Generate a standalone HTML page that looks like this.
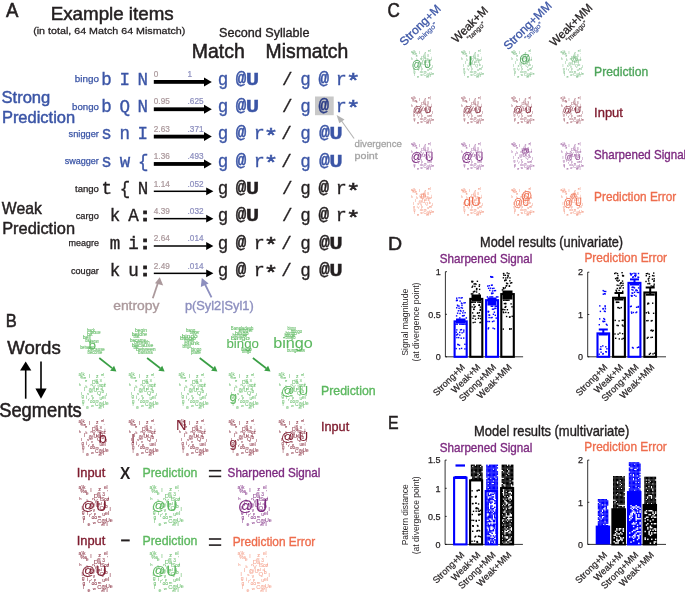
<!DOCTYPE html>
<html><head><meta charset="utf-8"><style>
html,body{margin:0;padding:0;background:#fff;overflow:hidden}
svg{display:block}
</style></head><body>
<svg width="685" height="592" viewBox="0 0 685 592">
<rect width="685" height="592" fill="#fff"/>
<text x="5.90" y="16.80" font-size="19.5" fill="#231f20" font-family="'Liberation Sans', Arial, sans-serif" stroke="#231f20" stroke-width="0.55" textLength="12.40" lengthAdjust="spacingAndGlyphs">A</text>
<text x="50.70" y="20.00" font-size="18.4" fill="#231f20" font-family="'Liberation Sans', Arial, sans-serif" stroke="#231f20" stroke-width="0.52" textLength="123.00" lengthAdjust="spacingAndGlyphs">Example items</text>
<text x="33.20" y="33.60" font-size="9.6" fill="#231f20" font-family="'Liberation Sans', Arial, sans-serif" stroke="#231f20" stroke-width="0.27" textLength="152.20" lengthAdjust="spacingAndGlyphs">(in total, 64 Match 64 Mismatch)</text>
<text x="219.00" y="36.90" font-size="13.0" fill="#231f20" font-family="'Liberation Sans', Arial, sans-serif" stroke="#231f20" stroke-width="0.36" textLength="90.40" lengthAdjust="spacingAndGlyphs">Second Syllable</text>
<text x="191.80" y="57.60" font-size="19.8" fill="#231f20" font-family="'Liberation Sans', Arial, sans-serif" stroke="#231f20" stroke-width="0.55" textLength="52.90" lengthAdjust="spacingAndGlyphs">Match</text>
<text x="265.60" y="57.60" font-size="19.8" fill="#231f20" font-family="'Liberation Sans', Arial, sans-serif" stroke="#231f20" stroke-width="0.55" textLength="82.70" lengthAdjust="spacingAndGlyphs">Mismatch</text>
<text x="1.50" y="103.30" font-size="16.2" fill="#3b55a6" font-family="'Liberation Sans', Arial, sans-serif" stroke="#3b55a6" stroke-width="0.45" textLength="48.80" lengthAdjust="spacingAndGlyphs">Strong</text>
<text x="1.90" y="123.40" font-size="16.2" fill="#3b55a6" font-family="'Liberation Sans', Arial, sans-serif" stroke="#3b55a6" stroke-width="0.45" textLength="73.30" lengthAdjust="spacingAndGlyphs">Prediction</text>
<text x="1.80" y="213.70" font-size="16.2" fill="#231f20" font-family="'Liberation Sans', Arial, sans-serif" stroke="#231f20" stroke-width="0.45" textLength="40.00" lengthAdjust="spacingAndGlyphs">Weak</text>
<text x="2.20" y="233.50" font-size="16.2" fill="#231f20" font-family="'Liberation Sans', Arial, sans-serif" stroke="#231f20" stroke-width="0.45" textLength="72.80" lengthAdjust="spacingAndGlyphs">Prediction</text>
<text x="74.80" y="82.30" font-size="9.0" fill="#3b55a6" font-family="'Liberation Sans', Arial, sans-serif" stroke="#3b55a6" stroke-width="0.25" textLength="24.10" lengthAdjust="spacingAndGlyphs">bingo</text>
<text x="106.60" y="84.50" font-size="17.5" fill="#3b55a6" font-family="'Liberation Mono', 'Courier New', monospace" text-anchor="middle" stroke="#3b55a6" stroke-width="0.35">b</text>
<text x="124.70" y="84.50" font-size="17.5" fill="#3b55a6" font-family="'Liberation Mono', 'Courier New', monospace" text-anchor="middle" stroke="#3b55a6" stroke-width="0.35">I</text>
<text x="142.80" y="84.50" font-size="17.5" fill="#3b55a6" font-family="'Liberation Mono', 'Courier New', monospace" text-anchor="middle" stroke="#3b55a6" stroke-width="0.35">N</text>
<text x="153.80" y="77.10" font-size="8.2" fill="#ab999c" font-family="'Liberation Sans', Arial, sans-serif" stroke="#ab999c" stroke-width="0.23">0</text>
<text x="187.60" y="77.10" font-size="8.2" fill="#8d8fbf" font-family="'Liberation Sans', Arial, sans-serif" stroke="#8d8fbf" stroke-width="0.23">1</text>
<rect x="153.8" y="80.00" width="51" height="3.8" fill="#000"/>
<polygon points="204,77.40 211.8,81.90 204,86.40" fill="#000"/>
<text x="223.00" y="84.50" font-size="17.5" fill="#3b55a6" font-family="'Liberation Mono', 'Courier New', monospace" text-anchor="middle" stroke="#3b55a6" stroke-width="0.3">g</text>
<text x="241.00" y="83.70" font-size="17.5" fill="#3b55a6" font-family="'Liberation Mono', 'Courier New', monospace" text-anchor="middle" font-weight="bold" stroke="#3b55a6" stroke-width="0.45">@</text>
<text x="252.50" y="84.50" font-size="17.5" fill="#3b55a6" font-family="'Liberation Mono', 'Courier New', monospace" textLength="13.50" lengthAdjust="spacingAndGlyphs" text-anchor="middle" font-weight="bold" stroke="#3b55a6" stroke-width="0.3">U</text>
<text x="287.30" y="84.50" font-size="17.5" fill="#231f20" font-family="'Liberation Mono', 'Courier New', monospace" text-anchor="middle" stroke="#231f20" stroke-width="0.3">/</text>
<text x="305.50" y="84.50" font-size="17.5" fill="#3b55a6" font-family="'Liberation Mono', 'Courier New', monospace" text-anchor="middle" stroke="#3b55a6" stroke-width="0.3">g</text>
<text x="323.70" y="83.70" font-size="17.5" fill="#3b55a6" font-family="'Liberation Mono', 'Courier New', monospace" text-anchor="middle" font-weight="bold" stroke="#3b55a6" stroke-width="0.45">@</text>
<text x="341.20" y="84.50" font-size="17.5" fill="#3b55a6" font-family="'Liberation Mono', 'Courier New', monospace" textLength="11.00" lengthAdjust="spacingAndGlyphs" text-anchor="middle" stroke="#3b55a6" stroke-width="0.3">r</text>
<text x="353.30" y="88.10" font-size="21" fill="#3b55a6" font-family="'Liberation Mono', 'Courier New', monospace" textLength="14.50" lengthAdjust="spacingAndGlyphs" text-anchor="middle" stroke="#3b55a6" stroke-width="0.6">*</text>
<rect x="315" y="96.5" width="18.7" height="18.7" fill="#c8c8c8"/>
<text x="72.10" y="109.65" font-size="9.0" fill="#3b55a6" font-family="'Liberation Sans', Arial, sans-serif" stroke="#3b55a6" stroke-width="0.25" textLength="26.80" lengthAdjust="spacingAndGlyphs">bongo</text>
<text x="106.60" y="111.85" font-size="17.5" fill="#3b55a6" font-family="'Liberation Mono', 'Courier New', monospace" text-anchor="middle" stroke="#3b55a6" stroke-width="0.35">b</text>
<text x="124.70" y="111.85" font-size="17.5" fill="#3b55a6" font-family="'Liberation Mono', 'Courier New', monospace" text-anchor="middle" stroke="#3b55a6" stroke-width="0.35">Q</text>
<text x="142.80" y="111.85" font-size="17.5" fill="#3b55a6" font-family="'Liberation Mono', 'Courier New', monospace" text-anchor="middle" stroke="#3b55a6" stroke-width="0.35">N</text>
<text x="153.80" y="104.45" font-size="8.2" fill="#ab999c" font-family="'Liberation Sans', Arial, sans-serif" stroke="#ab999c" stroke-width="0.23">0.95</text>
<text x="187.60" y="104.45" font-size="8.2" fill="#8d8fbf" font-family="'Liberation Sans', Arial, sans-serif" stroke="#8d8fbf" stroke-width="0.23">.625</text>
<rect x="153.8" y="107.35" width="51" height="3.8" fill="#000"/>
<polygon points="204,104.75 211.8,109.25 204,113.75" fill="#000"/>
<text x="223.00" y="111.85" font-size="17.5" fill="#3b55a6" font-family="'Liberation Mono', 'Courier New', monospace" text-anchor="middle" stroke="#3b55a6" stroke-width="0.3">g</text>
<text x="241.00" y="111.05" font-size="17.5" fill="#3b55a6" font-family="'Liberation Mono', 'Courier New', monospace" text-anchor="middle" font-weight="bold" stroke="#3b55a6" stroke-width="0.45">@</text>
<text x="252.50" y="111.85" font-size="17.5" fill="#3b55a6" font-family="'Liberation Mono', 'Courier New', monospace" textLength="13.50" lengthAdjust="spacingAndGlyphs" text-anchor="middle" font-weight="bold" stroke="#3b55a6" stroke-width="0.3">U</text>
<text x="287.30" y="111.85" font-size="17.5" fill="#231f20" font-family="'Liberation Mono', 'Courier New', monospace" text-anchor="middle" stroke="#231f20" stroke-width="0.3">/</text>
<text x="305.50" y="111.85" font-size="17.5" fill="#3b55a6" font-family="'Liberation Mono', 'Courier New', monospace" text-anchor="middle" stroke="#3b55a6" stroke-width="0.3">g</text>
<text x="323.70" y="111.05" font-size="17.5" fill="#2a3c86" font-family="'Liberation Mono', 'Courier New', monospace" text-anchor="middle" font-weight="bold" stroke="#2a3c86" stroke-width="0.45">@</text>
<text x="341.20" y="111.85" font-size="17.5" fill="#3b55a6" font-family="'Liberation Mono', 'Courier New', monospace" textLength="11.00" lengthAdjust="spacingAndGlyphs" text-anchor="middle" stroke="#3b55a6" stroke-width="0.3">r</text>
<text x="353.30" y="115.45" font-size="21" fill="#3b55a6" font-family="'Liberation Mono', 'Courier New', monospace" textLength="14.50" lengthAdjust="spacingAndGlyphs" text-anchor="middle" stroke="#3b55a6" stroke-width="0.6">*</text>
<text x="68.60" y="137.00" font-size="9.0" fill="#3b55a6" font-family="'Liberation Sans', Arial, sans-serif" stroke="#3b55a6" stroke-width="0.25" textLength="30.30" lengthAdjust="spacingAndGlyphs">snigger</text>
<text x="106.60" y="139.20" font-size="17.5" fill="#3b55a6" font-family="'Liberation Mono', 'Courier New', monospace" text-anchor="middle" stroke="#3b55a6" stroke-width="0.35">s</text>
<text x="124.70" y="139.20" font-size="17.5" fill="#3b55a6" font-family="'Liberation Mono', 'Courier New', monospace" text-anchor="middle" stroke="#3b55a6" stroke-width="0.35">n</text>
<text x="142.80" y="139.20" font-size="17.5" fill="#3b55a6" font-family="'Liberation Mono', 'Courier New', monospace" text-anchor="middle" stroke="#3b55a6" stroke-width="0.35">I</text>
<text x="153.80" y="131.80" font-size="8.2" fill="#ab999c" font-family="'Liberation Sans', Arial, sans-serif" stroke="#ab999c" stroke-width="0.23">2.63</text>
<text x="187.60" y="131.80" font-size="8.2" fill="#8d8fbf" font-family="'Liberation Sans', Arial, sans-serif" stroke="#8d8fbf" stroke-width="0.23">.371</text>
<rect x="153.8" y="134.70" width="51" height="3.8" fill="#000"/>
<polygon points="204,132.10 211.8,136.60 204,141.10" fill="#000"/>
<text x="223.00" y="139.20" font-size="17.5" fill="#3b55a6" font-family="'Liberation Mono', 'Courier New', monospace" text-anchor="middle" stroke="#3b55a6" stroke-width="0.3">g</text>
<text x="241.00" y="138.40" font-size="17.5" fill="#3b55a6" font-family="'Liberation Mono', 'Courier New', monospace" text-anchor="middle" font-weight="bold" stroke="#3b55a6" stroke-width="0.45">@</text>
<text x="259.30" y="139.20" font-size="17.5" fill="#3b55a6" font-family="'Liberation Mono', 'Courier New', monospace" textLength="11.00" lengthAdjust="spacingAndGlyphs" text-anchor="middle" stroke="#3b55a6" stroke-width="0.3">r</text>
<text x="271.00" y="142.80" font-size="21" fill="#3b55a6" font-family="'Liberation Mono', 'Courier New', monospace" textLength="14.50" lengthAdjust="spacingAndGlyphs" text-anchor="middle" stroke="#3b55a6" stroke-width="0.6">*</text>
<text x="286.50" y="139.20" font-size="17.5" fill="#231f20" font-family="'Liberation Mono', 'Courier New', monospace" text-anchor="middle" stroke="#231f20" stroke-width="0.3">/</text>
<text x="305.50" y="139.20" font-size="17.5" fill="#3b55a6" font-family="'Liberation Mono', 'Courier New', monospace" text-anchor="middle" stroke="#3b55a6" stroke-width="0.3">g</text>
<text x="324.50" y="138.40" font-size="17.5" fill="#3b55a6" font-family="'Liberation Mono', 'Courier New', monospace" text-anchor="middle" font-weight="bold" stroke="#3b55a6" stroke-width="0.45">@</text>
<text x="336.00" y="139.20" font-size="17.5" fill="#3b55a6" font-family="'Liberation Mono', 'Courier New', monospace" textLength="13.50" lengthAdjust="spacingAndGlyphs" text-anchor="middle" font-weight="bold" stroke="#3b55a6" stroke-width="0.3">U</text>
<text x="64.70" y="164.35" font-size="9.0" fill="#3b55a6" font-family="'Liberation Sans', Arial, sans-serif" stroke="#3b55a6" stroke-width="0.25" textLength="34.20" lengthAdjust="spacingAndGlyphs">swagger</text>
<text x="106.60" y="166.55" font-size="17.5" fill="#3b55a6" font-family="'Liberation Mono', 'Courier New', monospace" text-anchor="middle" stroke="#3b55a6" stroke-width="0.35">s</text>
<text x="125.10" y="166.55" font-size="17.5" fill="#3b55a6" font-family="'Liberation Mono', 'Courier New', monospace" text-anchor="middle" stroke="#3b55a6" stroke-width="0.35">w</text>
<text x="143.30" y="166.55" font-size="17.5" fill="#3b55a6" font-family="'Liberation Mono', 'Courier New', monospace" text-anchor="middle" stroke="#3b55a6" stroke-width="0.35">{</text>
<text x="153.80" y="159.15" font-size="8.2" fill="#ab999c" font-family="'Liberation Sans', Arial, sans-serif" stroke="#ab999c" stroke-width="0.23">1.36</text>
<text x="187.60" y="159.15" font-size="8.2" fill="#8d8fbf" font-family="'Liberation Sans', Arial, sans-serif" stroke="#8d8fbf" stroke-width="0.23">.493</text>
<rect x="153.8" y="162.05" width="51" height="3.8" fill="#000"/>
<polygon points="204,159.45 211.8,163.95 204,168.45" fill="#000"/>
<text x="223.00" y="166.55" font-size="17.5" fill="#3b55a6" font-family="'Liberation Mono', 'Courier New', monospace" text-anchor="middle" stroke="#3b55a6" stroke-width="0.3">g</text>
<text x="241.00" y="165.75" font-size="17.5" fill="#3b55a6" font-family="'Liberation Mono', 'Courier New', monospace" text-anchor="middle" font-weight="bold" stroke="#3b55a6" stroke-width="0.45">@</text>
<text x="259.30" y="166.55" font-size="17.5" fill="#3b55a6" font-family="'Liberation Mono', 'Courier New', monospace" textLength="11.00" lengthAdjust="spacingAndGlyphs" text-anchor="middle" stroke="#3b55a6" stroke-width="0.3">r</text>
<text x="271.00" y="170.15" font-size="21" fill="#3b55a6" font-family="'Liberation Mono', 'Courier New', monospace" textLength="14.50" lengthAdjust="spacingAndGlyphs" text-anchor="middle" stroke="#3b55a6" stroke-width="0.6">*</text>
<text x="286.50" y="166.55" font-size="17.5" fill="#231f20" font-family="'Liberation Mono', 'Courier New', monospace" text-anchor="middle" stroke="#231f20" stroke-width="0.3">/</text>
<text x="305.50" y="166.55" font-size="17.5" fill="#3b55a6" font-family="'Liberation Mono', 'Courier New', monospace" text-anchor="middle" stroke="#3b55a6" stroke-width="0.3">g</text>
<text x="324.50" y="165.75" font-size="17.5" fill="#3b55a6" font-family="'Liberation Mono', 'Courier New', monospace" text-anchor="middle" font-weight="bold" stroke="#3b55a6" stroke-width="0.45">@</text>
<text x="336.00" y="166.55" font-size="17.5" fill="#3b55a6" font-family="'Liberation Mono', 'Courier New', monospace" textLength="13.50" lengthAdjust="spacingAndGlyphs" text-anchor="middle" font-weight="bold" stroke="#3b55a6" stroke-width="0.3">U</text>
<text x="75.00" y="191.70" font-size="9.0" fill="#231f20" font-family="'Liberation Sans', Arial, sans-serif" stroke="#231f20" stroke-width="0.25" textLength="23.90" lengthAdjust="spacingAndGlyphs">tango</text>
<text x="106.70" y="193.90" font-size="17.5" fill="#231f20" font-family="'Liberation Mono', 'Courier New', monospace" text-anchor="middle" stroke="#231f20" stroke-width="0.35">t</text>
<text x="125.00" y="193.90" font-size="17.5" fill="#231f20" font-family="'Liberation Mono', 'Courier New', monospace" text-anchor="middle" stroke="#231f20" stroke-width="0.35">{</text>
<text x="143.00" y="193.90" font-size="17.5" fill="#231f20" font-family="'Liberation Mono', 'Courier New', monospace" text-anchor="middle" stroke="#231f20" stroke-width="0.35">N</text>
<text x="153.80" y="186.50" font-size="8.2" fill="#ab999c" font-family="'Liberation Sans', Arial, sans-serif" stroke="#ab999c" stroke-width="0.23">1.14</text>
<text x="187.60" y="186.50" font-size="8.2" fill="#8d8fbf" font-family="'Liberation Sans', Arial, sans-serif" stroke="#8d8fbf" stroke-width="0.23">.052</text>
<rect x="153.8" y="190.55" width="53" height="1.5" fill="#000"/>
<polygon points="206.2,187.40 213.4,191.30 206.2,195.20" fill="#000"/>
<text x="223.00" y="193.90" font-size="17.5" fill="#231f20" font-family="'Liberation Mono', 'Courier New', monospace" text-anchor="middle" stroke="#231f20" stroke-width="0.3">g</text>
<text x="241.00" y="193.10" font-size="17.5" fill="#231f20" font-family="'Liberation Mono', 'Courier New', monospace" text-anchor="middle" font-weight="bold" stroke="#231f20" stroke-width="0.45">@</text>
<text x="252.50" y="193.90" font-size="17.5" fill="#231f20" font-family="'Liberation Mono', 'Courier New', monospace" textLength="13.50" lengthAdjust="spacingAndGlyphs" text-anchor="middle" font-weight="bold" stroke="#231f20" stroke-width="0.3">U</text>
<text x="287.30" y="193.90" font-size="17.5" fill="#231f20" font-family="'Liberation Mono', 'Courier New', monospace" text-anchor="middle" stroke="#231f20" stroke-width="0.3">/</text>
<text x="305.50" y="193.90" font-size="17.5" fill="#231f20" font-family="'Liberation Mono', 'Courier New', monospace" text-anchor="middle" stroke="#231f20" stroke-width="0.3">g</text>
<text x="323.70" y="193.10" font-size="17.5" fill="#231f20" font-family="'Liberation Mono', 'Courier New', monospace" text-anchor="middle" font-weight="bold" stroke="#231f20" stroke-width="0.45">@</text>
<text x="341.20" y="193.90" font-size="17.5" fill="#231f20" font-family="'Liberation Mono', 'Courier New', monospace" textLength="11.00" lengthAdjust="spacingAndGlyphs" text-anchor="middle" stroke="#231f20" stroke-width="0.3">r</text>
<text x="353.30" y="197.50" font-size="21" fill="#231f20" font-family="'Liberation Mono', 'Courier New', monospace" textLength="14.50" lengthAdjust="spacingAndGlyphs" text-anchor="middle" stroke="#231f20" stroke-width="0.6">*</text>
<text x="75.70" y="219.05" font-size="9.0" fill="#231f20" font-family="'Liberation Sans', Arial, sans-serif" stroke="#231f20" stroke-width="0.25" textLength="23.20" lengthAdjust="spacingAndGlyphs">cargo</text>
<text x="114.90" y="221.25" font-size="17.5" fill="#231f20" font-family="'Liberation Mono', 'Courier New', monospace" text-anchor="middle" stroke="#231f20" stroke-width="0.35">k</text>
<text x="133.40" y="221.25" font-size="17.5" fill="#231f20" font-family="'Liberation Mono', 'Courier New', monospace" text-anchor="middle" stroke="#231f20" stroke-width="0.35">A</text>
<text x="145.00" y="221.25" font-size="18.5" fill="#231f20" font-family="'Liberation Mono', 'Courier New', monospace" text-anchor="middle" font-weight="bold" stroke="#231f20" stroke-width="1.1">:</text>
<text x="153.80" y="213.85" font-size="8.2" fill="#ab999c" font-family="'Liberation Sans', Arial, sans-serif" stroke="#ab999c" stroke-width="0.23">4.39</text>
<text x="187.60" y="213.85" font-size="8.2" fill="#8d8fbf" font-family="'Liberation Sans', Arial, sans-serif" stroke="#8d8fbf" stroke-width="0.23">.032</text>
<rect x="153.8" y="217.90" width="53" height="1.5" fill="#000"/>
<polygon points="206.2,214.75 213.4,218.65 206.2,222.55" fill="#000"/>
<text x="223.00" y="221.25" font-size="17.5" fill="#231f20" font-family="'Liberation Mono', 'Courier New', monospace" text-anchor="middle" stroke="#231f20" stroke-width="0.3">g</text>
<text x="241.00" y="220.45" font-size="17.5" fill="#231f20" font-family="'Liberation Mono', 'Courier New', monospace" text-anchor="middle" font-weight="bold" stroke="#231f20" stroke-width="0.45">@</text>
<text x="252.50" y="221.25" font-size="17.5" fill="#231f20" font-family="'Liberation Mono', 'Courier New', monospace" textLength="13.50" lengthAdjust="spacingAndGlyphs" text-anchor="middle" font-weight="bold" stroke="#231f20" stroke-width="0.3">U</text>
<text x="287.30" y="221.25" font-size="17.5" fill="#231f20" font-family="'Liberation Mono', 'Courier New', monospace" text-anchor="middle" stroke="#231f20" stroke-width="0.3">/</text>
<text x="305.50" y="221.25" font-size="17.5" fill="#231f20" font-family="'Liberation Mono', 'Courier New', monospace" text-anchor="middle" stroke="#231f20" stroke-width="0.3">g</text>
<text x="323.70" y="220.45" font-size="17.5" fill="#231f20" font-family="'Liberation Mono', 'Courier New', monospace" text-anchor="middle" font-weight="bold" stroke="#231f20" stroke-width="0.45">@</text>
<text x="341.20" y="221.25" font-size="17.5" fill="#231f20" font-family="'Liberation Mono', 'Courier New', monospace" textLength="11.00" lengthAdjust="spacingAndGlyphs" text-anchor="middle" stroke="#231f20" stroke-width="0.3">r</text>
<text x="353.30" y="224.85" font-size="21" fill="#231f20" font-family="'Liberation Mono', 'Courier New', monospace" textLength="14.50" lengthAdjust="spacingAndGlyphs" text-anchor="middle" stroke="#231f20" stroke-width="0.6">*</text>
<text x="68.40" y="246.40" font-size="9.0" fill="#231f20" font-family="'Liberation Sans', Arial, sans-serif" stroke="#231f20" stroke-width="0.25" textLength="30.50" lengthAdjust="spacingAndGlyphs">meagre</text>
<text x="115.00" y="248.60" font-size="17.5" fill="#231f20" font-family="'Liberation Mono', 'Courier New', monospace" text-anchor="middle" stroke="#231f20" stroke-width="0.35">m</text>
<text x="133.40" y="248.60" font-size="17.5" fill="#231f20" font-family="'Liberation Mono', 'Courier New', monospace" text-anchor="middle" stroke="#231f20" stroke-width="0.35">i</text>
<text x="145.00" y="248.60" font-size="18.5" fill="#231f20" font-family="'Liberation Mono', 'Courier New', monospace" text-anchor="middle" font-weight="bold" stroke="#231f20" stroke-width="1.1">:</text>
<text x="153.80" y="241.20" font-size="8.2" fill="#ab999c" font-family="'Liberation Sans', Arial, sans-serif" stroke="#ab999c" stroke-width="0.23">2.64</text>
<text x="187.60" y="241.20" font-size="8.2" fill="#8d8fbf" font-family="'Liberation Sans', Arial, sans-serif" stroke="#8d8fbf" stroke-width="0.23">.014</text>
<rect x="153.8" y="245.25" width="53" height="1.5" fill="#000"/>
<polygon points="206.2,242.10 213.4,246.00 206.2,249.90" fill="#000"/>
<text x="223.00" y="248.60" font-size="17.5" fill="#231f20" font-family="'Liberation Mono', 'Courier New', monospace" text-anchor="middle" stroke="#231f20" stroke-width="0.3">g</text>
<text x="241.00" y="247.80" font-size="17.5" fill="#231f20" font-family="'Liberation Mono', 'Courier New', monospace" text-anchor="middle" font-weight="bold" stroke="#231f20" stroke-width="0.45">@</text>
<text x="259.30" y="248.60" font-size="17.5" fill="#231f20" font-family="'Liberation Mono', 'Courier New', monospace" textLength="11.00" lengthAdjust="spacingAndGlyphs" text-anchor="middle" stroke="#231f20" stroke-width="0.3">r</text>
<text x="271.00" y="252.20" font-size="21" fill="#231f20" font-family="'Liberation Mono', 'Courier New', monospace" textLength="14.50" lengthAdjust="spacingAndGlyphs" text-anchor="middle" stroke="#231f20" stroke-width="0.6">*</text>
<text x="286.50" y="248.60" font-size="17.5" fill="#231f20" font-family="'Liberation Mono', 'Courier New', monospace" text-anchor="middle" stroke="#231f20" stroke-width="0.3">/</text>
<text x="305.50" y="248.60" font-size="17.5" fill="#231f20" font-family="'Liberation Mono', 'Courier New', monospace" text-anchor="middle" stroke="#231f20" stroke-width="0.3">g</text>
<text x="324.50" y="247.80" font-size="17.5" fill="#231f20" font-family="'Liberation Mono', 'Courier New', monospace" text-anchor="middle" font-weight="bold" stroke="#231f20" stroke-width="0.45">@</text>
<text x="336.00" y="248.60" font-size="17.5" fill="#231f20" font-family="'Liberation Mono', 'Courier New', monospace" textLength="13.50" lengthAdjust="spacingAndGlyphs" text-anchor="middle" font-weight="bold" stroke="#231f20" stroke-width="0.3">U</text>
<text x="70.90" y="273.75" font-size="9.0" fill="#231f20" font-family="'Liberation Sans', Arial, sans-serif" stroke="#231f20" stroke-width="0.25" textLength="28.00" lengthAdjust="spacingAndGlyphs">cougar</text>
<text x="114.90" y="275.95" font-size="17.5" fill="#231f20" font-family="'Liberation Mono', 'Courier New', monospace" text-anchor="middle" stroke="#231f20" stroke-width="0.35">k</text>
<text x="133.40" y="275.95" font-size="17.5" fill="#231f20" font-family="'Liberation Mono', 'Courier New', monospace" text-anchor="middle" stroke="#231f20" stroke-width="0.35">u</text>
<text x="145.00" y="275.95" font-size="18.5" fill="#231f20" font-family="'Liberation Mono', 'Courier New', monospace" text-anchor="middle" font-weight="bold" stroke="#231f20" stroke-width="1.1">:</text>
<text x="153.80" y="268.55" font-size="8.2" fill="#ab999c" font-family="'Liberation Sans', Arial, sans-serif" stroke="#ab999c" stroke-width="0.23">2.49</text>
<text x="187.60" y="268.55" font-size="8.2" fill="#8d8fbf" font-family="'Liberation Sans', Arial, sans-serif" stroke="#8d8fbf" stroke-width="0.23">.014</text>
<rect x="153.8" y="272.60" width="53" height="1.5" fill="#000"/>
<polygon points="206.2,269.45 213.4,273.35 206.2,277.25" fill="#000"/>
<text x="223.00" y="275.95" font-size="17.5" fill="#231f20" font-family="'Liberation Mono', 'Courier New', monospace" text-anchor="middle" stroke="#231f20" stroke-width="0.3">g</text>
<text x="241.00" y="275.15" font-size="17.5" fill="#231f20" font-family="'Liberation Mono', 'Courier New', monospace" text-anchor="middle" font-weight="bold" stroke="#231f20" stroke-width="0.45">@</text>
<text x="259.30" y="275.95" font-size="17.5" fill="#231f20" font-family="'Liberation Mono', 'Courier New', monospace" textLength="11.00" lengthAdjust="spacingAndGlyphs" text-anchor="middle" stroke="#231f20" stroke-width="0.3">r</text>
<text x="271.00" y="279.55" font-size="21" fill="#231f20" font-family="'Liberation Mono', 'Courier New', monospace" textLength="14.50" lengthAdjust="spacingAndGlyphs" text-anchor="middle" stroke="#231f20" stroke-width="0.6">*</text>
<text x="286.50" y="275.95" font-size="17.5" fill="#231f20" font-family="'Liberation Mono', 'Courier New', monospace" text-anchor="middle" stroke="#231f20" stroke-width="0.3">/</text>
<text x="305.50" y="275.95" font-size="17.5" fill="#231f20" font-family="'Liberation Mono', 'Courier New', monospace" text-anchor="middle" stroke="#231f20" stroke-width="0.3">g</text>
<text x="324.50" y="275.15" font-size="17.5" fill="#231f20" font-family="'Liberation Mono', 'Courier New', monospace" text-anchor="middle" font-weight="bold" stroke="#231f20" stroke-width="0.45">@</text>
<text x="336.00" y="275.95" font-size="17.5" fill="#231f20" font-family="'Liberation Mono', 'Courier New', monospace" textLength="13.50" lengthAdjust="spacingAndGlyphs" text-anchor="middle" font-weight="bold" stroke="#231f20" stroke-width="0.3">U</text>
<line x1="354.1" y1="138.5" x2="340" y2="118.8" stroke="#b4b4b4" stroke-width="1.1"/>
<polygon points="336.6,115.1 344.5,119.6 339.3,123.3" fill="#b4b4b4"/>
<text x="354.60" y="146.80" font-size="9.6" fill="#a3a3a3" font-family="'Liberation Sans', Arial, sans-serif" stroke="#a3a3a3" stroke-width="0.27" textLength="47.30" lengthAdjust="spacingAndGlyphs">divergence</text>
<text x="354.60" y="158.60" font-size="9.6" fill="#a3a3a3" font-family="'Liberation Sans', Arial, sans-serif" stroke="#a3a3a3" stroke-width="0.27" textLength="23.20" lengthAdjust="spacingAndGlyphs">point</text>
<line x1="152.8" y1="298.3" x2="158.6" y2="281" stroke="#ab999c" stroke-width="1.8"/>
<polygon points="159.8,277.3 163.2,285.5 155.0,283.2" fill="#ab999c"/>
<line x1="211.5" y1="297.4" x2="203.6" y2="281.5" stroke="#8d8fbf" stroke-width="1.8"/>
<polygon points="201.8,278.1 208.6,283.6 200.8,287.0" fill="#8d8fbf"/>
<text x="113.20" y="310.00" font-size="13.0" fill="#ab999c" font-family="'Liberation Sans', Arial, sans-serif" stroke="#ab999c" stroke-width="0.36" textLength="46.30" lengthAdjust="spacingAndGlyphs">entropy</text>
<text x="184.90" y="310.00" font-size="13.0" fill="#8d8fbf" font-family="'Liberation Sans', Arial, sans-serif" stroke="#8d8fbf" stroke-width="0.36" textLength="68.80" lengthAdjust="spacingAndGlyphs">p(Syl2|Syl1)</text>
<text x="5.70" y="327.00" font-size="18.5" fill="#231f20" font-family="'Liberation Sans', Arial, sans-serif" stroke="#231f20" stroke-width="0.52" textLength="11.00" lengthAdjust="spacingAndGlyphs">B</text>
<text x="7.30" y="353.60" font-size="18.8" fill="#231f20" font-family="'Liberation Sans', Arial, sans-serif" stroke="#231f20" stroke-width="0.53" textLength="53.40" lengthAdjust="spacingAndGlyphs">Words</text>
<text x="-0.80" y="416.70" font-size="19.5" fill="#231f20" font-family="'Liberation Sans', Arial, sans-serif" stroke="#231f20" stroke-width="0.55" textLength="82.50" lengthAdjust="spacingAndGlyphs">Segments</text>
<line x1="25.7" y1="369" x2="25.7" y2="398.7" stroke="#000" stroke-width="1.6"/>
<polygon points="25.7,361.6 31.3,370.5 20.1,370.5" fill="#000"/>
<line x1="41" y1="361.6" x2="41" y2="390" stroke="#000" stroke-width="1.6"/>
<polygon points="41,398.7 46.6,388.6 35.4,388.6" fill="#000"/>
<g fill="#5cb85f" stroke="#5cb85f" stroke-width="0.15" font-family="'Liberation Sans', Arial, sans-serif" opacity="0.85"><text x="87" y="331.8" font-size="4.6" textLength="8" lengthAdjust="spacingAndGlyphs">back</text><text x="90.7" y="334.3" font-size="4.6" textLength="9.8" lengthAdjust="spacingAndGlyphs">because</text><text x="87" y="336" font-size="4.6" textLength="5.5" lengthAdjust="spacingAndGlyphs">bit</text><text x="82.7" y="339.2" font-size="4.6" textLength="8" lengthAdjust="spacingAndGlyphs">bell</text><text x="85.2" y="341.6" font-size="4.6" textLength="6" lengthAdjust="spacingAndGlyphs">bay</text><text x="90" y="343.2" font-size="4.6" textLength="8.7" lengthAdjust="spacingAndGlyphs">began</text><text x="80.3" y="348.5" font-size="4.6" textLength="14.1" lengthAdjust="spacingAndGlyphs">between</text><text x="88.3" y="351.4" font-size="4.6" textLength="16.5" lengthAdjust="spacingAndGlyphs">because</text><text x="87.6" y="353.9" font-size="4.6" textLength="14.8" lengthAdjust="spacingAndGlyphs">become</text><text x="134.9" y="332" font-size="4.6" textLength="12.2" lengthAdjust="spacingAndGlyphs">begin</text><text x="131.8" y="335.7" font-size="4.6" textLength="15.3" lengthAdjust="spacingAndGlyphs">before</text><text x="133.5" y="338.3" font-size="4.6" textLength="6" lengthAdjust="spacingAndGlyphs">bat</text><text x="130" y="341.6" font-size="4.6" textLength="15.9" lengthAdjust="spacingAndGlyphs">became</text><text x="134.2" y="343.5" font-size="4.6" textLength="15.4" lengthAdjust="spacingAndGlyphs">beneath</text><text x="131.8" y="346.5" font-size="4.6" textLength="21.5" lengthAdjust="spacingAndGlyphs">because</text><text x="133.5" y="348.5" font-size="4.6" textLength="5" lengthAdjust="spacingAndGlyphs">bit</text><text x="136" y="351" font-size="4.6" textLength="19.7" lengthAdjust="spacingAndGlyphs">between</text><text x="138" y="353.9" font-size="4.6" textLength="14.6" lengthAdjust="spacingAndGlyphs">banana</text><text x="186" y="331.8" font-size="4.6" textLength="9.2" lengthAdjust="spacingAndGlyphs">bang</text><text x="189.7" y="334" font-size="4.6" textLength="9.8" lengthAdjust="spacingAndGlyphs">bigger</text><text x="181.7" y="337.5" font-size="4.6" textLength="16" lengthAdjust="spacingAndGlyphs">bingo</text><text x="180" y="339.8" font-size="4.6" textLength="15.8" lengthAdjust="spacingAndGlyphs">bingo</text><text x="184.2" y="342" font-size="4.6" textLength="10.4" lengthAdjust="spacingAndGlyphs">think</text><text x="184.2" y="345.4" font-size="4.6" textLength="15.3" lengthAdjust="spacingAndGlyphs">plank</text><text x="182.4" y="348" font-size="4.6" textLength="8.6" lengthAdjust="spacingAndGlyphs">bingo</text><text x="191" y="351" font-size="4.6" textLength="10.4" lengthAdjust="spacingAndGlyphs">bingo</text><text x="191" y="353.9" font-size="4.6" textLength="9.8" lengthAdjust="spacingAndGlyphs">plate</text><text x="230.8" y="329.7" font-size="4.6" textLength="22.7" lengthAdjust="spacingAndGlyphs">Bangladesh</text><text x="238.8" y="332.4" font-size="4.6" textLength="14.1" lengthAdjust="spacingAndGlyphs">bigger</text><text x="235" y="334.9" font-size="4.6" textLength="13.6" lengthAdjust="spacingAndGlyphs">bingo</text><text x="232.6" y="337.3" font-size="4.6" textLength="14.7" lengthAdjust="spacingAndGlyphs">bungee</text><text x="230.8" y="339.8" font-size="4.6" textLength="19" lengthAdjust="spacingAndGlyphs">bingo</text><text x="241.2" y="351.4" font-size="4.6" textLength="10.4" lengthAdjust="spacingAndGlyphs">bingo</text><text x="242" y="352.9" font-size="4.6" textLength="9" lengthAdjust="spacingAndGlyphs">bingo</text><text x="287.6" y="330.2" font-size="4.6" textLength="8.2" lengthAdjust="spacingAndGlyphs">bingo</text><text x="290.7" y="332.7" font-size="4.6" textLength="11.2" lengthAdjust="spacingAndGlyphs">bongo</text><text x="285.5" y="334.8" font-size="4.6" textLength="11.3" lengthAdjust="spacingAndGlyphs">bingo</text><text x="284.5" y="337.3" font-size="4.6" textLength="10.8" lengthAdjust="spacingAndGlyphs">bingo</text><text x="285.5" y="339.4" font-size="4.6" textLength="10" lengthAdjust="spacingAndGlyphs">bingo</text><text x="287" y="352" font-size="4.6" textLength="18" lengthAdjust="spacingAndGlyphs">bungalow</text></g>
<text x="88.40" y="349.00" font-size="10.5" fill="#5cb85f" font-family="'Liberation Sans', Arial, sans-serif" textLength="7.60" lengthAdjust="spacingAndGlyphs">b</text>
<text x="226.50" y="348.10" font-size="12.5" fill="#5cb85f" font-family="'Liberation Sans', Arial, sans-serif" stroke="#5cb85f" stroke-width="0.1" textLength="32.40" lengthAdjust="spacingAndGlyphs">bingo</text>
<text x="273.20" y="348.10" font-size="15.5" fill="#5cb85f" font-family="'Liberation Sans', Arial, sans-serif" stroke="#5cb85f" stroke-width="0.1" textLength="39.60" lengthAdjust="spacingAndGlyphs">bingo</text>
<line x1="99.3" y1="358" x2="112.10" y2="368.18" stroke="#3a9f45" stroke-width="1.7"/>
<polygon points="116.4,371.6 110.10,370.68 114.09,365.67" fill="#3a9f45"/>
<line x1="147.1" y1="358" x2="160.26" y2="368.23" stroke="#3a9f45" stroke-width="1.7"/>
<polygon points="164.6,371.6 158.29,370.75 162.22,365.70" fill="#3a9f45"/>
<line x1="199.7" y1="358" x2="213.04" y2="368.25" stroke="#3a9f45" stroke-width="1.7"/>
<polygon points="217.4,371.6 211.09,370.79 214.99,365.71" fill="#3a9f45"/>
<line x1="252.9" y1="358" x2="266.15" y2="368.24" stroke="#3a9f45" stroke-width="1.7"/>
<polygon points="270.5,371.6 264.19,370.77 268.10,365.70" fill="#3a9f45"/>
<g transform="translate(78.00,372.00) scale(1.0)" fill="#5cb85f" stroke="#5cb85f" stroke-width="0.08" font-family="'Liberation Sans', Arial, sans-serif" opacity="0.85"><text x="0.5" y="4.4" font-size="4.48">a}k</text><text x="2.0" y="7.4" font-size="4.26">%e</text><text x="7.0" y="9.6" font-size="4.03">e</text><text x="10.8" y="6.2" font-size="4.48">I</text><text x="17.9" y="5.8" font-size="4.93">z</text><text x="22.9" y="3.7" font-size="4.26">el</text><text x="25.7" y="8.0" font-size="4.03">'</text><text x="14.0" y="12.2" font-size="5.15">Da</text><text x="21.5" y="10.2" font-size="4.26">3</text><text x="19.5" y="14.9" font-size="4.26">tS</text><text x="23.0" y="15.0" font-size="4.48">oz</text><text x="14.4" y="16.6" font-size="4.48">V</text><text x="5.9" y="18.9" font-size="4.70">I</text><text x="10.5" y="20.2" font-size="4.93">@</text><text x="15.4" y="19.5" font-size="5.15">U</text><text x="19.0" y="22.7" font-size="5.38">Q</text><text x="23.6" y="20.9" font-size="4.70">b</text><text x="3.0" y="22.8" font-size="4.26">I</text><text x="27.9" y="23.5" font-size="4.26">I</text><text x="3.4" y="26.4" font-size="4.48">g</text><text x="8.0" y="26.6" font-size="4.48">i</text><text x="10.0" y="28.5" font-size="4.03">r'</text><text x="21.5" y="27.8" font-size="4.48">u</text><text x="24.0" y="27.2" font-size="4.70">eI</text><text x="4.0" y="30.8" font-size="4.48">g</text><text x="11.9" y="30.8" font-size="4.48">oo</text><text x="17.0" y="34.0" font-size="4.93">C@</text><text x="25.0" y="36.3" font-size="5.15">I</text><text x="24.7" y="33.0" font-size="4.70">Ue</text><text x="8.3" y="37.0" font-size="4.70">e</text><text x="4.5" y="34.0" font-size="4.03">I</text><text x="13.0" y="24.5" font-size="4.03">v</text><text x="16.5" y="9.5" font-size="3.81">tS</text><text x="12.5" y="14.0" font-size="3.81">n</text><text x="18.0" y="18.0" font-size="3.81">aI</text><text x="22.5" y="18.0" font-size="3.81">d</text><text x="7.5" y="15.5" font-size="3.81">k</text><text x="9.0" y="22.5" font-size="3.81">s</text><text x="14.0" y="27.0" font-size="3.81">p</text><text x="17.5" y="30.0" font-size="3.81">m</text><text x="20.5" y="37.0" font-size="3.81">eI</text><text x="1.0" y="14.0" font-size="3.58">h</text><text x="26.5" y="12.5" font-size="3.81">j</text><text x="13.0" y="35.0" font-size="3.81">w</text></g>
<g transform="translate(78.00,418.50) scale(1.0)" fill="#7e1b2e" stroke="#7e1b2e" stroke-width="0.08" font-family="'Liberation Sans', Arial, sans-serif" opacity="0.85"><text x="0.5" y="4.4" font-size="4.48">a}k</text><text x="2.0" y="7.4" font-size="4.26">%e</text><text x="7.0" y="9.6" font-size="4.03">e</text><text x="10.8" y="6.2" font-size="4.48">I</text><text x="17.9" y="5.8" font-size="4.93">z</text><text x="22.9" y="3.7" font-size="4.26">el</text><text x="25.7" y="8.0" font-size="4.03">'</text><text x="14.0" y="12.2" font-size="5.15">Da</text><text x="21.5" y="10.2" font-size="4.26">3</text><text x="19.5" y="14.9" font-size="4.26">tS</text><text x="23.0" y="15.0" font-size="4.48">oz</text><text x="14.4" y="16.6" font-size="4.48">V</text><text x="5.9" y="18.9" font-size="4.70">I</text><text x="10.5" y="20.2" font-size="4.93">@</text><text x="15.4" y="19.5" font-size="5.15">U</text><text x="19.0" y="22.7" font-size="5.38">Q</text><text x="23.6" y="20.9" font-size="4.70">b</text><text x="3.0" y="22.8" font-size="4.26">I</text><text x="27.9" y="23.5" font-size="4.26">I</text><text x="3.4" y="26.4" font-size="4.48">g</text><text x="8.0" y="26.6" font-size="4.48">i</text><text x="10.0" y="28.5" font-size="4.03">r'</text><text x="21.5" y="27.8" font-size="4.48">u</text><text x="24.0" y="27.2" font-size="4.70">eI</text><text x="4.0" y="30.8" font-size="4.48">g</text><text x="11.9" y="30.8" font-size="4.48">oo</text><text x="17.0" y="34.0" font-size="4.93">C@</text><text x="25.0" y="36.3" font-size="5.15">I</text><text x="24.7" y="33.0" font-size="4.70">Ue</text><text x="8.3" y="37.0" font-size="4.70">e</text><text x="4.5" y="34.0" font-size="4.03">I</text><text x="13.0" y="24.5" font-size="4.03">v</text><text x="16.5" y="9.5" font-size="3.81">tS</text><text x="12.5" y="14.0" font-size="3.81">n</text><text x="18.0" y="18.0" font-size="3.81">aI</text><text x="22.5" y="18.0" font-size="3.81">d</text><text x="7.5" y="15.5" font-size="3.81">k</text><text x="9.0" y="22.5" font-size="3.81">s</text><text x="14.0" y="27.0" font-size="3.81">p</text><text x="17.5" y="30.0" font-size="3.81">m</text><text x="20.5" y="37.0" font-size="3.81">eI</text><text x="1.0" y="14.0" font-size="3.58">h</text><text x="26.5" y="12.5" font-size="3.81">j</text><text x="13.0" y="35.0" font-size="3.81">w</text></g>
<text x="98.50" y="442.80" font-size="15" fill="#7e1b2e" font-family="'Liberation Sans', Arial, sans-serif">b</text>
<g transform="translate(128.00,372.00) scale(1.0)" fill="#5cb85f" stroke="#5cb85f" stroke-width="0.08" font-family="'Liberation Sans', Arial, sans-serif" opacity="0.85"><text x="0.5" y="4.4" font-size="4.48">a}k</text><text x="2.0" y="7.4" font-size="4.26">%e</text><text x="7.0" y="9.6" font-size="4.03">e</text><text x="10.8" y="6.2" font-size="4.48">I</text><text x="17.9" y="5.8" font-size="4.93">z</text><text x="22.9" y="3.7" font-size="4.26">el</text><text x="25.7" y="8.0" font-size="4.03">'</text><text x="14.0" y="12.2" font-size="5.15">Da</text><text x="21.5" y="10.2" font-size="4.26">3</text><text x="19.5" y="14.9" font-size="4.26">tS</text><text x="23.0" y="15.0" font-size="4.48">oz</text><text x="14.4" y="16.6" font-size="4.48">V</text><text x="5.9" y="18.9" font-size="4.70">I</text><text x="10.5" y="20.2" font-size="4.93">@</text><text x="15.4" y="19.5" font-size="5.15">U</text><text x="19.0" y="22.7" font-size="5.38">Q</text><text x="23.6" y="20.9" font-size="4.70">b</text><text x="3.0" y="22.8" font-size="4.26">I</text><text x="27.9" y="23.5" font-size="4.26">I</text><text x="3.4" y="26.4" font-size="4.48">g</text><text x="8.0" y="26.6" font-size="4.48">i</text><text x="10.0" y="28.5" font-size="4.03">r'</text><text x="21.5" y="27.8" font-size="4.48">u</text><text x="24.0" y="27.2" font-size="4.70">eI</text><text x="4.0" y="30.8" font-size="4.48">g</text><text x="11.9" y="30.8" font-size="4.48">oo</text><text x="17.0" y="34.0" font-size="4.93">C@</text><text x="25.0" y="36.3" font-size="5.15">I</text><text x="24.7" y="33.0" font-size="4.70">Ue</text><text x="8.3" y="37.0" font-size="4.70">e</text><text x="4.5" y="34.0" font-size="4.03">I</text><text x="13.0" y="24.5" font-size="4.03">v</text><text x="16.5" y="9.5" font-size="3.81">tS</text><text x="12.5" y="14.0" font-size="3.81">n</text><text x="18.0" y="18.0" font-size="3.81">aI</text><text x="22.5" y="18.0" font-size="3.81">d</text><text x="7.5" y="15.5" font-size="3.81">k</text><text x="9.0" y="22.5" font-size="3.81">s</text><text x="14.0" y="27.0" font-size="3.81">p</text><text x="17.5" y="30.0" font-size="3.81">m</text><text x="20.5" y="37.0" font-size="3.81">eI</text><text x="1.0" y="14.0" font-size="3.58">h</text><text x="26.5" y="12.5" font-size="3.81">j</text><text x="13.0" y="35.0" font-size="3.81">w</text></g>
<g transform="translate(128.00,418.50) scale(1.0)" fill="#7e1b2e" stroke="#7e1b2e" stroke-width="0.08" font-family="'Liberation Sans', Arial, sans-serif" opacity="0.85"><text x="0.5" y="4.4" font-size="4.48">a}k</text><text x="2.0" y="7.4" font-size="4.26">%e</text><text x="7.0" y="9.6" font-size="4.03">e</text><text x="10.8" y="6.2" font-size="4.48">I</text><text x="17.9" y="5.8" font-size="4.93">z</text><text x="22.9" y="3.7" font-size="4.26">el</text><text x="25.7" y="8.0" font-size="4.03">'</text><text x="14.0" y="12.2" font-size="5.15">Da</text><text x="21.5" y="10.2" font-size="4.26">3</text><text x="19.5" y="14.9" font-size="4.26">tS</text><text x="23.0" y="15.0" font-size="4.48">oz</text><text x="14.4" y="16.6" font-size="4.48">V</text><text x="5.9" y="18.9" font-size="4.70">I</text><text x="10.5" y="20.2" font-size="4.93">@</text><text x="15.4" y="19.5" font-size="5.15">U</text><text x="19.0" y="22.7" font-size="5.38">Q</text><text x="23.6" y="20.9" font-size="4.70">b</text><text x="3.0" y="22.8" font-size="4.26">I</text><text x="27.9" y="23.5" font-size="4.26">I</text><text x="3.4" y="26.4" font-size="4.48">g</text><text x="8.0" y="26.6" font-size="4.48">i</text><text x="10.0" y="28.5" font-size="4.03">r'</text><text x="21.5" y="27.8" font-size="4.48">u</text><text x="24.0" y="27.2" font-size="4.70">eI</text><text x="4.0" y="30.8" font-size="4.48">g</text><text x="11.9" y="30.8" font-size="4.48">oo</text><text x="17.0" y="34.0" font-size="4.93">C@</text><text x="25.0" y="36.3" font-size="5.15">I</text><text x="24.7" y="33.0" font-size="4.70">Ue</text><text x="8.3" y="37.0" font-size="4.70">e</text><text x="4.5" y="34.0" font-size="4.03">I</text><text x="13.0" y="24.5" font-size="4.03">v</text><text x="16.5" y="9.5" font-size="3.81">tS</text><text x="12.5" y="14.0" font-size="3.81">n</text><text x="18.0" y="18.0" font-size="3.81">aI</text><text x="22.5" y="18.0" font-size="3.81">d</text><text x="7.5" y="15.5" font-size="3.81">k</text><text x="9.0" y="22.5" font-size="3.81">s</text><text x="14.0" y="27.0" font-size="3.81">p</text><text x="17.5" y="30.0" font-size="3.81">m</text><text x="20.5" y="37.0" font-size="3.81">eI</text><text x="1.0" y="14.0" font-size="3.58">h</text><text x="26.5" y="12.5" font-size="3.81">j</text><text x="13.0" y="35.0" font-size="3.81">w</text></g>
<text x="131.30" y="442.80" font-size="13" fill="#7e1b2e" font-family="'Liberation Sans', Arial, sans-serif">I</text>
<g transform="translate(178.00,372.00) scale(1.0)" fill="#5cb85f" stroke="#5cb85f" stroke-width="0.08" font-family="'Liberation Sans', Arial, sans-serif" opacity="0.85"><text x="0.5" y="4.4" font-size="4.48">a}k</text><text x="2.0" y="7.4" font-size="4.26">%e</text><text x="7.0" y="9.6" font-size="4.03">e</text><text x="10.8" y="6.2" font-size="4.48">I</text><text x="17.9" y="5.8" font-size="4.93">z</text><text x="22.9" y="3.7" font-size="4.26">el</text><text x="25.7" y="8.0" font-size="4.03">'</text><text x="14.0" y="12.2" font-size="5.15">Da</text><text x="21.5" y="10.2" font-size="4.26">3</text><text x="19.5" y="14.9" font-size="4.26">tS</text><text x="23.0" y="15.0" font-size="4.48">oz</text><text x="14.4" y="16.6" font-size="4.48">V</text><text x="5.9" y="18.9" font-size="4.70">I</text><text x="10.5" y="20.2" font-size="4.93">@</text><text x="15.4" y="19.5" font-size="5.15">U</text><text x="19.0" y="22.7" font-size="5.38">Q</text><text x="23.6" y="20.9" font-size="4.70">b</text><text x="3.0" y="22.8" font-size="4.26">I</text><text x="27.9" y="23.5" font-size="4.26">I</text><text x="3.4" y="26.4" font-size="4.48">g</text><text x="8.0" y="26.6" font-size="4.48">i</text><text x="10.0" y="28.5" font-size="4.03">r'</text><text x="21.5" y="27.8" font-size="4.48">u</text><text x="24.0" y="27.2" font-size="4.70">eI</text><text x="4.0" y="30.8" font-size="4.48">g</text><text x="11.9" y="30.8" font-size="4.48">oo</text><text x="17.0" y="34.0" font-size="4.93">C@</text><text x="25.0" y="36.3" font-size="5.15">I</text><text x="24.7" y="33.0" font-size="4.70">Ue</text><text x="8.3" y="37.0" font-size="4.70">e</text><text x="4.5" y="34.0" font-size="4.03">I</text><text x="13.0" y="24.5" font-size="4.03">v</text><text x="16.5" y="9.5" font-size="3.81">tS</text><text x="12.5" y="14.0" font-size="3.81">n</text><text x="18.0" y="18.0" font-size="3.81">aI</text><text x="22.5" y="18.0" font-size="3.81">d</text><text x="7.5" y="15.5" font-size="3.81">k</text><text x="9.0" y="22.5" font-size="3.81">s</text><text x="14.0" y="27.0" font-size="3.81">p</text><text x="17.5" y="30.0" font-size="3.81">m</text><text x="20.5" y="37.0" font-size="3.81">eI</text><text x="1.0" y="14.0" font-size="3.58">h</text><text x="26.5" y="12.5" font-size="3.81">j</text><text x="13.0" y="35.0" font-size="3.81">w</text></g>
<g transform="translate(178.00,418.50) scale(1.0)" fill="#7e1b2e" stroke="#7e1b2e" stroke-width="0.08" font-family="'Liberation Sans', Arial, sans-serif" opacity="0.85"><text x="0.5" y="4.4" font-size="4.48">a}k</text><text x="2.0" y="7.4" font-size="4.26">%e</text><text x="7.0" y="9.6" font-size="4.03">e</text><text x="10.8" y="6.2" font-size="4.48">I</text><text x="17.9" y="5.8" font-size="4.93">z</text><text x="22.9" y="3.7" font-size="4.26">el</text><text x="25.7" y="8.0" font-size="4.03">'</text><text x="14.0" y="12.2" font-size="5.15">Da</text><text x="21.5" y="10.2" font-size="4.26">3</text><text x="19.5" y="14.9" font-size="4.26">tS</text><text x="23.0" y="15.0" font-size="4.48">oz</text><text x="14.4" y="16.6" font-size="4.48">V</text><text x="5.9" y="18.9" font-size="4.70">I</text><text x="10.5" y="20.2" font-size="4.93">@</text><text x="15.4" y="19.5" font-size="5.15">U</text><text x="19.0" y="22.7" font-size="5.38">Q</text><text x="23.6" y="20.9" font-size="4.70">b</text><text x="3.0" y="22.8" font-size="4.26">I</text><text x="27.9" y="23.5" font-size="4.26">I</text><text x="3.4" y="26.4" font-size="4.48">g</text><text x="8.0" y="26.6" font-size="4.48">i</text><text x="10.0" y="28.5" font-size="4.03">r'</text><text x="21.5" y="27.8" font-size="4.48">u</text><text x="24.0" y="27.2" font-size="4.70">eI</text><text x="4.0" y="30.8" font-size="4.48">g</text><text x="11.9" y="30.8" font-size="4.48">oo</text><text x="17.0" y="34.0" font-size="4.93">C@</text><text x="25.0" y="36.3" font-size="5.15">I</text><text x="24.7" y="33.0" font-size="4.70">Ue</text><text x="8.3" y="37.0" font-size="4.70">e</text><text x="4.5" y="34.0" font-size="4.03">I</text><text x="13.0" y="24.5" font-size="4.03">v</text><text x="16.5" y="9.5" font-size="3.81">tS</text><text x="12.5" y="14.0" font-size="3.81">n</text><text x="18.0" y="18.0" font-size="3.81">aI</text><text x="22.5" y="18.0" font-size="3.81">d</text><text x="7.5" y="15.5" font-size="3.81">k</text><text x="9.0" y="22.5" font-size="3.81">s</text><text x="14.0" y="27.0" font-size="3.81">p</text><text x="17.5" y="30.0" font-size="3.81">m</text><text x="20.5" y="37.0" font-size="3.81">eI</text><text x="1.0" y="14.0" font-size="3.58">h</text><text x="26.5" y="12.5" font-size="3.81">j</text><text x="13.0" y="35.0" font-size="3.81">w</text></g>
<text x="176.00" y="429.50" font-size="14.5" fill="#7e1b2e" font-family="'Liberation Sans', Arial, sans-serif">N</text>
<g transform="translate(228.00,372.00) scale(1.0)" fill="#5cb85f" stroke="#5cb85f" stroke-width="0.08" font-family="'Liberation Sans', Arial, sans-serif" opacity="0.85"><text x="0.5" y="4.4" font-size="4.48">a}k</text><text x="2.0" y="7.4" font-size="4.26">%e</text><text x="7.0" y="9.6" font-size="4.03">e</text><text x="10.8" y="6.2" font-size="4.48">I</text><text x="17.9" y="5.8" font-size="4.93">z</text><text x="22.9" y="3.7" font-size="4.26">el</text><text x="25.7" y="8.0" font-size="4.03">'</text><text x="14.0" y="12.2" font-size="5.15">Da</text><text x="21.5" y="10.2" font-size="4.26">3</text><text x="19.5" y="14.9" font-size="4.26">tS</text><text x="23.0" y="15.0" font-size="4.48">oz</text><text x="14.4" y="16.6" font-size="4.48">V</text><text x="5.9" y="18.9" font-size="4.70">I</text><text x="10.5" y="20.2" font-size="4.93">@</text><text x="15.4" y="19.5" font-size="5.15">U</text><text x="19.0" y="22.7" font-size="5.38">Q</text><text x="23.6" y="20.9" font-size="4.70">b</text><text x="3.0" y="22.8" font-size="4.26">I</text><text x="27.9" y="23.5" font-size="4.26">I</text><text x="3.4" y="26.4" font-size="4.48">g</text><text x="8.0" y="26.6" font-size="4.48">i</text><text x="10.0" y="28.5" font-size="4.03">r'</text><text x="21.5" y="27.8" font-size="4.48">u</text><text x="24.0" y="27.2" font-size="4.70">eI</text><text x="4.0" y="30.8" font-size="4.48">g</text><text x="11.9" y="30.8" font-size="4.48">oo</text><text x="17.0" y="34.0" font-size="4.93">C@</text><text x="25.0" y="36.3" font-size="5.15">I</text><text x="24.7" y="33.0" font-size="4.70">Ue</text><text x="8.3" y="37.0" font-size="4.70">e</text><text x="4.5" y="34.0" font-size="4.03">I</text><text x="13.0" y="24.5" font-size="4.03">v</text><text x="16.5" y="9.5" font-size="3.81">tS</text><text x="12.5" y="14.0" font-size="3.81">n</text><text x="18.0" y="18.0" font-size="3.81">aI</text><text x="22.5" y="18.0" font-size="3.81">d</text><text x="7.5" y="15.5" font-size="3.81">k</text><text x="9.0" y="22.5" font-size="3.81">s</text><text x="14.0" y="27.0" font-size="3.81">p</text><text x="17.5" y="30.0" font-size="3.81">m</text><text x="20.5" y="37.0" font-size="3.81">eI</text><text x="1.0" y="14.0" font-size="3.58">h</text><text x="26.5" y="12.5" font-size="3.81">j</text><text x="13.0" y="35.0" font-size="3.81">w</text></g>
<text x="229.50" y="400.50" font-size="13" fill="#5cb85f" font-family="'Liberation Sans', Arial, sans-serif">g</text>
<g transform="translate(228.00,418.50) scale(1.0)" fill="#7e1b2e" stroke="#7e1b2e" stroke-width="0.08" font-family="'Liberation Sans', Arial, sans-serif" opacity="0.85"><text x="0.5" y="4.4" font-size="4.48">a}k</text><text x="2.0" y="7.4" font-size="4.26">%e</text><text x="7.0" y="9.6" font-size="4.03">e</text><text x="10.8" y="6.2" font-size="4.48">I</text><text x="17.9" y="5.8" font-size="4.93">z</text><text x="22.9" y="3.7" font-size="4.26">el</text><text x="25.7" y="8.0" font-size="4.03">'</text><text x="14.0" y="12.2" font-size="5.15">Da</text><text x="21.5" y="10.2" font-size="4.26">3</text><text x="19.5" y="14.9" font-size="4.26">tS</text><text x="23.0" y="15.0" font-size="4.48">oz</text><text x="14.4" y="16.6" font-size="4.48">V</text><text x="5.9" y="18.9" font-size="4.70">I</text><text x="10.5" y="20.2" font-size="4.93">@</text><text x="15.4" y="19.5" font-size="5.15">U</text><text x="19.0" y="22.7" font-size="5.38">Q</text><text x="23.6" y="20.9" font-size="4.70">b</text><text x="3.0" y="22.8" font-size="4.26">I</text><text x="27.9" y="23.5" font-size="4.26">I</text><text x="3.4" y="26.4" font-size="4.48">g</text><text x="8.0" y="26.6" font-size="4.48">i</text><text x="10.0" y="28.5" font-size="4.03">r'</text><text x="21.5" y="27.8" font-size="4.48">u</text><text x="24.0" y="27.2" font-size="4.70">eI</text><text x="4.0" y="30.8" font-size="4.48">g</text><text x="11.9" y="30.8" font-size="4.48">oo</text><text x="17.0" y="34.0" font-size="4.93">C@</text><text x="25.0" y="36.3" font-size="5.15">I</text><text x="24.7" y="33.0" font-size="4.70">Ue</text><text x="8.3" y="37.0" font-size="4.70">e</text><text x="4.5" y="34.0" font-size="4.03">I</text><text x="13.0" y="24.5" font-size="4.03">v</text><text x="16.5" y="9.5" font-size="3.81">tS</text><text x="12.5" y="14.0" font-size="3.81">n</text><text x="18.0" y="18.0" font-size="3.81">aI</text><text x="22.5" y="18.0" font-size="3.81">d</text><text x="7.5" y="15.5" font-size="3.81">k</text><text x="9.0" y="22.5" font-size="3.81">s</text><text x="14.0" y="27.0" font-size="3.81">p</text><text x="17.5" y="30.0" font-size="3.81">m</text><text x="20.5" y="37.0" font-size="3.81">eI</text><text x="1.0" y="14.0" font-size="3.58">h</text><text x="26.5" y="12.5" font-size="3.81">j</text><text x="13.0" y="35.0" font-size="3.81">w</text></g>
<text x="229.50" y="447.00" font-size="13" fill="#7e1b2e" font-family="'Liberation Sans', Arial, sans-serif">g</text>
<g transform="translate(278.00,372.00) scale(1.0)" fill="#5cb85f" stroke="#5cb85f" stroke-width="0.08" font-family="'Liberation Sans', Arial, sans-serif" opacity="0.85"><text x="0.5" y="4.4" font-size="4.48">a}k</text><text x="2.0" y="7.4" font-size="4.26">%e</text><text x="7.0" y="9.6" font-size="4.03">e</text><text x="10.8" y="6.2" font-size="4.48">I</text><text x="17.9" y="5.8" font-size="4.93">z</text><text x="22.9" y="3.7" font-size="4.26">el</text><text x="25.7" y="8.0" font-size="4.03">'</text><text x="14.0" y="12.2" font-size="5.15">Da</text><text x="21.5" y="10.2" font-size="4.26">3</text><text x="19.5" y="14.9" font-size="4.26">tS</text><text x="23.0" y="15.0" font-size="4.48">oz</text><text x="14.4" y="16.6" font-size="4.48">V</text><text x="5.9" y="18.9" font-size="4.70">I</text><text x="10.5" y="20.2" font-size="4.93">@</text><text x="15.4" y="19.5" font-size="5.15">U</text><text x="19.0" y="22.7" font-size="5.38">Q</text><text x="23.6" y="20.9" font-size="4.70">b</text><text x="3.0" y="22.8" font-size="4.26">I</text><text x="27.9" y="23.5" font-size="4.26">I</text><text x="3.4" y="26.4" font-size="4.48">g</text><text x="8.0" y="26.6" font-size="4.48">i</text><text x="10.0" y="28.5" font-size="4.03">r'</text><text x="21.5" y="27.8" font-size="4.48">u</text><text x="24.0" y="27.2" font-size="4.70">eI</text><text x="4.0" y="30.8" font-size="4.48">g</text><text x="11.9" y="30.8" font-size="4.48">oo</text><text x="17.0" y="34.0" font-size="4.93">C@</text><text x="25.0" y="36.3" font-size="5.15">I</text><text x="24.7" y="33.0" font-size="4.70">Ue</text><text x="8.3" y="37.0" font-size="4.70">e</text><text x="4.5" y="34.0" font-size="4.03">I</text><text x="13.0" y="24.5" font-size="4.03">v</text><text x="16.5" y="9.5" font-size="3.81">tS</text><text x="12.5" y="14.0" font-size="3.81">n</text><text x="18.0" y="18.0" font-size="3.81">aI</text><text x="22.5" y="18.0" font-size="3.81">d</text><text x="7.5" y="15.5" font-size="3.81">k</text><text x="9.0" y="22.5" font-size="3.81">s</text><text x="14.0" y="27.0" font-size="3.81">p</text><text x="17.5" y="30.0" font-size="3.81">m</text><text x="20.5" y="37.0" font-size="3.81">eI</text><text x="1.0" y="14.0" font-size="3.58">h</text><text x="26.5" y="12.5" font-size="3.81">j</text><text x="13.0" y="35.0" font-size="3.81">w</text></g>
<text x="281.00" y="394.70" font-size="13.5" fill="#5cb85f" font-family="'Liberation Sans', Arial, sans-serif">@ U</text>
<g transform="translate(278.00,418.50) scale(1.0)" fill="#7e1b2e" stroke="#7e1b2e" stroke-width="0.08" font-family="'Liberation Sans', Arial, sans-serif" opacity="0.85"><text x="0.5" y="4.4" font-size="4.48">a}k</text><text x="2.0" y="7.4" font-size="4.26">%e</text><text x="7.0" y="9.6" font-size="4.03">e</text><text x="10.8" y="6.2" font-size="4.48">I</text><text x="17.9" y="5.8" font-size="4.93">z</text><text x="22.9" y="3.7" font-size="4.26">el</text><text x="25.7" y="8.0" font-size="4.03">'</text><text x="14.0" y="12.2" font-size="5.15">Da</text><text x="21.5" y="10.2" font-size="4.26">3</text><text x="19.5" y="14.9" font-size="4.26">tS</text><text x="23.0" y="15.0" font-size="4.48">oz</text><text x="14.4" y="16.6" font-size="4.48">V</text><text x="5.9" y="18.9" font-size="4.70">I</text><text x="10.5" y="20.2" font-size="4.93">@</text><text x="15.4" y="19.5" font-size="5.15">U</text><text x="19.0" y="22.7" font-size="5.38">Q</text><text x="23.6" y="20.9" font-size="4.70">b</text><text x="3.0" y="22.8" font-size="4.26">I</text><text x="27.9" y="23.5" font-size="4.26">I</text><text x="3.4" y="26.4" font-size="4.48">g</text><text x="8.0" y="26.6" font-size="4.48">i</text><text x="10.0" y="28.5" font-size="4.03">r'</text><text x="21.5" y="27.8" font-size="4.48">u</text><text x="24.0" y="27.2" font-size="4.70">eI</text><text x="4.0" y="30.8" font-size="4.48">g</text><text x="11.9" y="30.8" font-size="4.48">oo</text><text x="17.0" y="34.0" font-size="4.93">C@</text><text x="25.0" y="36.3" font-size="5.15">I</text><text x="24.7" y="33.0" font-size="4.70">Ue</text><text x="8.3" y="37.0" font-size="4.70">e</text><text x="4.5" y="34.0" font-size="4.03">I</text><text x="13.0" y="24.5" font-size="4.03">v</text><text x="16.5" y="9.5" font-size="3.81">tS</text><text x="12.5" y="14.0" font-size="3.81">n</text><text x="18.0" y="18.0" font-size="3.81">aI</text><text x="22.5" y="18.0" font-size="3.81">d</text><text x="7.5" y="15.5" font-size="3.81">k</text><text x="9.0" y="22.5" font-size="3.81">s</text><text x="14.0" y="27.0" font-size="3.81">p</text><text x="17.5" y="30.0" font-size="3.81">m</text><text x="20.5" y="37.0" font-size="3.81">eI</text><text x="1.0" y="14.0" font-size="3.58">h</text><text x="26.5" y="12.5" font-size="3.81">j</text><text x="13.0" y="35.0" font-size="3.81">w</text></g>
<text x="281.00" y="441.20" font-size="13.5" fill="#7e1b2e" font-family="'Liberation Sans', Arial, sans-serif">@ U</text>
<text x="321.00" y="395.00" font-size="13.0" fill="#5cb85f" font-family="'Liberation Sans', Arial, sans-serif" stroke="#5cb85f" stroke-width="0.36" textLength="54.70" lengthAdjust="spacingAndGlyphs">Prediction</text>
<text x="321.00" y="431.00" font-size="13.0" fill="#7e1b2e" font-family="'Liberation Sans', Arial, sans-serif" stroke="#7e1b2e" stroke-width="0.36" textLength="28.20" lengthAdjust="spacingAndGlyphs">Input</text>
<text x="76.70" y="477.40" font-size="13.0" fill="#7e1b2e" font-family="'Liberation Sans', Arial, sans-serif" stroke="#7e1b2e" stroke-width="0.36" textLength="28.70" lengthAdjust="spacingAndGlyphs">Input</text>
<text x="120.00" y="478.60" font-size="16.5" fill="#231f20" font-family="'Liberation Sans', Arial, sans-serif" textLength="10.30" lengthAdjust="spacingAndGlyphs" text-anchor="start" font-weight="bold">X</text>
<text x="142.50" y="477.40" font-size="13.0" fill="#5cb85f" font-family="'Liberation Sans', Arial, sans-serif" stroke="#5cb85f" stroke-width="0.36" textLength="54.90" lengthAdjust="spacingAndGlyphs">Prediction</text>
<rect x="208.9" y="469.9" width="12.3" height="1.6" fill="#231f20"/><rect x="208.9" y="475.6" width="12.3" height="1.6" fill="#231f20"/>
<text x="227.60" y="477.40" font-size="13.0" fill="#7d2a80" font-family="'Liberation Sans', Arial, sans-serif" stroke="#7d2a80" stroke-width="0.36" textLength="92.80" lengthAdjust="spacingAndGlyphs">Sharpened Signal</text>
<text x="76.70" y="545.00" font-size="13.0" fill="#7e1b2e" font-family="'Liberation Sans', Arial, sans-serif" stroke="#7e1b2e" stroke-width="0.36" textLength="28.70" lengthAdjust="spacingAndGlyphs">Input</text>
<rect x="121.1" y="539.4" width="8.6" height="2.0" fill="#231f20"/>
<text x="142.50" y="545.00" font-size="13.0" fill="#5cb85f" font-family="'Liberation Sans', Arial, sans-serif" stroke="#5cb85f" stroke-width="0.36" textLength="54.90" lengthAdjust="spacingAndGlyphs">Prediction</text>
<rect x="208.9" y="538.2" width="12.3" height="1.6" fill="#231f20"/><rect x="208.9" y="544.3" width="12.3" height="1.6" fill="#231f20"/>
<text x="232.70" y="545.80" font-size="13.0" fill="#ee6d4d" font-family="'Liberation Sans', Arial, sans-serif" stroke="#ee6d4d" stroke-width="0.36" textLength="82.60" lengthAdjust="spacingAndGlyphs">Prediction Error</text>
<g transform="translate(78.00,484.50) scale(1.13)" fill="#7e1b2e" stroke="#7e1b2e" stroke-width="0.08" font-family="'Liberation Sans', Arial, sans-serif" opacity="0.85"><text x="0.5" y="4.4" font-size="4.48">a}k</text><text x="2.0" y="7.4" font-size="4.26">%e</text><text x="7.0" y="9.6" font-size="4.03">e</text><text x="10.8" y="6.2" font-size="4.48">I</text><text x="17.9" y="5.8" font-size="4.93">z</text><text x="22.9" y="3.7" font-size="4.26">el</text><text x="25.7" y="8.0" font-size="4.03">'</text><text x="14.0" y="12.2" font-size="5.15">Da</text><text x="21.5" y="10.2" font-size="4.26">3</text><text x="19.5" y="14.9" font-size="4.26">tS</text><text x="23.0" y="15.0" font-size="4.48">oz</text><text x="14.4" y="16.6" font-size="4.48">V</text><text x="5.9" y="18.9" font-size="4.70">I</text><text x="10.5" y="20.2" font-size="4.93">@</text><text x="15.4" y="19.5" font-size="5.15">U</text><text x="19.0" y="22.7" font-size="5.38">Q</text><text x="23.6" y="20.9" font-size="4.70">b</text><text x="3.0" y="22.8" font-size="4.26">I</text><text x="27.9" y="23.5" font-size="4.26">I</text><text x="3.4" y="26.4" font-size="4.48">g</text><text x="8.0" y="26.6" font-size="4.48">i</text><text x="10.0" y="28.5" font-size="4.03">r'</text><text x="21.5" y="27.8" font-size="4.48">u</text><text x="24.0" y="27.2" font-size="4.70">eI</text><text x="4.0" y="30.8" font-size="4.48">g</text><text x="11.9" y="30.8" font-size="4.48">oo</text><text x="17.0" y="34.0" font-size="4.93">C@</text><text x="25.0" y="36.3" font-size="5.15">I</text><text x="24.7" y="33.0" font-size="4.70">Ue</text><text x="8.3" y="37.0" font-size="4.70">e</text><text x="4.5" y="34.0" font-size="4.03">I</text><text x="13.0" y="24.5" font-size="4.03">v</text><text x="16.5" y="9.5" font-size="3.81">tS</text><text x="12.5" y="14.0" font-size="3.81">n</text><text x="18.0" y="18.0" font-size="3.81">aI</text><text x="22.5" y="18.0" font-size="3.81">d</text><text x="7.5" y="15.5" font-size="3.81">k</text><text x="9.0" y="22.5" font-size="3.81">s</text><text x="14.0" y="27.0" font-size="3.81">p</text><text x="17.5" y="30.0" font-size="3.81">m</text><text x="20.5" y="37.0" font-size="3.81">eI</text><text x="1.0" y="14.0" font-size="3.58">h</text><text x="26.5" y="12.5" font-size="3.81">j</text><text x="13.0" y="35.0" font-size="3.81">w</text></g>
<g transform="translate(149.00,484.50) scale(1.13)" fill="#5cb85f" stroke="#5cb85f" stroke-width="0.08" font-family="'Liberation Sans', Arial, sans-serif" opacity="0.85"><text x="0.5" y="4.4" font-size="4.48">a}k</text><text x="2.0" y="7.4" font-size="4.26">%e</text><text x="7.0" y="9.6" font-size="4.03">e</text><text x="10.8" y="6.2" font-size="4.48">I</text><text x="17.9" y="5.8" font-size="4.93">z</text><text x="22.9" y="3.7" font-size="4.26">el</text><text x="25.7" y="8.0" font-size="4.03">'</text><text x="14.0" y="12.2" font-size="5.15">Da</text><text x="21.5" y="10.2" font-size="4.26">3</text><text x="19.5" y="14.9" font-size="4.26">tS</text><text x="23.0" y="15.0" font-size="4.48">oz</text><text x="14.4" y="16.6" font-size="4.48">V</text><text x="5.9" y="18.9" font-size="4.70">I</text><text x="10.5" y="20.2" font-size="4.93">@</text><text x="15.4" y="19.5" font-size="5.15">U</text><text x="19.0" y="22.7" font-size="5.38">Q</text><text x="23.6" y="20.9" font-size="4.70">b</text><text x="3.0" y="22.8" font-size="4.26">I</text><text x="27.9" y="23.5" font-size="4.26">I</text><text x="3.4" y="26.4" font-size="4.48">g</text><text x="8.0" y="26.6" font-size="4.48">i</text><text x="10.0" y="28.5" font-size="4.03">r'</text><text x="21.5" y="27.8" font-size="4.48">u</text><text x="24.0" y="27.2" font-size="4.70">eI</text><text x="4.0" y="30.8" font-size="4.48">g</text><text x="11.9" y="30.8" font-size="4.48">oo</text><text x="17.0" y="34.0" font-size="4.93">C@</text><text x="25.0" y="36.3" font-size="5.15">I</text><text x="24.7" y="33.0" font-size="4.70">Ue</text><text x="8.3" y="37.0" font-size="4.70">e</text><text x="4.5" y="34.0" font-size="4.03">I</text><text x="13.0" y="24.5" font-size="4.03">v</text><text x="16.5" y="9.5" font-size="3.81">tS</text><text x="12.5" y="14.0" font-size="3.81">n</text><text x="18.0" y="18.0" font-size="3.81">aI</text><text x="22.5" y="18.0" font-size="3.81">d</text><text x="7.5" y="15.5" font-size="3.81">k</text><text x="9.0" y="22.5" font-size="3.81">s</text><text x="14.0" y="27.0" font-size="3.81">p</text><text x="17.5" y="30.0" font-size="3.81">m</text><text x="20.5" y="37.0" font-size="3.81">eI</text><text x="1.0" y="14.0" font-size="3.58">h</text><text x="26.5" y="12.5" font-size="3.81">j</text><text x="13.0" y="35.0" font-size="3.81">w</text></g>
<g transform="translate(237.00,484.50) scale(1.13)" fill="#7d2a80" stroke="#7d2a80" stroke-width="0.08" font-family="'Liberation Sans', Arial, sans-serif" opacity="0.85"><text x="0.5" y="4.4" font-size="4.48">a}k</text><text x="2.0" y="7.4" font-size="4.26">%e</text><text x="7.0" y="9.6" font-size="4.03">e</text><text x="10.8" y="6.2" font-size="4.48">I</text><text x="17.9" y="5.8" font-size="4.93">z</text><text x="22.9" y="3.7" font-size="4.26">el</text><text x="25.7" y="8.0" font-size="4.03">'</text><text x="14.0" y="12.2" font-size="5.15">Da</text><text x="21.5" y="10.2" font-size="4.26">3</text><text x="19.5" y="14.9" font-size="4.26">tS</text><text x="23.0" y="15.0" font-size="4.48">oz</text><text x="14.4" y="16.6" font-size="4.48">V</text><text x="5.9" y="18.9" font-size="4.70">I</text><text x="10.5" y="20.2" font-size="4.93">@</text><text x="15.4" y="19.5" font-size="5.15">U</text><text x="19.0" y="22.7" font-size="5.38">Q</text><text x="23.6" y="20.9" font-size="4.70">b</text><text x="3.0" y="22.8" font-size="4.26">I</text><text x="27.9" y="23.5" font-size="4.26">I</text><text x="3.4" y="26.4" font-size="4.48">g</text><text x="8.0" y="26.6" font-size="4.48">i</text><text x="10.0" y="28.5" font-size="4.03">r'</text><text x="21.5" y="27.8" font-size="4.48">u</text><text x="24.0" y="27.2" font-size="4.70">eI</text><text x="4.0" y="30.8" font-size="4.48">g</text><text x="11.9" y="30.8" font-size="4.48">oo</text><text x="17.0" y="34.0" font-size="4.93">C@</text><text x="25.0" y="36.3" font-size="5.15">I</text><text x="24.7" y="33.0" font-size="4.70">Ue</text><text x="8.3" y="37.0" font-size="4.70">e</text><text x="4.5" y="34.0" font-size="4.03">I</text><text x="13.0" y="24.5" font-size="4.03">v</text><text x="16.5" y="9.5" font-size="3.81">tS</text><text x="12.5" y="14.0" font-size="3.81">n</text><text x="18.0" y="18.0" font-size="3.81">aI</text><text x="22.5" y="18.0" font-size="3.81">d</text><text x="7.5" y="15.5" font-size="3.81">k</text><text x="9.0" y="22.5" font-size="3.81">s</text><text x="14.0" y="27.0" font-size="3.81">p</text><text x="17.5" y="30.0" font-size="3.81">m</text><text x="20.5" y="37.0" font-size="3.81">eI</text><text x="1.0" y="14.0" font-size="3.58">h</text><text x="26.5" y="12.5" font-size="3.81">j</text><text x="13.0" y="35.0" font-size="3.81">w</text></g>
<g transform="translate(78.00,550.50) scale(1.13)" fill="#7e1b2e" stroke="#7e1b2e" stroke-width="0.08" font-family="'Liberation Sans', Arial, sans-serif" opacity="0.85"><text x="0.5" y="4.4" font-size="4.48">a}k</text><text x="2.0" y="7.4" font-size="4.26">%e</text><text x="7.0" y="9.6" font-size="4.03">e</text><text x="10.8" y="6.2" font-size="4.48">I</text><text x="17.9" y="5.8" font-size="4.93">z</text><text x="22.9" y="3.7" font-size="4.26">el</text><text x="25.7" y="8.0" font-size="4.03">'</text><text x="14.0" y="12.2" font-size="5.15">Da</text><text x="21.5" y="10.2" font-size="4.26">3</text><text x="19.5" y="14.9" font-size="4.26">tS</text><text x="23.0" y="15.0" font-size="4.48">oz</text><text x="14.4" y="16.6" font-size="4.48">V</text><text x="5.9" y="18.9" font-size="4.70">I</text><text x="10.5" y="20.2" font-size="4.93">@</text><text x="15.4" y="19.5" font-size="5.15">U</text><text x="19.0" y="22.7" font-size="5.38">Q</text><text x="23.6" y="20.9" font-size="4.70">b</text><text x="3.0" y="22.8" font-size="4.26">I</text><text x="27.9" y="23.5" font-size="4.26">I</text><text x="3.4" y="26.4" font-size="4.48">g</text><text x="8.0" y="26.6" font-size="4.48">i</text><text x="10.0" y="28.5" font-size="4.03">r'</text><text x="21.5" y="27.8" font-size="4.48">u</text><text x="24.0" y="27.2" font-size="4.70">eI</text><text x="4.0" y="30.8" font-size="4.48">g</text><text x="11.9" y="30.8" font-size="4.48">oo</text><text x="17.0" y="34.0" font-size="4.93">C@</text><text x="25.0" y="36.3" font-size="5.15">I</text><text x="24.7" y="33.0" font-size="4.70">Ue</text><text x="8.3" y="37.0" font-size="4.70">e</text><text x="4.5" y="34.0" font-size="4.03">I</text><text x="13.0" y="24.5" font-size="4.03">v</text><text x="16.5" y="9.5" font-size="3.81">tS</text><text x="12.5" y="14.0" font-size="3.81">n</text><text x="18.0" y="18.0" font-size="3.81">aI</text><text x="22.5" y="18.0" font-size="3.81">d</text><text x="7.5" y="15.5" font-size="3.81">k</text><text x="9.0" y="22.5" font-size="3.81">s</text><text x="14.0" y="27.0" font-size="3.81">p</text><text x="17.5" y="30.0" font-size="3.81">m</text><text x="20.5" y="37.0" font-size="3.81">eI</text><text x="1.0" y="14.0" font-size="3.58">h</text><text x="26.5" y="12.5" font-size="3.81">j</text><text x="13.0" y="35.0" font-size="3.81">w</text></g>
<g transform="translate(149.00,550.50) scale(1.13)" fill="#5cb85f" stroke="#5cb85f" stroke-width="0.08" font-family="'Liberation Sans', Arial, sans-serif" opacity="0.85"><text x="0.5" y="4.4" font-size="4.48">a}k</text><text x="2.0" y="7.4" font-size="4.26">%e</text><text x="7.0" y="9.6" font-size="4.03">e</text><text x="10.8" y="6.2" font-size="4.48">I</text><text x="17.9" y="5.8" font-size="4.93">z</text><text x="22.9" y="3.7" font-size="4.26">el</text><text x="25.7" y="8.0" font-size="4.03">'</text><text x="14.0" y="12.2" font-size="5.15">Da</text><text x="21.5" y="10.2" font-size="4.26">3</text><text x="19.5" y="14.9" font-size="4.26">tS</text><text x="23.0" y="15.0" font-size="4.48">oz</text><text x="14.4" y="16.6" font-size="4.48">V</text><text x="5.9" y="18.9" font-size="4.70">I</text><text x="10.5" y="20.2" font-size="4.93">@</text><text x="15.4" y="19.5" font-size="5.15">U</text><text x="19.0" y="22.7" font-size="5.38">Q</text><text x="23.6" y="20.9" font-size="4.70">b</text><text x="3.0" y="22.8" font-size="4.26">I</text><text x="27.9" y="23.5" font-size="4.26">I</text><text x="3.4" y="26.4" font-size="4.48">g</text><text x="8.0" y="26.6" font-size="4.48">i</text><text x="10.0" y="28.5" font-size="4.03">r'</text><text x="21.5" y="27.8" font-size="4.48">u</text><text x="24.0" y="27.2" font-size="4.70">eI</text><text x="4.0" y="30.8" font-size="4.48">g</text><text x="11.9" y="30.8" font-size="4.48">oo</text><text x="17.0" y="34.0" font-size="4.93">C@</text><text x="25.0" y="36.3" font-size="5.15">I</text><text x="24.7" y="33.0" font-size="4.70">Ue</text><text x="8.3" y="37.0" font-size="4.70">e</text><text x="4.5" y="34.0" font-size="4.03">I</text><text x="13.0" y="24.5" font-size="4.03">v</text><text x="16.5" y="9.5" font-size="3.81">tS</text><text x="12.5" y="14.0" font-size="3.81">n</text><text x="18.0" y="18.0" font-size="3.81">aI</text><text x="22.5" y="18.0" font-size="3.81">d</text><text x="7.5" y="15.5" font-size="3.81">k</text><text x="9.0" y="22.5" font-size="3.81">s</text><text x="14.0" y="27.0" font-size="3.81">p</text><text x="17.5" y="30.0" font-size="3.81">m</text><text x="20.5" y="37.0" font-size="3.81">eI</text><text x="1.0" y="14.0" font-size="3.58">h</text><text x="26.5" y="12.5" font-size="3.81">j</text><text x="13.0" y="35.0" font-size="3.81">w</text></g>
<g transform="translate(237.00,550.50) scale(1.13)" fill="#ee6d4d" stroke="#ee6d4d" stroke-width="0.08" font-family="'Liberation Sans', Arial, sans-serif" opacity="0.6"><text x="0.5" y="4.4" font-size="4.48">a}k</text><text x="2.0" y="7.4" font-size="4.26">%e</text><text x="7.0" y="9.6" font-size="4.03">e</text><text x="10.8" y="6.2" font-size="4.48">I</text><text x="17.9" y="5.8" font-size="4.93">z</text><text x="22.9" y="3.7" font-size="4.26">el</text><text x="25.7" y="8.0" font-size="4.03">'</text><text x="14.0" y="12.2" font-size="5.15">Da</text><text x="21.5" y="10.2" font-size="4.26">3</text><text x="19.5" y="14.9" font-size="4.26">tS</text><text x="23.0" y="15.0" font-size="4.48">oz</text><text x="14.4" y="16.6" font-size="4.48">V</text><text x="5.9" y="18.9" font-size="4.70">I</text><text x="10.5" y="20.2" font-size="4.93">@</text><text x="15.4" y="19.5" font-size="5.15">U</text><text x="19.0" y="22.7" font-size="5.38">Q</text><text x="23.6" y="20.9" font-size="4.70">b</text><text x="3.0" y="22.8" font-size="4.26">I</text><text x="27.9" y="23.5" font-size="4.26">I</text><text x="3.4" y="26.4" font-size="4.48">g</text><text x="8.0" y="26.6" font-size="4.48">i</text><text x="10.0" y="28.5" font-size="4.03">r'</text><text x="21.5" y="27.8" font-size="4.48">u</text><text x="24.0" y="27.2" font-size="4.70">eI</text><text x="4.0" y="30.8" font-size="4.48">g</text><text x="11.9" y="30.8" font-size="4.48">oo</text><text x="17.0" y="34.0" font-size="4.93">C@</text><text x="25.0" y="36.3" font-size="5.15">I</text><text x="24.7" y="33.0" font-size="4.70">Ue</text><text x="8.3" y="37.0" font-size="4.70">e</text><text x="4.5" y="34.0" font-size="4.03">I</text><text x="13.0" y="24.5" font-size="4.03">v</text><text x="16.5" y="9.5" font-size="3.81">tS</text><text x="12.5" y="14.0" font-size="3.81">n</text><text x="18.0" y="18.0" font-size="3.81">aI</text><text x="22.5" y="18.0" font-size="3.81">d</text><text x="7.5" y="15.5" font-size="3.81">k</text><text x="9.0" y="22.5" font-size="3.81">s</text><text x="14.0" y="27.0" font-size="3.81">p</text><text x="17.5" y="30.0" font-size="3.81">m</text><text x="20.5" y="37.0" font-size="3.81">eI</text><text x="1.0" y="14.0" font-size="3.58">h</text><text x="26.5" y="12.5" font-size="3.81">j</text><text x="13.0" y="35.0" font-size="3.81">w</text></g>
<text x="81.60" y="510.00" font-size="13.2" fill="#7e1b2e" font-family="'Liberation Sans', Arial, sans-serif" stroke="#7e1b2e" stroke-width="0.1">@</text>
<text x="96.00" y="510.60" font-size="15.5" fill="#7e1b2e" font-family="'Liberation Sans', Arial, sans-serif" stroke="#7e1b2e" stroke-width="0.1" textLength="10.50" lengthAdjust="spacingAndGlyphs" text-anchor="start">U</text>
<text x="152.10" y="510.00" font-size="13.2" fill="#5cb85f" font-family="'Liberation Sans', Arial, sans-serif" stroke="#5cb85f" stroke-width="0.1">@</text>
<text x="166.50" y="510.60" font-size="15.5" fill="#5cb85f" font-family="'Liberation Sans', Arial, sans-serif" stroke="#5cb85f" stroke-width="0.1" textLength="10.50" lengthAdjust="spacingAndGlyphs" text-anchor="start">U</text>
<text x="237.90" y="511.40" font-size="15.0" fill="#7d2a80" font-family="'Liberation Sans', Arial, sans-serif" stroke="#7d2a80" stroke-width="0.1">@</text>
<text x="255.40" y="512.00" font-size="17.5" fill="#7d2a80" font-family="'Liberation Sans', Arial, sans-serif" stroke="#7d2a80" stroke-width="0.1" textLength="11.80" lengthAdjust="spacingAndGlyphs" text-anchor="start">U</text>
<text x="81.60" y="575.00" font-size="13.2" fill="#7e1b2e" font-family="'Liberation Sans', Arial, sans-serif" stroke="#7e1b2e" stroke-width="0.1">@</text>
<text x="96.00" y="575.60" font-size="15.5" fill="#7e1b2e" font-family="'Liberation Sans', Arial, sans-serif" stroke="#7e1b2e" stroke-width="0.1" textLength="10.50" lengthAdjust="spacingAndGlyphs" text-anchor="start">U</text>
<text x="152.10" y="575.00" font-size="13.2" fill="#5cb85f" font-family="'Liberation Sans', Arial, sans-serif" stroke="#5cb85f" stroke-width="0.1">@</text>
<text x="166.50" y="575.60" font-size="15.5" fill="#5cb85f" font-family="'Liberation Sans', Arial, sans-serif" stroke="#5cb85f" stroke-width="0.1" textLength="10.50" lengthAdjust="spacingAndGlyphs" text-anchor="start">U</text>
<text x="387.40" y="16.80" font-size="19.5" fill="#231f20" font-family="'Liberation Sans', Arial, sans-serif" stroke="#231f20" stroke-width="0.55" textLength="12.30" lengthAdjust="spacingAndGlyphs">C</text>
<text x="0" y="0" font-size="11.8" fill="#3b55a6" stroke="#3b55a6" stroke-width="0.3" font-family="'Liberation Sans', Arial, sans-serif" textLength="52.5" lengthAdjust="spacingAndGlyphs" transform="translate(404.30,46.40) rotate(-44.8)">Strong+M</text>
<text x="0" y="0" font-size="11.8" fill="#231f20" stroke="#231f20" stroke-width="0.3" font-family="'Liberation Sans', Arial, sans-serif" textLength="45.5" lengthAdjust="spacingAndGlyphs" transform="translate(456.40,43.40) rotate(-44.8)">Weak+M</text>
<text x="0" y="0" font-size="11.8" fill="#3b55a6" stroke="#3b55a6" stroke-width="0.3" font-family="'Liberation Sans', Arial, sans-serif" textLength="62.5" lengthAdjust="spacingAndGlyphs" transform="translate(508.20,50.40) rotate(-44.8)">Strong+MM</text>
<text x="0" y="0" font-size="11.8" fill="#231f20" stroke="#231f20" stroke-width="0.3" font-family="'Liberation Sans', Arial, sans-serif" textLength="54.5" lengthAdjust="spacingAndGlyphs" transform="translate(554.50,46.90) rotate(-44.8)">Weak+MM</text>
<text x="0" y="0" font-size="6.8" fill="#3b55a6" stroke="#3b55a6" stroke-width="0.15" font-family="'Liberation Sans', Arial, sans-serif" textLength="24.0" lengthAdjust="spacingAndGlyphs" transform="translate(420.50,42.20) rotate(-44.8)">“bingo”</text>
<text x="0" y="0" font-size="6.8" fill="#231f20" stroke="#231f20" stroke-width="0.15" font-family="'Liberation Sans', Arial, sans-serif" textLength="23.0" lengthAdjust="spacingAndGlyphs" transform="translate(469.50,40.70) rotate(-44.8)">“tango”</text>
<text x="0" y="0" font-size="6.8" fill="#3b55a6" stroke="#3b55a6" stroke-width="0.15" font-family="'Liberation Sans', Arial, sans-serif" textLength="22.5" lengthAdjust="spacingAndGlyphs" transform="translate(527.00,40.70) rotate(-44.8)">“snigo”</text>
<text x="0" y="0" font-size="6.8" fill="#231f20" stroke="#231f20" stroke-width="0.15" font-family="'Liberation Sans', Arial, sans-serif" textLength="27.0" lengthAdjust="spacingAndGlyphs" transform="translate(568.50,42.50) rotate(-44.8)">“meago”</text>
<g transform="translate(410.50,49.50) scale(0.77)" fill="#4ea55b" stroke="#4ea55b" stroke-width="0.08" font-family="'Liberation Sans', Arial, sans-serif" opacity="0.72"><text x="0.5" y="4.4" font-size="4.48">a}k</text><text x="2.0" y="7.4" font-size="4.26">%e</text><text x="7.0" y="9.6" font-size="4.03">e</text><text x="10.8" y="6.2" font-size="4.48">I</text><text x="17.9" y="5.8" font-size="4.93">z</text><text x="22.9" y="3.7" font-size="4.26">el</text><text x="25.7" y="8.0" font-size="4.03">'</text><text x="14.0" y="12.2" font-size="5.15">Da</text><text x="21.5" y="10.2" font-size="4.26">3</text><text x="19.5" y="14.9" font-size="4.26">tS</text><text x="23.0" y="15.0" font-size="4.48">oz</text><text x="14.4" y="16.6" font-size="4.48">V</text><text x="5.9" y="18.9" font-size="4.70">I</text><text x="10.5" y="20.2" font-size="4.93">@</text><text x="15.4" y="19.5" font-size="5.15">U</text><text x="19.0" y="22.7" font-size="5.38">Q</text><text x="23.6" y="20.9" font-size="4.70">b</text><text x="3.0" y="22.8" font-size="4.26">I</text><text x="27.9" y="23.5" font-size="4.26">I</text><text x="3.4" y="26.4" font-size="4.48">g</text><text x="8.0" y="26.6" font-size="4.48">i</text><text x="10.0" y="28.5" font-size="4.03">r'</text><text x="21.5" y="27.8" font-size="4.48">u</text><text x="24.0" y="27.2" font-size="4.70">eI</text><text x="4.0" y="30.8" font-size="4.48">g</text><text x="11.9" y="30.8" font-size="4.48">oo</text><text x="17.0" y="34.0" font-size="4.93">C@</text><text x="25.0" y="36.3" font-size="5.15">I</text><text x="24.7" y="33.0" font-size="4.70">Ue</text><text x="8.3" y="37.0" font-size="4.70">e</text><text x="4.5" y="34.0" font-size="4.03">I</text><text x="13.0" y="24.5" font-size="4.03">v</text><text x="16.5" y="9.5" font-size="3.81">tS</text><text x="12.5" y="14.0" font-size="3.81">n</text><text x="18.0" y="18.0" font-size="3.81">aI</text><text x="22.5" y="18.0" font-size="3.81">d</text><text x="7.5" y="15.5" font-size="3.81">k</text><text x="9.0" y="22.5" font-size="3.81">s</text><text x="14.0" y="27.0" font-size="3.81">p</text><text x="17.5" y="30.0" font-size="3.81">m</text><text x="20.5" y="37.0" font-size="3.81">eI</text><text x="1.0" y="14.0" font-size="3.58">h</text><text x="26.5" y="12.5" font-size="3.81">j</text><text x="13.0" y="35.0" font-size="3.81">w</text></g>
<g transform="translate(460.50,49.50) scale(0.77)" fill="#4ea55b" stroke="#4ea55b" stroke-width="0.08" font-family="'Liberation Sans', Arial, sans-serif" opacity="0.72"><text x="0.5" y="4.4" font-size="4.48">a}k</text><text x="2.0" y="7.4" font-size="4.26">%e</text><text x="7.0" y="9.6" font-size="4.03">e</text><text x="10.8" y="6.2" font-size="4.48">I</text><text x="17.9" y="5.8" font-size="4.93">z</text><text x="22.9" y="3.7" font-size="4.26">el</text><text x="25.7" y="8.0" font-size="4.03">'</text><text x="14.0" y="12.2" font-size="5.15">Da</text><text x="21.5" y="10.2" font-size="4.26">3</text><text x="19.5" y="14.9" font-size="4.26">tS</text><text x="23.0" y="15.0" font-size="4.48">oz</text><text x="14.4" y="16.6" font-size="4.48">V</text><text x="5.9" y="18.9" font-size="4.70">I</text><text x="10.5" y="20.2" font-size="4.93">@</text><text x="15.4" y="19.5" font-size="5.15">U</text><text x="19.0" y="22.7" font-size="5.38">Q</text><text x="23.6" y="20.9" font-size="4.70">b</text><text x="3.0" y="22.8" font-size="4.26">I</text><text x="27.9" y="23.5" font-size="4.26">I</text><text x="3.4" y="26.4" font-size="4.48">g</text><text x="8.0" y="26.6" font-size="4.48">i</text><text x="10.0" y="28.5" font-size="4.03">r'</text><text x="21.5" y="27.8" font-size="4.48">u</text><text x="24.0" y="27.2" font-size="4.70">eI</text><text x="4.0" y="30.8" font-size="4.48">g</text><text x="11.9" y="30.8" font-size="4.48">oo</text><text x="17.0" y="34.0" font-size="4.93">C@</text><text x="25.0" y="36.3" font-size="5.15">I</text><text x="24.7" y="33.0" font-size="4.70">Ue</text><text x="8.3" y="37.0" font-size="4.70">e</text><text x="4.5" y="34.0" font-size="4.03">I</text><text x="13.0" y="24.5" font-size="4.03">v</text><text x="16.5" y="9.5" font-size="3.81">tS</text><text x="12.5" y="14.0" font-size="3.81">n</text><text x="18.0" y="18.0" font-size="3.81">aI</text><text x="22.5" y="18.0" font-size="3.81">d</text><text x="7.5" y="15.5" font-size="3.81">k</text><text x="9.0" y="22.5" font-size="3.81">s</text><text x="14.0" y="27.0" font-size="3.81">p</text><text x="17.5" y="30.0" font-size="3.81">m</text><text x="20.5" y="37.0" font-size="3.81">eI</text><text x="1.0" y="14.0" font-size="3.58">h</text><text x="26.5" y="12.5" font-size="3.81">j</text><text x="13.0" y="35.0" font-size="3.81">w</text></g>
<g transform="translate(510.80,49.50) scale(0.77)" fill="#4ea55b" stroke="#4ea55b" stroke-width="0.08" font-family="'Liberation Sans', Arial, sans-serif" opacity="0.72"><text x="0.5" y="4.4" font-size="4.48">a}k</text><text x="2.0" y="7.4" font-size="4.26">%e</text><text x="7.0" y="9.6" font-size="4.03">e</text><text x="10.8" y="6.2" font-size="4.48">I</text><text x="17.9" y="5.8" font-size="4.93">z</text><text x="22.9" y="3.7" font-size="4.26">el</text><text x="25.7" y="8.0" font-size="4.03">'</text><text x="14.0" y="12.2" font-size="5.15">Da</text><text x="21.5" y="10.2" font-size="4.26">3</text><text x="19.5" y="14.9" font-size="4.26">tS</text><text x="23.0" y="15.0" font-size="4.48">oz</text><text x="14.4" y="16.6" font-size="4.48">V</text><text x="5.9" y="18.9" font-size="4.70">I</text><text x="10.5" y="20.2" font-size="4.93">@</text><text x="15.4" y="19.5" font-size="5.15">U</text><text x="19.0" y="22.7" font-size="5.38">Q</text><text x="23.6" y="20.9" font-size="4.70">b</text><text x="3.0" y="22.8" font-size="4.26">I</text><text x="27.9" y="23.5" font-size="4.26">I</text><text x="3.4" y="26.4" font-size="4.48">g</text><text x="8.0" y="26.6" font-size="4.48">i</text><text x="10.0" y="28.5" font-size="4.03">r'</text><text x="21.5" y="27.8" font-size="4.48">u</text><text x="24.0" y="27.2" font-size="4.70">eI</text><text x="4.0" y="30.8" font-size="4.48">g</text><text x="11.9" y="30.8" font-size="4.48">oo</text><text x="17.0" y="34.0" font-size="4.93">C@</text><text x="25.0" y="36.3" font-size="5.15">I</text><text x="24.7" y="33.0" font-size="4.70">Ue</text><text x="8.3" y="37.0" font-size="4.70">e</text><text x="4.5" y="34.0" font-size="4.03">I</text><text x="13.0" y="24.5" font-size="4.03">v</text><text x="16.5" y="9.5" font-size="3.81">tS</text><text x="12.5" y="14.0" font-size="3.81">n</text><text x="18.0" y="18.0" font-size="3.81">aI</text><text x="22.5" y="18.0" font-size="3.81">d</text><text x="7.5" y="15.5" font-size="3.81">k</text><text x="9.0" y="22.5" font-size="3.81">s</text><text x="14.0" y="27.0" font-size="3.81">p</text><text x="17.5" y="30.0" font-size="3.81">m</text><text x="20.5" y="37.0" font-size="3.81">eI</text><text x="1.0" y="14.0" font-size="3.58">h</text><text x="26.5" y="12.5" font-size="3.81">j</text><text x="13.0" y="35.0" font-size="3.81">w</text></g>
<g transform="translate(560.20,49.50) scale(0.77)" fill="#4ea55b" stroke="#4ea55b" stroke-width="0.08" font-family="'Liberation Sans', Arial, sans-serif" opacity="0.72"><text x="0.5" y="4.4" font-size="4.48">a}k</text><text x="2.0" y="7.4" font-size="4.26">%e</text><text x="7.0" y="9.6" font-size="4.03">e</text><text x="10.8" y="6.2" font-size="4.48">I</text><text x="17.9" y="5.8" font-size="4.93">z</text><text x="22.9" y="3.7" font-size="4.26">el</text><text x="25.7" y="8.0" font-size="4.03">'</text><text x="14.0" y="12.2" font-size="5.15">Da</text><text x="21.5" y="10.2" font-size="4.26">3</text><text x="19.5" y="14.9" font-size="4.26">tS</text><text x="23.0" y="15.0" font-size="4.48">oz</text><text x="14.4" y="16.6" font-size="4.48">V</text><text x="5.9" y="18.9" font-size="4.70">I</text><text x="10.5" y="20.2" font-size="4.93">@</text><text x="15.4" y="19.5" font-size="5.15">U</text><text x="19.0" y="22.7" font-size="5.38">Q</text><text x="23.6" y="20.9" font-size="4.70">b</text><text x="3.0" y="22.8" font-size="4.26">I</text><text x="27.9" y="23.5" font-size="4.26">I</text><text x="3.4" y="26.4" font-size="4.48">g</text><text x="8.0" y="26.6" font-size="4.48">i</text><text x="10.0" y="28.5" font-size="4.03">r'</text><text x="21.5" y="27.8" font-size="4.48">u</text><text x="24.0" y="27.2" font-size="4.70">eI</text><text x="4.0" y="30.8" font-size="4.48">g</text><text x="11.9" y="30.8" font-size="4.48">oo</text><text x="17.0" y="34.0" font-size="4.93">C@</text><text x="25.0" y="36.3" font-size="5.15">I</text><text x="24.7" y="33.0" font-size="4.70">Ue</text><text x="8.3" y="37.0" font-size="4.70">e</text><text x="4.5" y="34.0" font-size="4.03">I</text><text x="13.0" y="24.5" font-size="4.03">v</text><text x="16.5" y="9.5" font-size="3.81">tS</text><text x="12.5" y="14.0" font-size="3.81">n</text><text x="18.0" y="18.0" font-size="3.81">aI</text><text x="22.5" y="18.0" font-size="3.81">d</text><text x="7.5" y="15.5" font-size="3.81">k</text><text x="9.0" y="22.5" font-size="3.81">s</text><text x="14.0" y="27.0" font-size="3.81">p</text><text x="17.5" y="30.0" font-size="3.81">m</text><text x="20.5" y="37.0" font-size="3.81">eI</text><text x="1.0" y="14.0" font-size="3.58">h</text><text x="26.5" y="12.5" font-size="3.81">j</text><text x="13.0" y="35.0" font-size="3.81">w</text></g>
<g transform="translate(410.50,96.00) scale(0.77)" fill="#7e1b2e" stroke="#7e1b2e" stroke-width="0.08" font-family="'Liberation Sans', Arial, sans-serif" opacity="0.72"><text x="0.5" y="4.4" font-size="4.48">a}k</text><text x="2.0" y="7.4" font-size="4.26">%e</text><text x="7.0" y="9.6" font-size="4.03">e</text><text x="10.8" y="6.2" font-size="4.48">I</text><text x="17.9" y="5.8" font-size="4.93">z</text><text x="22.9" y="3.7" font-size="4.26">el</text><text x="25.7" y="8.0" font-size="4.03">'</text><text x="14.0" y="12.2" font-size="5.15">Da</text><text x="21.5" y="10.2" font-size="4.26">3</text><text x="19.5" y="14.9" font-size="4.26">tS</text><text x="23.0" y="15.0" font-size="4.48">oz</text><text x="14.4" y="16.6" font-size="4.48">V</text><text x="5.9" y="18.9" font-size="4.70">I</text><text x="10.5" y="20.2" font-size="4.93">@</text><text x="15.4" y="19.5" font-size="5.15">U</text><text x="19.0" y="22.7" font-size="5.38">Q</text><text x="23.6" y="20.9" font-size="4.70">b</text><text x="3.0" y="22.8" font-size="4.26">I</text><text x="27.9" y="23.5" font-size="4.26">I</text><text x="3.4" y="26.4" font-size="4.48">g</text><text x="8.0" y="26.6" font-size="4.48">i</text><text x="10.0" y="28.5" font-size="4.03">r'</text><text x="21.5" y="27.8" font-size="4.48">u</text><text x="24.0" y="27.2" font-size="4.70">eI</text><text x="4.0" y="30.8" font-size="4.48">g</text><text x="11.9" y="30.8" font-size="4.48">oo</text><text x="17.0" y="34.0" font-size="4.93">C@</text><text x="25.0" y="36.3" font-size="5.15">I</text><text x="24.7" y="33.0" font-size="4.70">Ue</text><text x="8.3" y="37.0" font-size="4.70">e</text><text x="4.5" y="34.0" font-size="4.03">I</text><text x="13.0" y="24.5" font-size="4.03">v</text><text x="16.5" y="9.5" font-size="3.81">tS</text><text x="12.5" y="14.0" font-size="3.81">n</text><text x="18.0" y="18.0" font-size="3.81">aI</text><text x="22.5" y="18.0" font-size="3.81">d</text><text x="7.5" y="15.5" font-size="3.81">k</text><text x="9.0" y="22.5" font-size="3.81">s</text><text x="14.0" y="27.0" font-size="3.81">p</text><text x="17.5" y="30.0" font-size="3.81">m</text><text x="20.5" y="37.0" font-size="3.81">eI</text><text x="1.0" y="14.0" font-size="3.58">h</text><text x="26.5" y="12.5" font-size="3.81">j</text><text x="13.0" y="35.0" font-size="3.81">w</text></g>
<g transform="translate(460.50,96.00) scale(0.77)" fill="#7e1b2e" stroke="#7e1b2e" stroke-width="0.08" font-family="'Liberation Sans', Arial, sans-serif" opacity="0.72"><text x="0.5" y="4.4" font-size="4.48">a}k</text><text x="2.0" y="7.4" font-size="4.26">%e</text><text x="7.0" y="9.6" font-size="4.03">e</text><text x="10.8" y="6.2" font-size="4.48">I</text><text x="17.9" y="5.8" font-size="4.93">z</text><text x="22.9" y="3.7" font-size="4.26">el</text><text x="25.7" y="8.0" font-size="4.03">'</text><text x="14.0" y="12.2" font-size="5.15">Da</text><text x="21.5" y="10.2" font-size="4.26">3</text><text x="19.5" y="14.9" font-size="4.26">tS</text><text x="23.0" y="15.0" font-size="4.48">oz</text><text x="14.4" y="16.6" font-size="4.48">V</text><text x="5.9" y="18.9" font-size="4.70">I</text><text x="10.5" y="20.2" font-size="4.93">@</text><text x="15.4" y="19.5" font-size="5.15">U</text><text x="19.0" y="22.7" font-size="5.38">Q</text><text x="23.6" y="20.9" font-size="4.70">b</text><text x="3.0" y="22.8" font-size="4.26">I</text><text x="27.9" y="23.5" font-size="4.26">I</text><text x="3.4" y="26.4" font-size="4.48">g</text><text x="8.0" y="26.6" font-size="4.48">i</text><text x="10.0" y="28.5" font-size="4.03">r'</text><text x="21.5" y="27.8" font-size="4.48">u</text><text x="24.0" y="27.2" font-size="4.70">eI</text><text x="4.0" y="30.8" font-size="4.48">g</text><text x="11.9" y="30.8" font-size="4.48">oo</text><text x="17.0" y="34.0" font-size="4.93">C@</text><text x="25.0" y="36.3" font-size="5.15">I</text><text x="24.7" y="33.0" font-size="4.70">Ue</text><text x="8.3" y="37.0" font-size="4.70">e</text><text x="4.5" y="34.0" font-size="4.03">I</text><text x="13.0" y="24.5" font-size="4.03">v</text><text x="16.5" y="9.5" font-size="3.81">tS</text><text x="12.5" y="14.0" font-size="3.81">n</text><text x="18.0" y="18.0" font-size="3.81">aI</text><text x="22.5" y="18.0" font-size="3.81">d</text><text x="7.5" y="15.5" font-size="3.81">k</text><text x="9.0" y="22.5" font-size="3.81">s</text><text x="14.0" y="27.0" font-size="3.81">p</text><text x="17.5" y="30.0" font-size="3.81">m</text><text x="20.5" y="37.0" font-size="3.81">eI</text><text x="1.0" y="14.0" font-size="3.58">h</text><text x="26.5" y="12.5" font-size="3.81">j</text><text x="13.0" y="35.0" font-size="3.81">w</text></g>
<g transform="translate(510.80,96.00) scale(0.77)" fill="#7e1b2e" stroke="#7e1b2e" stroke-width="0.08" font-family="'Liberation Sans', Arial, sans-serif" opacity="0.72"><text x="0.5" y="4.4" font-size="4.48">a}k</text><text x="2.0" y="7.4" font-size="4.26">%e</text><text x="7.0" y="9.6" font-size="4.03">e</text><text x="10.8" y="6.2" font-size="4.48">I</text><text x="17.9" y="5.8" font-size="4.93">z</text><text x="22.9" y="3.7" font-size="4.26">el</text><text x="25.7" y="8.0" font-size="4.03">'</text><text x="14.0" y="12.2" font-size="5.15">Da</text><text x="21.5" y="10.2" font-size="4.26">3</text><text x="19.5" y="14.9" font-size="4.26">tS</text><text x="23.0" y="15.0" font-size="4.48">oz</text><text x="14.4" y="16.6" font-size="4.48">V</text><text x="5.9" y="18.9" font-size="4.70">I</text><text x="10.5" y="20.2" font-size="4.93">@</text><text x="15.4" y="19.5" font-size="5.15">U</text><text x="19.0" y="22.7" font-size="5.38">Q</text><text x="23.6" y="20.9" font-size="4.70">b</text><text x="3.0" y="22.8" font-size="4.26">I</text><text x="27.9" y="23.5" font-size="4.26">I</text><text x="3.4" y="26.4" font-size="4.48">g</text><text x="8.0" y="26.6" font-size="4.48">i</text><text x="10.0" y="28.5" font-size="4.03">r'</text><text x="21.5" y="27.8" font-size="4.48">u</text><text x="24.0" y="27.2" font-size="4.70">eI</text><text x="4.0" y="30.8" font-size="4.48">g</text><text x="11.9" y="30.8" font-size="4.48">oo</text><text x="17.0" y="34.0" font-size="4.93">C@</text><text x="25.0" y="36.3" font-size="5.15">I</text><text x="24.7" y="33.0" font-size="4.70">Ue</text><text x="8.3" y="37.0" font-size="4.70">e</text><text x="4.5" y="34.0" font-size="4.03">I</text><text x="13.0" y="24.5" font-size="4.03">v</text><text x="16.5" y="9.5" font-size="3.81">tS</text><text x="12.5" y="14.0" font-size="3.81">n</text><text x="18.0" y="18.0" font-size="3.81">aI</text><text x="22.5" y="18.0" font-size="3.81">d</text><text x="7.5" y="15.5" font-size="3.81">k</text><text x="9.0" y="22.5" font-size="3.81">s</text><text x="14.0" y="27.0" font-size="3.81">p</text><text x="17.5" y="30.0" font-size="3.81">m</text><text x="20.5" y="37.0" font-size="3.81">eI</text><text x="1.0" y="14.0" font-size="3.58">h</text><text x="26.5" y="12.5" font-size="3.81">j</text><text x="13.0" y="35.0" font-size="3.81">w</text></g>
<g transform="translate(560.20,96.00) scale(0.77)" fill="#7e1b2e" stroke="#7e1b2e" stroke-width="0.08" font-family="'Liberation Sans', Arial, sans-serif" opacity="0.72"><text x="0.5" y="4.4" font-size="4.48">a}k</text><text x="2.0" y="7.4" font-size="4.26">%e</text><text x="7.0" y="9.6" font-size="4.03">e</text><text x="10.8" y="6.2" font-size="4.48">I</text><text x="17.9" y="5.8" font-size="4.93">z</text><text x="22.9" y="3.7" font-size="4.26">el</text><text x="25.7" y="8.0" font-size="4.03">'</text><text x="14.0" y="12.2" font-size="5.15">Da</text><text x="21.5" y="10.2" font-size="4.26">3</text><text x="19.5" y="14.9" font-size="4.26">tS</text><text x="23.0" y="15.0" font-size="4.48">oz</text><text x="14.4" y="16.6" font-size="4.48">V</text><text x="5.9" y="18.9" font-size="4.70">I</text><text x="10.5" y="20.2" font-size="4.93">@</text><text x="15.4" y="19.5" font-size="5.15">U</text><text x="19.0" y="22.7" font-size="5.38">Q</text><text x="23.6" y="20.9" font-size="4.70">b</text><text x="3.0" y="22.8" font-size="4.26">I</text><text x="27.9" y="23.5" font-size="4.26">I</text><text x="3.4" y="26.4" font-size="4.48">g</text><text x="8.0" y="26.6" font-size="4.48">i</text><text x="10.0" y="28.5" font-size="4.03">r'</text><text x="21.5" y="27.8" font-size="4.48">u</text><text x="24.0" y="27.2" font-size="4.70">eI</text><text x="4.0" y="30.8" font-size="4.48">g</text><text x="11.9" y="30.8" font-size="4.48">oo</text><text x="17.0" y="34.0" font-size="4.93">C@</text><text x="25.0" y="36.3" font-size="5.15">I</text><text x="24.7" y="33.0" font-size="4.70">Ue</text><text x="8.3" y="37.0" font-size="4.70">e</text><text x="4.5" y="34.0" font-size="4.03">I</text><text x="13.0" y="24.5" font-size="4.03">v</text><text x="16.5" y="9.5" font-size="3.81">tS</text><text x="12.5" y="14.0" font-size="3.81">n</text><text x="18.0" y="18.0" font-size="3.81">aI</text><text x="22.5" y="18.0" font-size="3.81">d</text><text x="7.5" y="15.5" font-size="3.81">k</text><text x="9.0" y="22.5" font-size="3.81">s</text><text x="14.0" y="27.0" font-size="3.81">p</text><text x="17.5" y="30.0" font-size="3.81">m</text><text x="20.5" y="37.0" font-size="3.81">eI</text><text x="1.0" y="14.0" font-size="3.58">h</text><text x="26.5" y="12.5" font-size="3.81">j</text><text x="13.0" y="35.0" font-size="3.81">w</text></g>
<g transform="translate(410.50,141.80) scale(0.77)" fill="#7d2a80" stroke="#7d2a80" stroke-width="0.08" font-family="'Liberation Sans', Arial, sans-serif" opacity="0.72"><text x="0.5" y="4.4" font-size="4.48">a}k</text><text x="2.0" y="7.4" font-size="4.26">%e</text><text x="7.0" y="9.6" font-size="4.03">e</text><text x="10.8" y="6.2" font-size="4.48">I</text><text x="17.9" y="5.8" font-size="4.93">z</text><text x="22.9" y="3.7" font-size="4.26">el</text><text x="25.7" y="8.0" font-size="4.03">'</text><text x="14.0" y="12.2" font-size="5.15">Da</text><text x="21.5" y="10.2" font-size="4.26">3</text><text x="19.5" y="14.9" font-size="4.26">tS</text><text x="23.0" y="15.0" font-size="4.48">oz</text><text x="14.4" y="16.6" font-size="4.48">V</text><text x="5.9" y="18.9" font-size="4.70">I</text><text x="10.5" y="20.2" font-size="4.93">@</text><text x="15.4" y="19.5" font-size="5.15">U</text><text x="19.0" y="22.7" font-size="5.38">Q</text><text x="23.6" y="20.9" font-size="4.70">b</text><text x="3.0" y="22.8" font-size="4.26">I</text><text x="27.9" y="23.5" font-size="4.26">I</text><text x="3.4" y="26.4" font-size="4.48">g</text><text x="8.0" y="26.6" font-size="4.48">i</text><text x="10.0" y="28.5" font-size="4.03">r'</text><text x="21.5" y="27.8" font-size="4.48">u</text><text x="24.0" y="27.2" font-size="4.70">eI</text><text x="4.0" y="30.8" font-size="4.48">g</text><text x="11.9" y="30.8" font-size="4.48">oo</text><text x="17.0" y="34.0" font-size="4.93">C@</text><text x="25.0" y="36.3" font-size="5.15">I</text><text x="24.7" y="33.0" font-size="4.70">Ue</text><text x="8.3" y="37.0" font-size="4.70">e</text><text x="4.5" y="34.0" font-size="4.03">I</text><text x="13.0" y="24.5" font-size="4.03">v</text><text x="16.5" y="9.5" font-size="3.81">tS</text><text x="12.5" y="14.0" font-size="3.81">n</text><text x="18.0" y="18.0" font-size="3.81">aI</text><text x="22.5" y="18.0" font-size="3.81">d</text><text x="7.5" y="15.5" font-size="3.81">k</text><text x="9.0" y="22.5" font-size="3.81">s</text><text x="14.0" y="27.0" font-size="3.81">p</text><text x="17.5" y="30.0" font-size="3.81">m</text><text x="20.5" y="37.0" font-size="3.81">eI</text><text x="1.0" y="14.0" font-size="3.58">h</text><text x="26.5" y="12.5" font-size="3.81">j</text><text x="13.0" y="35.0" font-size="3.81">w</text></g>
<g transform="translate(460.50,141.80) scale(0.77)" fill="#7d2a80" stroke="#7d2a80" stroke-width="0.08" font-family="'Liberation Sans', Arial, sans-serif" opacity="0.72"><text x="0.5" y="4.4" font-size="4.48">a}k</text><text x="2.0" y="7.4" font-size="4.26">%e</text><text x="7.0" y="9.6" font-size="4.03">e</text><text x="10.8" y="6.2" font-size="4.48">I</text><text x="17.9" y="5.8" font-size="4.93">z</text><text x="22.9" y="3.7" font-size="4.26">el</text><text x="25.7" y="8.0" font-size="4.03">'</text><text x="14.0" y="12.2" font-size="5.15">Da</text><text x="21.5" y="10.2" font-size="4.26">3</text><text x="19.5" y="14.9" font-size="4.26">tS</text><text x="23.0" y="15.0" font-size="4.48">oz</text><text x="14.4" y="16.6" font-size="4.48">V</text><text x="5.9" y="18.9" font-size="4.70">I</text><text x="10.5" y="20.2" font-size="4.93">@</text><text x="15.4" y="19.5" font-size="5.15">U</text><text x="19.0" y="22.7" font-size="5.38">Q</text><text x="23.6" y="20.9" font-size="4.70">b</text><text x="3.0" y="22.8" font-size="4.26">I</text><text x="27.9" y="23.5" font-size="4.26">I</text><text x="3.4" y="26.4" font-size="4.48">g</text><text x="8.0" y="26.6" font-size="4.48">i</text><text x="10.0" y="28.5" font-size="4.03">r'</text><text x="21.5" y="27.8" font-size="4.48">u</text><text x="24.0" y="27.2" font-size="4.70">eI</text><text x="4.0" y="30.8" font-size="4.48">g</text><text x="11.9" y="30.8" font-size="4.48">oo</text><text x="17.0" y="34.0" font-size="4.93">C@</text><text x="25.0" y="36.3" font-size="5.15">I</text><text x="24.7" y="33.0" font-size="4.70">Ue</text><text x="8.3" y="37.0" font-size="4.70">e</text><text x="4.5" y="34.0" font-size="4.03">I</text><text x="13.0" y="24.5" font-size="4.03">v</text><text x="16.5" y="9.5" font-size="3.81">tS</text><text x="12.5" y="14.0" font-size="3.81">n</text><text x="18.0" y="18.0" font-size="3.81">aI</text><text x="22.5" y="18.0" font-size="3.81">d</text><text x="7.5" y="15.5" font-size="3.81">k</text><text x="9.0" y="22.5" font-size="3.81">s</text><text x="14.0" y="27.0" font-size="3.81">p</text><text x="17.5" y="30.0" font-size="3.81">m</text><text x="20.5" y="37.0" font-size="3.81">eI</text><text x="1.0" y="14.0" font-size="3.58">h</text><text x="26.5" y="12.5" font-size="3.81">j</text><text x="13.0" y="35.0" font-size="3.81">w</text></g>
<g transform="translate(510.80,141.80) scale(0.77)" fill="#7d2a80" stroke="#7d2a80" stroke-width="0.08" font-family="'Liberation Sans', Arial, sans-serif" opacity="0.72"><text x="0.5" y="4.4" font-size="4.48">a}k</text><text x="2.0" y="7.4" font-size="4.26">%e</text><text x="7.0" y="9.6" font-size="4.03">e</text><text x="10.8" y="6.2" font-size="4.48">I</text><text x="17.9" y="5.8" font-size="4.93">z</text><text x="22.9" y="3.7" font-size="4.26">el</text><text x="25.7" y="8.0" font-size="4.03">'</text><text x="14.0" y="12.2" font-size="5.15">Da</text><text x="21.5" y="10.2" font-size="4.26">3</text><text x="19.5" y="14.9" font-size="4.26">tS</text><text x="23.0" y="15.0" font-size="4.48">oz</text><text x="14.4" y="16.6" font-size="4.48">V</text><text x="5.9" y="18.9" font-size="4.70">I</text><text x="10.5" y="20.2" font-size="4.93">@</text><text x="15.4" y="19.5" font-size="5.15">U</text><text x="19.0" y="22.7" font-size="5.38">Q</text><text x="23.6" y="20.9" font-size="4.70">b</text><text x="3.0" y="22.8" font-size="4.26">I</text><text x="27.9" y="23.5" font-size="4.26">I</text><text x="3.4" y="26.4" font-size="4.48">g</text><text x="8.0" y="26.6" font-size="4.48">i</text><text x="10.0" y="28.5" font-size="4.03">r'</text><text x="21.5" y="27.8" font-size="4.48">u</text><text x="24.0" y="27.2" font-size="4.70">eI</text><text x="4.0" y="30.8" font-size="4.48">g</text><text x="11.9" y="30.8" font-size="4.48">oo</text><text x="17.0" y="34.0" font-size="4.93">C@</text><text x="25.0" y="36.3" font-size="5.15">I</text><text x="24.7" y="33.0" font-size="4.70">Ue</text><text x="8.3" y="37.0" font-size="4.70">e</text><text x="4.5" y="34.0" font-size="4.03">I</text><text x="13.0" y="24.5" font-size="4.03">v</text><text x="16.5" y="9.5" font-size="3.81">tS</text><text x="12.5" y="14.0" font-size="3.81">n</text><text x="18.0" y="18.0" font-size="3.81">aI</text><text x="22.5" y="18.0" font-size="3.81">d</text><text x="7.5" y="15.5" font-size="3.81">k</text><text x="9.0" y="22.5" font-size="3.81">s</text><text x="14.0" y="27.0" font-size="3.81">p</text><text x="17.5" y="30.0" font-size="3.81">m</text><text x="20.5" y="37.0" font-size="3.81">eI</text><text x="1.0" y="14.0" font-size="3.58">h</text><text x="26.5" y="12.5" font-size="3.81">j</text><text x="13.0" y="35.0" font-size="3.81">w</text></g>
<g transform="translate(560.20,141.80) scale(0.77)" fill="#7d2a80" stroke="#7d2a80" stroke-width="0.08" font-family="'Liberation Sans', Arial, sans-serif" opacity="0.72"><text x="0.5" y="4.4" font-size="4.48">a}k</text><text x="2.0" y="7.4" font-size="4.26">%e</text><text x="7.0" y="9.6" font-size="4.03">e</text><text x="10.8" y="6.2" font-size="4.48">I</text><text x="17.9" y="5.8" font-size="4.93">z</text><text x="22.9" y="3.7" font-size="4.26">el</text><text x="25.7" y="8.0" font-size="4.03">'</text><text x="14.0" y="12.2" font-size="5.15">Da</text><text x="21.5" y="10.2" font-size="4.26">3</text><text x="19.5" y="14.9" font-size="4.26">tS</text><text x="23.0" y="15.0" font-size="4.48">oz</text><text x="14.4" y="16.6" font-size="4.48">V</text><text x="5.9" y="18.9" font-size="4.70">I</text><text x="10.5" y="20.2" font-size="4.93">@</text><text x="15.4" y="19.5" font-size="5.15">U</text><text x="19.0" y="22.7" font-size="5.38">Q</text><text x="23.6" y="20.9" font-size="4.70">b</text><text x="3.0" y="22.8" font-size="4.26">I</text><text x="27.9" y="23.5" font-size="4.26">I</text><text x="3.4" y="26.4" font-size="4.48">g</text><text x="8.0" y="26.6" font-size="4.48">i</text><text x="10.0" y="28.5" font-size="4.03">r'</text><text x="21.5" y="27.8" font-size="4.48">u</text><text x="24.0" y="27.2" font-size="4.70">eI</text><text x="4.0" y="30.8" font-size="4.48">g</text><text x="11.9" y="30.8" font-size="4.48">oo</text><text x="17.0" y="34.0" font-size="4.93">C@</text><text x="25.0" y="36.3" font-size="5.15">I</text><text x="24.7" y="33.0" font-size="4.70">Ue</text><text x="8.3" y="37.0" font-size="4.70">e</text><text x="4.5" y="34.0" font-size="4.03">I</text><text x="13.0" y="24.5" font-size="4.03">v</text><text x="16.5" y="9.5" font-size="3.81">tS</text><text x="12.5" y="14.0" font-size="3.81">n</text><text x="18.0" y="18.0" font-size="3.81">aI</text><text x="22.5" y="18.0" font-size="3.81">d</text><text x="7.5" y="15.5" font-size="3.81">k</text><text x="9.0" y="22.5" font-size="3.81">s</text><text x="14.0" y="27.0" font-size="3.81">p</text><text x="17.5" y="30.0" font-size="3.81">m</text><text x="20.5" y="37.0" font-size="3.81">eI</text><text x="1.0" y="14.0" font-size="3.58">h</text><text x="26.5" y="12.5" font-size="3.81">j</text><text x="13.0" y="35.0" font-size="3.81">w</text></g>
<g transform="translate(410.50,187.50) scale(0.77)" fill="#ee6d4d" stroke="#ee6d4d" stroke-width="0.08" font-family="'Liberation Sans', Arial, sans-serif" opacity="0.72"><text x="0.5" y="4.4" font-size="4.48">a}k</text><text x="2.0" y="7.4" font-size="4.26">%e</text><text x="7.0" y="9.6" font-size="4.03">e</text><text x="10.8" y="6.2" font-size="4.48">I</text><text x="17.9" y="5.8" font-size="4.93">z</text><text x="22.9" y="3.7" font-size="4.26">el</text><text x="25.7" y="8.0" font-size="4.03">'</text><text x="14.0" y="12.2" font-size="5.15">Da</text><text x="21.5" y="10.2" font-size="4.26">3</text><text x="19.5" y="14.9" font-size="4.26">tS</text><text x="23.0" y="15.0" font-size="4.48">oz</text><text x="14.4" y="16.6" font-size="4.48">V</text><text x="5.9" y="18.9" font-size="4.70">I</text><text x="10.5" y="20.2" font-size="4.93">@</text><text x="15.4" y="19.5" font-size="5.15">U</text><text x="19.0" y="22.7" font-size="5.38">Q</text><text x="23.6" y="20.9" font-size="4.70">b</text><text x="3.0" y="22.8" font-size="4.26">I</text><text x="27.9" y="23.5" font-size="4.26">I</text><text x="3.4" y="26.4" font-size="4.48">g</text><text x="8.0" y="26.6" font-size="4.48">i</text><text x="10.0" y="28.5" font-size="4.03">r'</text><text x="21.5" y="27.8" font-size="4.48">u</text><text x="24.0" y="27.2" font-size="4.70">eI</text><text x="4.0" y="30.8" font-size="4.48">g</text><text x="11.9" y="30.8" font-size="4.48">oo</text><text x="17.0" y="34.0" font-size="4.93">C@</text><text x="25.0" y="36.3" font-size="5.15">I</text><text x="24.7" y="33.0" font-size="4.70">Ue</text><text x="8.3" y="37.0" font-size="4.70">e</text><text x="4.5" y="34.0" font-size="4.03">I</text><text x="13.0" y="24.5" font-size="4.03">v</text><text x="16.5" y="9.5" font-size="3.81">tS</text><text x="12.5" y="14.0" font-size="3.81">n</text><text x="18.0" y="18.0" font-size="3.81">aI</text><text x="22.5" y="18.0" font-size="3.81">d</text><text x="7.5" y="15.5" font-size="3.81">k</text><text x="9.0" y="22.5" font-size="3.81">s</text><text x="14.0" y="27.0" font-size="3.81">p</text><text x="17.5" y="30.0" font-size="3.81">m</text><text x="20.5" y="37.0" font-size="3.81">eI</text><text x="1.0" y="14.0" font-size="3.58">h</text><text x="26.5" y="12.5" font-size="3.81">j</text><text x="13.0" y="35.0" font-size="3.81">w</text></g>
<g transform="translate(460.50,187.50) scale(0.77)" fill="#ee6d4d" stroke="#ee6d4d" stroke-width="0.08" font-family="'Liberation Sans', Arial, sans-serif" opacity="0.72"><text x="0.5" y="4.4" font-size="4.48">a}k</text><text x="2.0" y="7.4" font-size="4.26">%e</text><text x="7.0" y="9.6" font-size="4.03">e</text><text x="10.8" y="6.2" font-size="4.48">I</text><text x="17.9" y="5.8" font-size="4.93">z</text><text x="22.9" y="3.7" font-size="4.26">el</text><text x="25.7" y="8.0" font-size="4.03">'</text><text x="14.0" y="12.2" font-size="5.15">Da</text><text x="21.5" y="10.2" font-size="4.26">3</text><text x="19.5" y="14.9" font-size="4.26">tS</text><text x="23.0" y="15.0" font-size="4.48">oz</text><text x="14.4" y="16.6" font-size="4.48">V</text><text x="5.9" y="18.9" font-size="4.70">I</text><text x="10.5" y="20.2" font-size="4.93">@</text><text x="15.4" y="19.5" font-size="5.15">U</text><text x="19.0" y="22.7" font-size="5.38">Q</text><text x="23.6" y="20.9" font-size="4.70">b</text><text x="3.0" y="22.8" font-size="4.26">I</text><text x="27.9" y="23.5" font-size="4.26">I</text><text x="3.4" y="26.4" font-size="4.48">g</text><text x="8.0" y="26.6" font-size="4.48">i</text><text x="10.0" y="28.5" font-size="4.03">r'</text><text x="21.5" y="27.8" font-size="4.48">u</text><text x="24.0" y="27.2" font-size="4.70">eI</text><text x="4.0" y="30.8" font-size="4.48">g</text><text x="11.9" y="30.8" font-size="4.48">oo</text><text x="17.0" y="34.0" font-size="4.93">C@</text><text x="25.0" y="36.3" font-size="5.15">I</text><text x="24.7" y="33.0" font-size="4.70">Ue</text><text x="8.3" y="37.0" font-size="4.70">e</text><text x="4.5" y="34.0" font-size="4.03">I</text><text x="13.0" y="24.5" font-size="4.03">v</text><text x="16.5" y="9.5" font-size="3.81">tS</text><text x="12.5" y="14.0" font-size="3.81">n</text><text x="18.0" y="18.0" font-size="3.81">aI</text><text x="22.5" y="18.0" font-size="3.81">d</text><text x="7.5" y="15.5" font-size="3.81">k</text><text x="9.0" y="22.5" font-size="3.81">s</text><text x="14.0" y="27.0" font-size="3.81">p</text><text x="17.5" y="30.0" font-size="3.81">m</text><text x="20.5" y="37.0" font-size="3.81">eI</text><text x="1.0" y="14.0" font-size="3.58">h</text><text x="26.5" y="12.5" font-size="3.81">j</text><text x="13.0" y="35.0" font-size="3.81">w</text></g>
<g transform="translate(510.80,187.50) scale(0.77)" fill="#ee6d4d" stroke="#ee6d4d" stroke-width="0.08" font-family="'Liberation Sans', Arial, sans-serif" opacity="0.72"><text x="0.5" y="4.4" font-size="4.48">a}k</text><text x="2.0" y="7.4" font-size="4.26">%e</text><text x="7.0" y="9.6" font-size="4.03">e</text><text x="10.8" y="6.2" font-size="4.48">I</text><text x="17.9" y="5.8" font-size="4.93">z</text><text x="22.9" y="3.7" font-size="4.26">el</text><text x="25.7" y="8.0" font-size="4.03">'</text><text x="14.0" y="12.2" font-size="5.15">Da</text><text x="21.5" y="10.2" font-size="4.26">3</text><text x="19.5" y="14.9" font-size="4.26">tS</text><text x="23.0" y="15.0" font-size="4.48">oz</text><text x="14.4" y="16.6" font-size="4.48">V</text><text x="5.9" y="18.9" font-size="4.70">I</text><text x="10.5" y="20.2" font-size="4.93">@</text><text x="15.4" y="19.5" font-size="5.15">U</text><text x="19.0" y="22.7" font-size="5.38">Q</text><text x="23.6" y="20.9" font-size="4.70">b</text><text x="3.0" y="22.8" font-size="4.26">I</text><text x="27.9" y="23.5" font-size="4.26">I</text><text x="3.4" y="26.4" font-size="4.48">g</text><text x="8.0" y="26.6" font-size="4.48">i</text><text x="10.0" y="28.5" font-size="4.03">r'</text><text x="21.5" y="27.8" font-size="4.48">u</text><text x="24.0" y="27.2" font-size="4.70">eI</text><text x="4.0" y="30.8" font-size="4.48">g</text><text x="11.9" y="30.8" font-size="4.48">oo</text><text x="17.0" y="34.0" font-size="4.93">C@</text><text x="25.0" y="36.3" font-size="5.15">I</text><text x="24.7" y="33.0" font-size="4.70">Ue</text><text x="8.3" y="37.0" font-size="4.70">e</text><text x="4.5" y="34.0" font-size="4.03">I</text><text x="13.0" y="24.5" font-size="4.03">v</text><text x="16.5" y="9.5" font-size="3.81">tS</text><text x="12.5" y="14.0" font-size="3.81">n</text><text x="18.0" y="18.0" font-size="3.81">aI</text><text x="22.5" y="18.0" font-size="3.81">d</text><text x="7.5" y="15.5" font-size="3.81">k</text><text x="9.0" y="22.5" font-size="3.81">s</text><text x="14.0" y="27.0" font-size="3.81">p</text><text x="17.5" y="30.0" font-size="3.81">m</text><text x="20.5" y="37.0" font-size="3.81">eI</text><text x="1.0" y="14.0" font-size="3.58">h</text><text x="26.5" y="12.5" font-size="3.81">j</text><text x="13.0" y="35.0" font-size="3.81">w</text></g>
<g transform="translate(560.20,187.50) scale(0.77)" fill="#ee6d4d" stroke="#ee6d4d" stroke-width="0.08" font-family="'Liberation Sans', Arial, sans-serif" opacity="0.72"><text x="0.5" y="4.4" font-size="4.48">a}k</text><text x="2.0" y="7.4" font-size="4.26">%e</text><text x="7.0" y="9.6" font-size="4.03">e</text><text x="10.8" y="6.2" font-size="4.48">I</text><text x="17.9" y="5.8" font-size="4.93">z</text><text x="22.9" y="3.7" font-size="4.26">el</text><text x="25.7" y="8.0" font-size="4.03">'</text><text x="14.0" y="12.2" font-size="5.15">Da</text><text x="21.5" y="10.2" font-size="4.26">3</text><text x="19.5" y="14.9" font-size="4.26">tS</text><text x="23.0" y="15.0" font-size="4.48">oz</text><text x="14.4" y="16.6" font-size="4.48">V</text><text x="5.9" y="18.9" font-size="4.70">I</text><text x="10.5" y="20.2" font-size="4.93">@</text><text x="15.4" y="19.5" font-size="5.15">U</text><text x="19.0" y="22.7" font-size="5.38">Q</text><text x="23.6" y="20.9" font-size="4.70">b</text><text x="3.0" y="22.8" font-size="4.26">I</text><text x="27.9" y="23.5" font-size="4.26">I</text><text x="3.4" y="26.4" font-size="4.48">g</text><text x="8.0" y="26.6" font-size="4.48">i</text><text x="10.0" y="28.5" font-size="4.03">r'</text><text x="21.5" y="27.8" font-size="4.48">u</text><text x="24.0" y="27.2" font-size="4.70">eI</text><text x="4.0" y="30.8" font-size="4.48">g</text><text x="11.9" y="30.8" font-size="4.48">oo</text><text x="17.0" y="34.0" font-size="4.93">C@</text><text x="25.0" y="36.3" font-size="5.15">I</text><text x="24.7" y="33.0" font-size="4.70">Ue</text><text x="8.3" y="37.0" font-size="4.70">e</text><text x="4.5" y="34.0" font-size="4.03">I</text><text x="13.0" y="24.5" font-size="4.03">v</text><text x="16.5" y="9.5" font-size="3.81">tS</text><text x="12.5" y="14.0" font-size="3.81">n</text><text x="18.0" y="18.0" font-size="3.81">aI</text><text x="22.5" y="18.0" font-size="3.81">d</text><text x="7.5" y="15.5" font-size="3.81">k</text><text x="9.0" y="22.5" font-size="3.81">s</text><text x="14.0" y="27.0" font-size="3.81">p</text><text x="17.5" y="30.0" font-size="3.81">m</text><text x="20.5" y="37.0" font-size="3.81">eI</text><text x="1.0" y="14.0" font-size="3.58">h</text><text x="26.5" y="12.5" font-size="3.81">j</text><text x="13.0" y="35.0" font-size="3.81">w</text></g>
<text x="411.70" y="67.80" font-size="10.5" fill="#4ea55b" font-family="'Liberation Sans', Arial, sans-serif" textLength="19.30" lengthAdjust="spacingAndGlyphs">@ U</text>
<rect x="469.6" y="56.2" width="1.6" height="9.2" fill="#4ea55b"/>
<text x="519.00" y="61.80" font-size="11.5" fill="#4ea55b" font-family="'Liberation Sans', Arial, sans-serif">@</text>
<text x="571.00" y="61.00" font-size="7.5" fill="#4ea55b" font-family="'Liberation Sans', Arial, sans-serif" opacity="0.6">@</text>
<text x="413.00" y="113.00" font-size="9.6" fill="#7e1b2e" font-family="'Liberation Sans', Arial, sans-serif" textLength="18.40" lengthAdjust="spacingAndGlyphs">@ U</text>
<text x="463.00" y="113.00" font-size="9.6" fill="#7e1b2e" font-family="'Liberation Sans', Arial, sans-serif" textLength="18.40" lengthAdjust="spacingAndGlyphs">@ U</text>
<text x="513.30" y="113.00" font-size="9.6" fill="#7e1b2e" font-family="'Liberation Sans', Arial, sans-serif" textLength="18.40" lengthAdjust="spacingAndGlyphs">@ U</text>
<text x="562.70" y="113.00" font-size="9.6" fill="#7e1b2e" font-family="'Liberation Sans', Arial, sans-serif" textLength="18.40" lengthAdjust="spacingAndGlyphs">@ U</text>
<text x="410.80" y="161.40" font-size="13.0" fill="#7d2a80" font-family="'Liberation Sans', Arial, sans-serif" textLength="22.60" lengthAdjust="spacingAndGlyphs">@ U</text>
<text x="461.60" y="161.40" font-size="13.0" fill="#7d2a80" font-family="'Liberation Sans', Arial, sans-serif" textLength="21.80" lengthAdjust="spacingAndGlyphs">@ U</text>
<text x="521.50" y="153.00" font-size="8.0" fill="#7d2a80" font-family="'Liberation Sans', Arial, sans-serif">@</text>
<text x="564.80" y="160.00" font-size="9.0" fill="#7d2a80" font-family="'Liberation Sans', Arial, sans-serif" textLength="15.80" lengthAdjust="spacingAndGlyphs" opacity="0.8">@ U</text>
<text x="419.00" y="198.00" font-size="7.0" fill="#ee6d4d" font-family="'Liberation Sans', Arial, sans-serif" opacity="0.6">@</text>
<text x="463.50" y="205.70" font-size="12.5" fill="#ee6d4d" font-family="'Liberation Sans', Arial, sans-serif" textLength="17.10" lengthAdjust="spacingAndGlyphs">dU</text>
<text x="521.00" y="198.80" font-size="11.0" fill="#ee6d4d" font-family="'Liberation Sans', Arial, sans-serif">@</text>
<text x="513.50" y="205.70" font-size="10.0" fill="#ee6d4d" font-family="'Liberation Sans', Arial, sans-serif" textLength="15.60" lengthAdjust="spacingAndGlyphs">@U</text>
<text x="563.40" y="205.70" font-size="10.0" fill="#ee6d4d" font-family="'Liberation Sans', Arial, sans-serif" textLength="18.40" lengthAdjust="spacingAndGlyphs">@ U</text>
<text x="570.00" y="197.50" font-size="7.0" fill="#ee6d4d" font-family="'Liberation Sans', Arial, sans-serif">@</text>
<text x="594.10" y="76.00" font-size="12.9" fill="#4ea55b" font-family="'Liberation Sans', Arial, sans-serif" stroke="#4ea55b" stroke-width="0.36" textLength="54.10" lengthAdjust="spacingAndGlyphs">Prediction</text>
<text x="594.10" y="117.40" font-size="12.9" fill="#7e1b2e" font-family="'Liberation Sans', Arial, sans-serif" stroke="#7e1b2e" stroke-width="0.36" textLength="28.80" lengthAdjust="spacingAndGlyphs">Input</text>
<text x="594.10" y="159.10" font-size="12.9" fill="#7d2a80" font-family="'Liberation Sans', Arial, sans-serif" stroke="#7d2a80" stroke-width="0.36" textLength="92.10" lengthAdjust="spacingAndGlyphs">Sharpened Signal</text>
<text x="594.10" y="200.70" font-size="12.9" fill="#ee6d4d" font-family="'Liberation Sans', Arial, sans-serif" stroke="#ee6d4d" stroke-width="0.36" textLength="82.10" lengthAdjust="spacingAndGlyphs">Prediction Error</text>
<text x="388.10" y="250.20" font-size="18.8" fill="#231f20" font-family="'Liberation Sans', Arial, sans-serif" stroke="#231f20" stroke-width="0.53" textLength="14.10" lengthAdjust="spacingAndGlyphs">D</text>
<text x="480.10" y="246.50" font-size="13.8" fill="#231f20" font-family="'Liberation Sans', Arial, sans-serif" stroke="#231f20" stroke-width="0.39" textLength="143.00" lengthAdjust="spacingAndGlyphs">Model results (univariate)</text>
<text x="439.80" y="262.70" font-size="13.3" fill="#7d2a80" font-family="'Liberation Sans', Arial, sans-serif" stroke="#7d2a80" stroke-width="0.37" textLength="92.60" lengthAdjust="spacingAndGlyphs">Sharpened Signal</text>
<text x="584.40" y="262.30" font-size="13.3" fill="#ee6d4d" font-family="'Liberation Sans', Arial, sans-serif" stroke="#ee6d4d" stroke-width="0.37" textLength="82.70" lengthAdjust="spacingAndGlyphs">Prediction Error</text>
<text x="0" y="0" font-size="9.6" fill="#231f20" font-family="'Liberation Sans', Arial, sans-serif" text-anchor="middle" textLength="67" lengthAdjust="spacingAndGlyphs" transform="translate(408.2,322.2) rotate(-90)">Signal magnitude</text>
<text x="0" y="0" font-size="9.6" fill="#231f20" font-family="'Liberation Sans', Arial, sans-serif" text-anchor="middle" textLength="79" lengthAdjust="spacingAndGlyphs" transform="translate(418.6,322) rotate(-90)">(at divergence point)</text>
<line x1="445.4" y1="271.7" x2="445.4" y2="356.8" stroke="#000" stroke-width="0.8"/>
<line x1="445.4" y1="356.8" x2="523.1" y2="356.8" stroke="#000" stroke-width="0.8"/>
<line x1="445.4" y1="271.7" x2="447.0" y2="271.7" stroke="#000" stroke-width="0.8"/>
<text x="440.80" y="274.90" font-size="9.0" fill="#231f20" font-family="'Liberation Sans', Arial, sans-serif" stroke="#231f20" stroke-width="0.25" text-anchor="end">1</text>
<line x1="445.4" y1="314.3" x2="447.0" y2="314.3" stroke="#000" stroke-width="0.8"/>
<text x="440.80" y="317.50" font-size="9.0" fill="#231f20" font-family="'Liberation Sans', Arial, sans-serif" stroke="#231f20" stroke-width="0.25" text-anchor="end">0.5</text>
<line x1="445.4" y1="356.8" x2="447.0" y2="356.8" stroke="#000" stroke-width="0.8"/>
<text x="440.80" y="360.00" font-size="9.0" fill="#231f20" font-family="'Liberation Sans', Arial, sans-serif" stroke="#231f20" stroke-width="0.25" text-anchor="end">0</text>
<rect x="454.60" y="321.40" width="12.10" height="35.40" fill="#fff" stroke="#0000ff" stroke-width="2.1"/>
<rect x="470.30" y="298.90" width="12.00" height="57.90" fill="#fff" stroke="#000" stroke-width="2.1"/>
<rect x="486.10" y="300.20" width="11.90" height="56.60" fill="#fff" stroke="#0000ff" stroke-width="2.1"/>
<rect x="501.30" y="294.10" width="12.50" height="62.70" fill="#fff" stroke="#000" stroke-width="2.1"/>
<g fill="#0000ff"><rect x="458.4" y="297.1" width="1.4" height="1.4"/><rect x="461.4" y="297.0" width="1.4" height="1.4"/><rect x="460.4" y="297.3" width="1.4" height="1.4"/><rect x="456.0" y="297.5" width="1.4" height="1.4"/><rect x="455.8" y="299.9" width="1.4" height="1.4"/><rect x="456.1" y="299.5" width="1.4" height="1.4"/><rect x="459.4" y="300.4" width="1.4" height="1.4"/><rect x="456.6" y="299.7" width="1.4" height="1.4"/><rect x="461.2" y="303.0" width="1.4" height="1.4"/><rect x="460.8" y="302.4" width="1.4" height="1.4"/><rect x="464.4" y="302.0" width="1.4" height="1.4"/><rect x="463.3" y="302.2" width="1.4" height="1.4"/><rect x="456.8" y="304.5" width="1.4" height="1.4"/><rect x="458.3" y="305.4" width="1.4" height="1.4"/><rect x="457.1" y="305.1" width="1.4" height="1.4"/><rect x="461.3" y="304.8" width="1.4" height="1.4"/><rect x="460.5" y="307.0" width="1.4" height="1.4"/><rect x="456.0" y="307.1" width="1.4" height="1.4"/><rect x="461.7" y="307.4" width="1.4" height="1.4"/><rect x="458.4" y="307.6" width="1.4" height="1.4"/><rect x="459.6" y="309.8" width="1.4" height="1.4"/><rect x="462.7" y="310.2" width="1.4" height="1.4"/><rect x="457.7" y="310.1" width="1.4" height="1.4"/><rect x="460.3" y="310.5" width="1.4" height="1.4"/><rect x="462.1" y="312.2" width="1.4" height="1.4"/><rect x="464.4" y="312.0" width="1.4" height="1.4"/><rect x="459.3" y="312.8" width="1.4" height="1.4"/><rect x="456.9" y="312.5" width="1.4" height="1.4"/><rect x="455.9" y="315.2" width="1.4" height="1.4"/><rect x="462.5" y="315.1" width="1.4" height="1.4"/><rect x="463.5" y="314.8" width="1.4" height="1.4"/><rect x="461.8" y="315.1" width="1.4" height="1.4"/><rect x="460.8" y="328.9" width="1.4" height="1.4"/><rect x="463.1" y="329.5" width="1.4" height="1.4"/><rect x="459.8" y="329.2" width="1.4" height="1.4"/><rect x="456.1" y="329.2" width="1.4" height="1.4"/><rect x="461.4" y="332.1" width="1.4" height="1.4"/><rect x="463.0" y="331.2" width="1.4" height="1.4"/><rect x="459.0" y="331.7" width="1.4" height="1.4"/><rect x="455.7" y="331.5" width="1.4" height="1.4"/><rect x="457.0" y="333.5" width="1.4" height="1.4"/><rect x="456.0" y="334.3" width="1.4" height="1.4"/><rect x="456.7" y="333.7" width="1.4" height="1.4"/><rect x="459.1" y="334.4" width="1.4" height="1.4"/><rect x="456.2" y="336.9" width="1.4" height="1.4"/><rect x="460.5" y="337.5" width="1.4" height="1.4"/><rect x="463.0" y="337.4" width="1.4" height="1.4"/><rect x="458.0" y="336.9" width="1.4" height="1.4"/><rect x="458.8" y="344.5" width="1.4" height="1.4"/><rect x="464.2" y="343.6" width="1.4" height="1.4"/><rect x="457.1" y="343.7" width="1.4" height="1.4"/><rect x="457.6" y="344.0" width="1.4" height="1.4"/><rect x="460.9" y="347.7" width="1.4" height="1.4"/><rect x="455.5" y="347.9" width="1.4" height="1.4"/><rect x="458.9" y="348.1" width="1.4" height="1.4"/><rect x="464.2" y="348.2" width="1.4" height="1.4"/></g>
<rect x="456" y="318.5" width="9.5" height="5.0" fill="#0000ff"/>
<g fill="#0000ff"><rect x="459.1" y="317.2" width="1.45" height="1.45"/><rect x="465.6" y="317.2" width="1.45" height="1.45"/></g>
<g fill="#0000ff"><rect x="455.2" y="323.5" width="1.45" height="1.45"/><rect x="456.5" y="323.5" width="1.45" height="1.45"/><rect x="459.1" y="323.5" width="1.45" height="1.45"/><rect x="460.4" y="323.5" width="1.45" height="1.45"/><rect x="461.7" y="323.5" width="1.45" height="1.45"/><rect x="463.0" y="323.5" width="1.45" height="1.45"/><rect x="464.3" y="323.5" width="1.45" height="1.45"/><rect x="465.6" y="323.5" width="1.45" height="1.45"/></g>
<g fill="#000"><rect x="471.2" y="280.6" width="1.4" height="1.4"/><rect x="472.1" y="280.8" width="1.4" height="1.4"/><rect x="471.4" y="281.4" width="1.4" height="1.4"/><rect x="476.7" y="280.6" width="1.4" height="1.4"/><rect x="473.4" y="283.3" width="1.4" height="1.4"/><rect x="474.4" y="283.0" width="1.4" height="1.4"/><rect x="478.8" y="284.1" width="1.4" height="1.4"/><rect x="475.3" y="283.5" width="1.4" height="1.4"/><rect x="472.0" y="285.5" width="1.4" height="1.4"/><rect x="474.2" y="285.7" width="1.4" height="1.4"/><rect x="478.6" y="285.6" width="1.4" height="1.4"/><rect x="471.4" y="286.5" width="1.4" height="1.4"/><rect x="475.9" y="288.1" width="1.4" height="1.4"/><rect x="476.0" y="287.9" width="1.4" height="1.4"/><rect x="475.9" y="289.1" width="1.4" height="1.4"/><rect x="478.9" y="288.7" width="1.4" height="1.4"/><rect x="473.5" y="290.8" width="1.4" height="1.4"/><rect x="472.7" y="291.3" width="1.4" height="1.4"/><rect x="475.9" y="291.3" width="1.4" height="1.4"/><rect x="474.1" y="290.7" width="1.4" height="1.4"/><rect x="478.4" y="304.6" width="1.4" height="1.4"/><rect x="478.8" y="304.4" width="1.4" height="1.4"/><rect x="478.5" y="304.3" width="1.4" height="1.4"/><rect x="473.2" y="304.0" width="1.4" height="1.4"/><rect x="474.4" y="305.9" width="1.4" height="1.4"/><rect x="471.4" y="306.2" width="1.4" height="1.4"/><rect x="473.5" y="306.7" width="1.4" height="1.4"/><rect x="479.7" y="306.4" width="1.4" height="1.4"/><rect x="479.5" y="309.6" width="1.4" height="1.4"/><rect x="479.7" y="308.8" width="1.4" height="1.4"/><rect x="473.2" y="308.7" width="1.4" height="1.4"/><rect x="473.0" y="308.6" width="1.4" height="1.4"/><rect x="476.8" y="312.5" width="1.4" height="1.4"/><rect x="478.7" y="312.0" width="1.4" height="1.4"/><rect x="477.0" y="312.4" width="1.4" height="1.4"/><rect x="472.0" y="312.2" width="1.4" height="1.4"/><rect x="479.3" y="315.3" width="1.4" height="1.4"/><rect x="477.9" y="315.0" width="1.4" height="1.4"/><rect x="472.8" y="315.3" width="1.4" height="1.4"/><rect x="474.2" y="315.4" width="1.4" height="1.4"/><rect x="479.8" y="317.9" width="1.4" height="1.4"/><rect x="474.8" y="318.5" width="1.4" height="1.4"/><rect x="477.7" y="317.6" width="1.4" height="1.4"/><rect x="472.3" y="317.6" width="1.4" height="1.4"/><rect x="479.3" y="321.9" width="1.4" height="1.4"/><rect x="472.5" y="321.9" width="1.4" height="1.4"/><rect x="479.9" y="321.7" width="1.4" height="1.4"/><rect x="474.3" y="321.6" width="1.4" height="1.4"/></g>
<rect x="471.5" y="294.5" width="9.5" height="7.0" fill="#000"/>
<g fill="#000"><rect x="470.7" y="293.2" width="1.45" height="1.45"/><rect x="472.0" y="293.2" width="1.45" height="1.45"/><rect x="478.5" y="293.2" width="1.45" height="1.45"/></g>
<g fill="#000"><rect x="470.7" y="301.5" width="1.45" height="1.45"/><rect x="472.0" y="301.5" width="1.45" height="1.45"/><rect x="473.3" y="301.5" width="1.45" height="1.45"/><rect x="474.6" y="301.5" width="1.45" height="1.45"/><rect x="477.2" y="301.5" width="1.45" height="1.45"/><rect x="478.5" y="301.5" width="1.45" height="1.45"/><rect x="479.8" y="301.5" width="1.45" height="1.45"/></g>
<g fill="#0000ff"><rect x="490.0" y="275.9" width="1.4" height="1.4"/><rect x="492.0" y="276.5" width="1.4" height="1.4"/><rect x="490.6" y="276.5" width="1.4" height="1.4"/><rect x="491.3" y="276.0" width="1.4" height="1.4"/><rect x="491.5" y="284.4" width="1.4" height="1.4"/><rect x="490.8" y="284.6" width="1.4" height="1.4"/><rect x="487.0" y="285.4" width="1.4" height="1.4"/><rect x="488.5" y="285.0" width="1.4" height="1.4"/><rect x="493.2" y="287.6" width="1.4" height="1.4"/><rect x="489.8" y="287.5" width="1.4" height="1.4"/><rect x="491.8" y="287.8" width="1.4" height="1.4"/><rect x="487.9" y="287.6" width="1.4" height="1.4"/><rect x="489.1" y="289.7" width="1.4" height="1.4"/><rect x="493.6" y="290.0" width="1.4" height="1.4"/><rect x="491.8" y="290.3" width="1.4" height="1.4"/><rect x="494.8" y="289.9" width="1.4" height="1.4"/><rect x="492.3" y="292.5" width="1.4" height="1.4"/><rect x="491.4" y="292.7" width="1.4" height="1.4"/><rect x="490.9" y="292.5" width="1.4" height="1.4"/><rect x="491.1" y="293.0" width="1.4" height="1.4"/><rect x="493.0" y="308.5" width="1.4" height="1.4"/><rect x="495.1" y="307.7" width="1.4" height="1.4"/><rect x="491.8" y="308.5" width="1.4" height="1.4"/><rect x="494.2" y="307.6" width="1.4" height="1.4"/><rect x="488.0" y="310.9" width="1.4" height="1.4"/><rect x="487.6" y="310.7" width="1.4" height="1.4"/><rect x="487.6" y="311.2" width="1.4" height="1.4"/><rect x="493.7" y="311.5" width="1.4" height="1.4"/><rect x="488.3" y="314.3" width="1.4" height="1.4"/><rect x="492.7" y="313.6" width="1.4" height="1.4"/><rect x="494.6" y="314.6" width="1.4" height="1.4"/><rect x="488.9" y="314.5" width="1.4" height="1.4"/><rect x="490.4" y="317.0" width="1.4" height="1.4"/><rect x="495.5" y="317.4" width="1.4" height="1.4"/><rect x="488.4" y="316.9" width="1.4" height="1.4"/><rect x="491.4" y="316.8" width="1.4" height="1.4"/><rect x="488.7" y="320.8" width="1.4" height="1.4"/><rect x="493.2" y="320.4" width="1.4" height="1.4"/><rect x="491.8" y="320.9" width="1.4" height="1.4"/><rect x="487.2" y="320.8" width="1.4" height="1.4"/><rect x="492.4" y="327.5" width="1.4" height="1.4"/><rect x="487.6" y="328.1" width="1.4" height="1.4"/><rect x="493.8" y="328.1" width="1.4" height="1.4"/><rect x="487.9" y="327.2" width="1.4" height="1.4"/></g>
<rect x="487.5" y="297.5" width="9.0" height="8.0" fill="#0000ff"/>
<g fill="#0000ff"><rect x="486.7" y="296.2" width="1.45" height="1.45"/><rect x="489.3" y="296.2" width="1.45" height="1.45"/><rect x="490.6" y="296.2" width="1.45" height="1.45"/><rect x="491.9" y="296.2" width="1.45" height="1.45"/><rect x="495.8" y="296.2" width="1.45" height="1.45"/><rect x="497.1" y="296.2" width="1.45" height="1.45"/></g>
<g fill="#0000ff"><rect x="490.6" y="305.5" width="1.45" height="1.45"/><rect x="491.9" y="305.5" width="1.45" height="1.45"/><rect x="494.5" y="305.5" width="1.45" height="1.45"/><rect x="495.8" y="305.5" width="1.45" height="1.45"/></g>
<g fill="#000"><rect x="508.2" y="272.9" width="1.4" height="1.4"/><rect x="503.0" y="272.9" width="1.4" height="1.4"/><rect x="502.8" y="272.9" width="1.4" height="1.4"/><rect x="506.5" y="272.3" width="1.4" height="1.4"/><rect x="507.4" y="275.5" width="1.4" height="1.4"/><rect x="504.7" y="274.6" width="1.4" height="1.4"/><rect x="507.2" y="274.7" width="1.4" height="1.4"/><rect x="503.2" y="274.6" width="1.4" height="1.4"/><rect x="502.7" y="277.1" width="1.4" height="1.4"/><rect x="505.1" y="277.3" width="1.4" height="1.4"/><rect x="509.3" y="277.2" width="1.4" height="1.4"/><rect x="506.9" y="277.1" width="1.4" height="1.4"/><rect x="505.5" y="279.4" width="1.4" height="1.4"/><rect x="504.6" y="279.4" width="1.4" height="1.4"/><rect x="509.1" y="280.1" width="1.4" height="1.4"/><rect x="504.0" y="280.0" width="1.4" height="1.4"/><rect x="511.0" y="282.0" width="1.4" height="1.4"/><rect x="509.9" y="282.4" width="1.4" height="1.4"/><rect x="506.9" y="282.9" width="1.4" height="1.4"/><rect x="505.9" y="282.5" width="1.4" height="1.4"/><rect x="508.7" y="285.6" width="1.4" height="1.4"/><rect x="505.4" y="285.4" width="1.4" height="1.4"/><rect x="508.8" y="285.2" width="1.4" height="1.4"/><rect x="506.0" y="284.8" width="1.4" height="1.4"/><rect x="502.7" y="287.1" width="1.4" height="1.4"/><rect x="502.9" y="287.8" width="1.4" height="1.4"/><rect x="504.6" y="287.1" width="1.4" height="1.4"/><rect x="503.0" y="287.9" width="1.4" height="1.4"/><rect x="510.4" y="303.2" width="1.4" height="1.4"/><rect x="504.9" y="302.7" width="1.4" height="1.4"/><rect x="505.0" y="303.0" width="1.4" height="1.4"/><rect x="503.7" y="302.9" width="1.4" height="1.4"/><rect x="504.7" y="306.6" width="1.4" height="1.4"/><rect x="511.3" y="306.1" width="1.4" height="1.4"/><rect x="504.5" y="306.6" width="1.4" height="1.4"/><rect x="505.1" y="305.8" width="1.4" height="1.4"/><rect x="502.2" y="308.9" width="1.4" height="1.4"/><rect x="506.7" y="309.0" width="1.4" height="1.4"/><rect x="504.1" y="309.0" width="1.4" height="1.4"/><rect x="502.2" y="308.7" width="1.4" height="1.4"/><rect x="503.0" y="311.9" width="1.4" height="1.4"/><rect x="502.6" y="311.4" width="1.4" height="1.4"/><rect x="505.1" y="311.7" width="1.4" height="1.4"/><rect x="507.7" y="312.0" width="1.4" height="1.4"/><rect x="509.3" y="316.2" width="1.4" height="1.4"/><rect x="508.9" y="316.5" width="1.4" height="1.4"/><rect x="505.9" y="315.8" width="1.4" height="1.4"/><rect x="511.5" y="315.6" width="1.4" height="1.4"/><rect x="509.0" y="328.2" width="1.4" height="1.4"/><rect x="502.6" y="328.4" width="1.4" height="1.4"/><rect x="510.6" y="328.2" width="1.4" height="1.4"/><rect x="509.1" y="328.4" width="1.4" height="1.4"/></g>
<rect x="502.5" y="290.5" width="10.0" height="9.0" fill="#000"/>
<g fill="#000"><rect x="501.7" y="289.2" width="1.45" height="1.45"/></g>
<g fill="#000"><rect x="503.0" y="299.5" width="1.45" height="1.45"/><rect x="504.3" y="299.5" width="1.45" height="1.45"/><rect x="505.6" y="299.5" width="1.45" height="1.45"/><rect x="506.9" y="299.5" width="1.45" height="1.45"/><rect x="508.2" y="299.5" width="1.45" height="1.45"/></g>
<text x="0" y="0" font-size="9.3" fill="#231f20" stroke="#231f20" stroke-width="0.2" font-family="'Liberation Sans', Arial, sans-serif" text-anchor="end" transform="translate(465.40,367.80) rotate(-45)">Strong+M</text>
<text x="0" y="0" font-size="9.3" fill="#231f20" stroke="#231f20" stroke-width="0.2" font-family="'Liberation Sans', Arial, sans-serif" text-anchor="end" transform="translate(481.10,367.80) rotate(-45)">Weak+M</text>
<text x="0" y="0" font-size="9.3" fill="#231f20" stroke="#231f20" stroke-width="0.2" font-family="'Liberation Sans', Arial, sans-serif" text-anchor="end" transform="translate(496.80,367.80) rotate(-45)">Strong+MM</text>
<text x="0" y="0" font-size="9.3" fill="#231f20" stroke="#231f20" stroke-width="0.2" font-family="'Liberation Sans', Arial, sans-serif" text-anchor="end" transform="translate(512.30,367.80) rotate(-45)">Weak+MM</text>
<line x1="587.7" y1="272.2" x2="587.7" y2="356.8" stroke="#000" stroke-width="0.8"/>
<line x1="587.7" y1="356.8" x2="666.0" y2="356.8" stroke="#000" stroke-width="0.8"/>
<line x1="587.7" y1="272.2" x2="589.3000000000001" y2="272.2" stroke="#000" stroke-width="0.8"/>
<text x="583.10" y="275.40" font-size="9.0" fill="#231f20" font-family="'Liberation Sans', Arial, sans-serif" stroke="#231f20" stroke-width="0.25" text-anchor="end">2</text>
<line x1="587.7" y1="314.5" x2="589.3000000000001" y2="314.5" stroke="#000" stroke-width="0.8"/>
<text x="583.10" y="317.70" font-size="9.0" fill="#231f20" font-family="'Liberation Sans', Arial, sans-serif" stroke="#231f20" stroke-width="0.25" text-anchor="end">1</text>
<line x1="587.7" y1="356.8" x2="589.3000000000001" y2="356.8" stroke="#000" stroke-width="0.8"/>
<text x="583.10" y="360.00" font-size="9.0" fill="#231f20" font-family="'Liberation Sans', Arial, sans-serif" stroke="#231f20" stroke-width="0.25" text-anchor="end">0</text>
<rect x="597.50" y="333.40" width="11.60" height="23.40" fill="#fff" stroke="#0000ff" stroke-width="2.1"/>
<rect x="613.10" y="297.80" width="11.80" height="59.00" fill="#fff" stroke="#000" stroke-width="2.1"/>
<rect x="628.50" y="282.90" width="11.90" height="73.90" fill="#fff" stroke="#0000ff" stroke-width="2.1"/>
<rect x="644.40" y="292.50" width="11.60" height="64.30" fill="#fff" stroke="#000" stroke-width="2.1"/>
<g fill="#0000ff"><rect x="603.6" y="290.7" width="1.4" height="1.4"/><rect x="602.5" y="289.9" width="1.4" height="1.4"/><rect x="605.0" y="290.8" width="1.4" height="1.4"/><rect x="602.6" y="293.5" width="1.4" height="1.4"/><rect x="603.8" y="293.0" width="1.4" height="1.4"/><rect x="604.5" y="293.2" width="1.4" height="1.4"/><rect x="599.1" y="305.2" width="1.4" height="1.4"/><rect x="604.4" y="305.1" width="1.4" height="1.4"/><rect x="604.5" y="306.1" width="1.4" height="1.4"/><rect x="602.5" y="307.9" width="1.4" height="1.4"/><rect x="602.4" y="308.2" width="1.4" height="1.4"/><rect x="604.7" y="308.1" width="1.4" height="1.4"/><rect x="603.7" y="310.5" width="1.4" height="1.4"/><rect x="599.7" y="310.7" width="1.4" height="1.4"/><rect x="604.5" y="310.8" width="1.4" height="1.4"/><rect x="603.1" y="317.9" width="1.4" height="1.4"/><rect x="599.0" y="318.2" width="1.4" height="1.4"/><rect x="603.9" y="318.7" width="1.4" height="1.4"/><rect x="604.0" y="320.7" width="1.4" height="1.4"/><rect x="602.7" y="321.0" width="1.4" height="1.4"/><rect x="602.3" y="320.5" width="1.4" height="1.4"/><rect x="605.7" y="323.6" width="1.4" height="1.4"/><rect x="606.4" y="324.5" width="1.4" height="1.4"/><rect x="598.6" y="324.0" width="1.4" height="1.4"/><rect x="605.1" y="346.1" width="1.4" height="1.4"/><rect x="602.1" y="345.2" width="1.4" height="1.4"/><rect x="600.2" y="346.0" width="1.4" height="1.4"/><rect x="600.2" y="348.6" width="1.4" height="1.4"/><rect x="599.6" y="348.5" width="1.4" height="1.4"/><rect x="606.2" y="348.1" width="1.4" height="1.4"/><rect x="605.1" y="351.0" width="1.4" height="1.4"/><rect x="605.7" y="351.2" width="1.4" height="1.4"/><rect x="600.4" y="351.5" width="1.4" height="1.4"/><rect x="602.4" y="352.9" width="1.4" height="1.4"/><rect x="598.5" y="353.5" width="1.4" height="1.4"/><rect x="602.2" y="353.3" width="1.4" height="1.4"/></g>
<g fill="#000"><rect x="615.2" y="272.3" width="1.4" height="1.4"/><rect x="616.8" y="272.9" width="1.4" height="1.4"/><rect x="614.0" y="272.8" width="1.4" height="1.4"/><rect x="621.4" y="272.0" width="1.4" height="1.4"/><rect x="622.2" y="275.3" width="1.4" height="1.4"/><rect x="621.9" y="274.7" width="1.4" height="1.4"/><rect x="617.3" y="274.9" width="1.4" height="1.4"/><rect x="622.8" y="275.1" width="1.4" height="1.4"/><rect x="617.2" y="277.4" width="1.4" height="1.4"/><rect x="616.4" y="277.0" width="1.4" height="1.4"/><rect x="614.9" y="277.9" width="1.4" height="1.4"/><rect x="616.5" y="278.0" width="1.4" height="1.4"/><rect x="616.2" y="279.7" width="1.4" height="1.4"/><rect x="618.5" y="279.6" width="1.4" height="1.4"/><rect x="617.3" y="280.5" width="1.4" height="1.4"/><rect x="621.8" y="280.4" width="1.4" height="1.4"/><rect x="619.6" y="283.0" width="1.4" height="1.4"/><rect x="622.3" y="282.6" width="1.4" height="1.4"/><rect x="620.3" y="282.0" width="1.4" height="1.4"/><rect x="620.4" y="282.4" width="1.4" height="1.4"/><rect x="620.6" y="285.2" width="1.4" height="1.4"/><rect x="616.5" y="284.5" width="1.4" height="1.4"/><rect x="622.2" y="284.6" width="1.4" height="1.4"/><rect x="618.2" y="284.8" width="1.4" height="1.4"/><rect x="616.6" y="287.8" width="1.4" height="1.4"/><rect x="622.6" y="287.2" width="1.4" height="1.4"/><rect x="619.8" y="287.3" width="1.4" height="1.4"/><rect x="618.9" y="287.4" width="1.4" height="1.4"/><rect x="615.5" y="289.6" width="1.4" height="1.4"/><rect x="615.8" y="290.5" width="1.4" height="1.4"/><rect x="618.4" y="289.7" width="1.4" height="1.4"/><rect x="622.0" y="290.6" width="1.4" height="1.4"/><rect x="618.0" y="301.6" width="1.4" height="1.4"/><rect x="615.7" y="301.5" width="1.4" height="1.4"/><rect x="617.0" y="301.5" width="1.4" height="1.4"/><rect x="616.1" y="301.7" width="1.4" height="1.4"/><rect x="619.0" y="307.5" width="1.4" height="1.4"/><rect x="620.6" y="306.9" width="1.4" height="1.4"/><rect x="617.6" y="307.0" width="1.4" height="1.4"/><rect x="617.3" y="306.8" width="1.4" height="1.4"/><rect x="614.5" y="319.7" width="1.4" height="1.4"/><rect x="622.5" y="319.6" width="1.4" height="1.4"/><rect x="618.4" y="320.2" width="1.4" height="1.4"/><rect x="621.6" y="319.7" width="1.4" height="1.4"/><rect x="616.4" y="324.7" width="1.4" height="1.4"/><rect x="617.5" y="324.9" width="1.4" height="1.4"/><rect x="622.4" y="325.4" width="1.4" height="1.4"/><rect x="621.7" y="324.4" width="1.4" height="1.4"/><rect x="614.3" y="333.3" width="1.4" height="1.4"/><rect x="621.9" y="333.0" width="1.4" height="1.4"/><rect x="619.2" y="332.4" width="1.4" height="1.4"/><rect x="617.4" y="333.5" width="1.4" height="1.4"/><rect x="621.3" y="338.4" width="1.4" height="1.4"/><rect x="622.6" y="337.7" width="1.4" height="1.4"/><rect x="615.0" y="337.6" width="1.4" height="1.4"/><rect x="618.6" y="338.2" width="1.4" height="1.4"/></g>
<g fill="#0000ff"><rect x="637.8" y="272.8" width="1.4" height="1.4"/><rect x="635.1" y="272.8" width="1.4" height="1.4"/><rect x="633.4" y="272.6" width="1.4" height="1.4"/><rect x="629.7" y="272.8" width="1.4" height="1.4"/><rect x="631.4" y="273.0" width="1.4" height="1.4"/><rect x="635.1" y="274.3" width="1.4" height="1.4"/><rect x="630.5" y="274.2" width="1.4" height="1.4"/><rect x="635.0" y="274.7" width="1.4" height="1.4"/><rect x="630.3" y="274.0" width="1.4" height="1.4"/><rect x="634.0" y="274.6" width="1.4" height="1.4"/><rect x="632.8" y="276.2" width="1.4" height="1.4"/><rect x="634.7" y="275.9" width="1.4" height="1.4"/><rect x="632.0" y="276.5" width="1.4" height="1.4"/><rect x="637.9" y="276.7" width="1.4" height="1.4"/><rect x="637.3" y="276.5" width="1.4" height="1.4"/><rect x="631.4" y="286.7" width="1.4" height="1.4"/><rect x="637.9" y="287.2" width="1.4" height="1.4"/><rect x="632.1" y="286.4" width="1.4" height="1.4"/><rect x="633.8" y="287.2" width="1.4" height="1.4"/><rect x="633.1" y="286.7" width="1.4" height="1.4"/><rect x="635.3" y="290.0" width="1.4" height="1.4"/><rect x="631.3" y="288.9" width="1.4" height="1.4"/><rect x="632.3" y="289.4" width="1.4" height="1.4"/><rect x="635.4" y="289.1" width="1.4" height="1.4"/><rect x="636.5" y="289.8" width="1.4" height="1.4"/><rect x="633.8" y="291.6" width="1.4" height="1.4"/><rect x="638.0" y="291.8" width="1.4" height="1.4"/><rect x="636.7" y="291.7" width="1.4" height="1.4"/><rect x="631.3" y="292.3" width="1.4" height="1.4"/><rect x="632.0" y="292.5" width="1.4" height="1.4"/><rect x="633.8" y="294.6" width="1.4" height="1.4"/><rect x="631.3" y="294.9" width="1.4" height="1.4"/><rect x="635.3" y="295.5" width="1.4" height="1.4"/><rect x="630.6" y="294.9" width="1.4" height="1.4"/><rect x="631.2" y="295.6" width="1.4" height="1.4"/><rect x="630.6" y="305.5" width="1.4" height="1.4"/><rect x="629.8" y="305.9" width="1.4" height="1.4"/><rect x="637.4" y="306.5" width="1.4" height="1.4"/><rect x="635.9" y="306.6" width="1.4" height="1.4"/><rect x="637.7" y="305.8" width="1.4" height="1.4"/><rect x="631.0" y="312.5" width="1.4" height="1.4"/><rect x="636.0" y="311.4" width="1.4" height="1.4"/><rect x="635.3" y="311.9" width="1.4" height="1.4"/><rect x="632.7" y="311.8" width="1.4" height="1.4"/><rect x="630.8" y="311.4" width="1.4" height="1.4"/><rect x="631.8" y="346.8" width="1.4" height="1.4"/><rect x="637.9" y="346.5" width="1.4" height="1.4"/><rect x="638.0" y="346.6" width="1.4" height="1.4"/><rect x="632.5" y="347.4" width="1.4" height="1.4"/><rect x="636.7" y="346.9" width="1.4" height="1.4"/></g>
<g fill="#000"><rect x="645.7" y="273.0" width="1.4" height="1.4"/><rect x="648.5" y="273.5" width="1.4" height="1.4"/><rect x="647.0" y="272.8" width="1.4" height="1.4"/><rect x="653.0" y="272.4" width="1.4" height="1.4"/><rect x="648.8" y="275.9" width="1.4" height="1.4"/><rect x="651.9" y="274.9" width="1.4" height="1.4"/><rect x="645.6" y="275.0" width="1.4" height="1.4"/><rect x="653.2" y="275.2" width="1.4" height="1.4"/><rect x="651.7" y="278.5" width="1.4" height="1.4"/><rect x="648.2" y="277.7" width="1.4" height="1.4"/><rect x="653.5" y="278.1" width="1.4" height="1.4"/><rect x="647.6" y="278.3" width="1.4" height="1.4"/><rect x="648.0" y="280.2" width="1.4" height="1.4"/><rect x="645.3" y="280.8" width="1.4" height="1.4"/><rect x="653.2" y="280.7" width="1.4" height="1.4"/><rect x="653.4" y="279.9" width="1.4" height="1.4"/><rect x="647.3" y="283.0" width="1.4" height="1.4"/><rect x="653.5" y="283.5" width="1.4" height="1.4"/><rect x="648.6" y="282.7" width="1.4" height="1.4"/><rect x="649.0" y="283.0" width="1.4" height="1.4"/><rect x="653.3" y="285.1" width="1.4" height="1.4"/><rect x="652.2" y="285.8" width="1.4" height="1.4"/><rect x="652.4" y="285.8" width="1.4" height="1.4"/><rect x="650.5" y="285.3" width="1.4" height="1.4"/><rect x="648.0" y="302.8" width="1.4" height="1.4"/><rect x="652.0" y="302.5" width="1.4" height="1.4"/><rect x="647.0" y="303.3" width="1.4" height="1.4"/><rect x="647.4" y="302.5" width="1.4" height="1.4"/><rect x="645.6" y="312.1" width="1.4" height="1.4"/><rect x="648.1" y="312.6" width="1.4" height="1.4"/><rect x="652.9" y="312.6" width="1.4" height="1.4"/><rect x="647.6" y="311.5" width="1.4" height="1.4"/><rect x="646.1" y="320.0" width="1.4" height="1.4"/><rect x="651.4" y="319.9" width="1.4" height="1.4"/><rect x="647.3" y="319.9" width="1.4" height="1.4"/><rect x="650.6" y="320.2" width="1.4" height="1.4"/><rect x="651.7" y="330.4" width="1.4" height="1.4"/><rect x="651.0" y="329.5" width="1.4" height="1.4"/><rect x="652.5" y="329.8" width="1.4" height="1.4"/><rect x="650.2" y="329.8" width="1.4" height="1.4"/><rect x="651.6" y="336.6" width="1.4" height="1.4"/><rect x="647.4" y="336.7" width="1.4" height="1.4"/><rect x="646.6" y="337.5" width="1.4" height="1.4"/><rect x="650.3" y="336.8" width="1.4" height="1.4"/><rect x="648.7" y="353.6" width="1.4" height="1.4"/><rect x="649.7" y="352.7" width="1.4" height="1.4"/><rect x="652.3" y="353.2" width="1.4" height="1.4"/><rect x="653.8" y="352.5" width="1.4" height="1.4"/></g>
<g stroke="#000" stroke-width="2"><line x1="619" y1="293" x2="619" y2="299.5"/><line x1="614.5" y1="293" x2="623.5" y2="293"/><line x1="614.5" y1="299.5" x2="623.5" y2="299.5"/></g>
<g stroke="#0000ff" stroke-width="2"><line x1="634.5" y1="279.4" x2="634.5" y2="284.5"/><line x1="630.0" y1="279.4" x2="639.0" y2="279.4"/><line x1="630.0" y1="284.5" x2="639.0" y2="284.5"/></g>
<g stroke="#000" stroke-width="2"><line x1="650.2" y1="287.5" x2="650.2" y2="294.7"/><line x1="645.7" y1="287.5" x2="654.7" y2="287.5"/><line x1="645.7" y1="294.7" x2="654.7" y2="294.7"/></g>
<g stroke="#0000ff" stroke-width="2"><line x1="603.3" y1="329.5" x2="603.3" y2="334.5"/><line x1="598.8" y1="329.5" x2="607.8" y2="329.5"/><line x1="598.8" y1="334.5" x2="607.8" y2="334.5"/></g>
<text x="0" y="0" font-size="9.3" fill="#231f20" stroke="#231f20" stroke-width="0.2" font-family="'Liberation Sans', Arial, sans-serif" text-anchor="end" transform="translate(608.10,367.80) rotate(-45)">Strong+M</text>
<text x="0" y="0" font-size="9.3" fill="#231f20" stroke="#231f20" stroke-width="0.2" font-family="'Liberation Sans', Arial, sans-serif" text-anchor="end" transform="translate(623.80,367.80) rotate(-45)">Weak+M</text>
<text x="0" y="0" font-size="9.3" fill="#231f20" stroke="#231f20" stroke-width="0.2" font-family="'Liberation Sans', Arial, sans-serif" text-anchor="end" transform="translate(639.30,367.80) rotate(-45)">Strong+MM</text>
<text x="0" y="0" font-size="9.3" fill="#231f20" stroke="#231f20" stroke-width="0.2" font-family="'Liberation Sans', Arial, sans-serif" text-anchor="end" transform="translate(655.00,367.80) rotate(-45)">Weak+MM</text>
<text x="388.10" y="429.10" font-size="18.8" fill="#231f20" font-family="'Liberation Sans', Arial, sans-serif" stroke="#231f20" stroke-width="0.53" textLength="10.60" lengthAdjust="spacingAndGlyphs">E</text>
<text x="474.10" y="435.60" font-size="13.8" fill="#231f20" font-family="'Liberation Sans', Arial, sans-serif" stroke="#231f20" stroke-width="0.39" textLength="155.20" lengthAdjust="spacingAndGlyphs">Model results (multivariate)</text>
<text x="439.80" y="451.60" font-size="13.3" fill="#7d2a80" font-family="'Liberation Sans', Arial, sans-serif" stroke="#7d2a80" stroke-width="0.37" textLength="92.60" lengthAdjust="spacingAndGlyphs">Sharpened Signal</text>
<text x="584.30" y="451.20" font-size="13.3" fill="#ee6d4d" font-family="'Liberation Sans', Arial, sans-serif" stroke="#ee6d4d" stroke-width="0.37" textLength="82.40" lengthAdjust="spacingAndGlyphs">Prediction Error</text>
<text x="0" y="0" font-size="9.6" fill="#231f20" font-family="'Liberation Sans', Arial, sans-serif" text-anchor="middle" textLength="61" lengthAdjust="spacingAndGlyphs" transform="translate(407.5,514.8) rotate(-90)">Pattern distance</text>
<text x="0" y="0" font-size="9.6" fill="#231f20" font-family="'Liberation Sans', Arial, sans-serif" text-anchor="middle" textLength="78" lengthAdjust="spacingAndGlyphs" transform="translate(418.8,515.3) rotate(-90)">(at divergence point)</text>
<line x1="445.1" y1="460.1" x2="445.1" y2="544.4" stroke="#000" stroke-width="0.8"/>
<line x1="445.1" y1="544.4" x2="522.9" y2="544.4" stroke="#000" stroke-width="0.8"/>
<line x1="445.1" y1="460.1" x2="446.70000000000005" y2="460.1" stroke="#000" stroke-width="0.8"/>
<text x="440.50" y="463.30" font-size="9.0" fill="#231f20" font-family="'Liberation Sans', Arial, sans-serif" stroke="#231f20" stroke-width="0.25" text-anchor="end">1.5</text>
<line x1="445.1" y1="488.3" x2="446.70000000000005" y2="488.3" stroke="#000" stroke-width="0.8"/>
<text x="440.50" y="491.50" font-size="9.0" fill="#231f20" font-family="'Liberation Sans', Arial, sans-serif" stroke="#231f20" stroke-width="0.25" text-anchor="end">1</text>
<line x1="445.1" y1="516.4" x2="446.70000000000005" y2="516.4" stroke="#000" stroke-width="0.8"/>
<text x="440.50" y="519.60" font-size="9.0" fill="#231f20" font-family="'Liberation Sans', Arial, sans-serif" stroke="#231f20" stroke-width="0.25" text-anchor="end">0.5</text>
<line x1="445.1" y1="544.4" x2="446.70000000000005" y2="544.4" stroke="#000" stroke-width="0.8"/>
<text x="440.50" y="547.60" font-size="9.0" fill="#231f20" font-family="'Liberation Sans', Arial, sans-serif" stroke="#231f20" stroke-width="0.25" text-anchor="end">0</text>
<rect x="454.10" y="477.70" width="12.40" height="66.70" fill="#fff" stroke="#0000ff" stroke-width="2.1"/>
<rect x="470.10" y="480.40" width="12.00" height="64.00" fill="#fff" stroke="#000" stroke-width="2.1"/>
<rect x="485.70" y="491.00" width="11.30" height="53.40" fill="#fff" stroke="#0000ff" stroke-width="2.1"/>
<rect x="501.10" y="488.10" width="12.00" height="56.30" fill="#fff" stroke="#000" stroke-width="2.1"/>
<rect x="455.5" y="464.4" width="9.5" height="2.2" fill="#0000ff"/>
<rect x="454.5" y="476.0" width="12" height="3.0" fill="#0000ff"/>
<g fill="#000"><rect x="470.8" y="464.6" width="1.45" height="1.45"/><rect x="472.1" y="464.6" width="1.45" height="1.45"/><rect x="473.4" y="464.6" width="1.45" height="1.45"/><rect x="476.0" y="464.6" width="1.45" height="1.45"/><rect x="477.3" y="464.6" width="1.45" height="1.45"/><rect x="478.6" y="464.6" width="1.45" height="1.45"/><rect x="479.9" y="464.6" width="1.45" height="1.45"/><rect x="470.8" y="465.9" width="1.45" height="1.45"/><rect x="473.4" y="465.9" width="1.45" height="1.45"/><rect x="474.7" y="465.9" width="1.45" height="1.45"/><rect x="476.0" y="465.9" width="1.45" height="1.45"/><rect x="477.3" y="465.9" width="1.45" height="1.45"/><rect x="478.6" y="465.9" width="1.45" height="1.45"/><rect x="481.2" y="465.9" width="1.45" height="1.45"/><rect x="470.8" y="467.2" width="1.45" height="1.45"/><rect x="472.1" y="467.2" width="1.45" height="1.45"/><rect x="473.4" y="467.2" width="1.45" height="1.45"/><rect x="474.7" y="467.2" width="1.45" height="1.45"/><rect x="476.0" y="467.2" width="1.45" height="1.45"/><rect x="477.3" y="467.2" width="1.45" height="1.45"/><rect x="478.6" y="467.2" width="1.45" height="1.45"/><rect x="479.9" y="467.2" width="1.45" height="1.45"/><rect x="481.2" y="467.2" width="1.45" height="1.45"/><rect x="470.8" y="468.5" width="1.45" height="1.45"/><rect x="472.1" y="468.5" width="1.45" height="1.45"/><rect x="473.4" y="468.5" width="1.45" height="1.45"/><rect x="474.7" y="468.5" width="1.45" height="1.45"/><rect x="476.0" y="468.5" width="1.45" height="1.45"/><rect x="477.3" y="468.5" width="1.45" height="1.45"/><rect x="478.6" y="468.5" width="1.45" height="1.45"/><rect x="479.9" y="468.5" width="1.45" height="1.45"/><rect x="481.2" y="468.5" width="1.45" height="1.45"/><rect x="470.8" y="469.8" width="1.45" height="1.45"/><rect x="472.1" y="469.8" width="1.45" height="1.45"/><rect x="473.4" y="469.8" width="1.45" height="1.45"/><rect x="474.7" y="469.8" width="1.45" height="1.45"/><rect x="476.0" y="469.8" width="1.45" height="1.45"/><rect x="477.3" y="469.8" width="1.45" height="1.45"/><rect x="478.6" y="469.8" width="1.45" height="1.45"/><rect x="479.9" y="469.8" width="1.45" height="1.45"/><rect x="481.2" y="469.8" width="1.45" height="1.45"/><rect x="470.8" y="471.1" width="1.45" height="1.45"/><rect x="472.1" y="471.1" width="1.45" height="1.45"/><rect x="474.7" y="471.1" width="1.45" height="1.45"/><rect x="476.0" y="471.1" width="1.45" height="1.45"/><rect x="477.3" y="471.1" width="1.45" height="1.45"/><rect x="478.6" y="471.1" width="1.45" height="1.45"/><rect x="479.9" y="471.1" width="1.45" height="1.45"/><rect x="470.8" y="472.4" width="1.45" height="1.45"/><rect x="472.1" y="472.4" width="1.45" height="1.45"/><rect x="473.4" y="472.4" width="1.45" height="1.45"/><rect x="474.7" y="472.4" width="1.45" height="1.45"/><rect x="476.0" y="472.4" width="1.45" height="1.45"/><rect x="478.6" y="472.4" width="1.45" height="1.45"/><rect x="479.9" y="472.4" width="1.45" height="1.45"/><rect x="481.2" y="472.4" width="1.45" height="1.45"/><rect x="470.8" y="473.7" width="1.45" height="1.45"/><rect x="472.1" y="473.7" width="1.45" height="1.45"/><rect x="473.4" y="473.7" width="1.45" height="1.45"/><rect x="474.7" y="473.7" width="1.45" height="1.45"/><rect x="476.0" y="473.7" width="1.45" height="1.45"/><rect x="477.3" y="473.7" width="1.45" height="1.45"/><rect x="479.9" y="473.7" width="1.45" height="1.45"/><rect x="481.2" y="473.7" width="1.45" height="1.45"/><rect x="470.8" y="475.0" width="1.45" height="1.45"/><rect x="472.1" y="475.0" width="1.45" height="1.45"/><rect x="473.4" y="475.0" width="1.45" height="1.45"/><rect x="474.7" y="475.0" width="1.45" height="1.45"/><rect x="476.0" y="475.0" width="1.45" height="1.45"/><rect x="478.6" y="475.0" width="1.45" height="1.45"/><rect x="479.9" y="475.0" width="1.45" height="1.45"/><rect x="481.2" y="475.0" width="1.45" height="1.45"/><rect x="472.1" y="476.3" width="1.45" height="1.45"/><rect x="473.4" y="476.3" width="1.45" height="1.45"/><rect x="477.3" y="476.3" width="1.45" height="1.45"/><rect x="478.6" y="476.3" width="1.45" height="1.45"/><rect x="481.2" y="476.3" width="1.45" height="1.45"/><rect x="472.1" y="477.6" width="1.45" height="1.45"/><rect x="473.4" y="477.6" width="1.45" height="1.45"/><rect x="474.7" y="477.6" width="1.45" height="1.45"/><rect x="476.0" y="477.6" width="1.45" height="1.45"/><rect x="477.3" y="477.6" width="1.45" height="1.45"/><rect x="478.6" y="477.6" width="1.45" height="1.45"/><rect x="479.9" y="477.6" width="1.45" height="1.45"/><rect x="481.2" y="477.6" width="1.45" height="1.45"/><rect x="470.8" y="478.9" width="1.45" height="1.45"/><rect x="472.1" y="478.9" width="1.45" height="1.45"/><rect x="473.4" y="478.9" width="1.45" height="1.45"/><rect x="474.7" y="478.9" width="1.45" height="1.45"/><rect x="476.0" y="478.9" width="1.45" height="1.45"/><rect x="477.3" y="478.9" width="1.45" height="1.45"/><rect x="478.6" y="478.9" width="1.45" height="1.45"/><rect x="479.9" y="478.9" width="1.45" height="1.45"/><rect x="481.2" y="478.9" width="1.45" height="1.45"/></g>
<g fill="#000"><rect x="471.4" y="490.1" width="1.4" height="1.4"/><rect x="477.9" y="489.4" width="1.4" height="1.4"/><rect x="478.6" y="489.5" width="1.4" height="1.4"/><rect x="476.5" y="490.1" width="1.4" height="1.4"/><rect x="476.7" y="489.8" width="1.4" height="1.4"/><rect x="474.8" y="496.1" width="1.4" height="1.4"/><rect x="474.9" y="496.2" width="1.4" height="1.4"/><rect x="475.1" y="495.9" width="1.4" height="1.4"/><rect x="471.2" y="496.1" width="1.4" height="1.4"/><rect x="475.5" y="495.7" width="1.4" height="1.4"/><rect x="477.9" y="503.3" width="1.4" height="1.4"/><rect x="475.2" y="502.6" width="1.4" height="1.4"/><rect x="475.3" y="502.5" width="1.4" height="1.4"/><rect x="472.2" y="502.9" width="1.4" height="1.4"/><rect x="471.8" y="502.9" width="1.4" height="1.4"/><rect x="475.6" y="507.4" width="1.4" height="1.4"/><rect x="476.8" y="507.5" width="1.4" height="1.4"/><rect x="477.7" y="508.3" width="1.4" height="1.4"/><rect x="475.7" y="507.5" width="1.4" height="1.4"/><rect x="475.6" y="507.9" width="1.4" height="1.4"/><rect x="479.7" y="509.6" width="1.4" height="1.4"/><rect x="478.8" y="510.6" width="1.4" height="1.4"/><rect x="477.7" y="510.4" width="1.4" height="1.4"/><rect x="472.8" y="510.6" width="1.4" height="1.4"/><rect x="475.5" y="510.5" width="1.4" height="1.4"/><rect x="479.3" y="513.6" width="1.4" height="1.4"/><rect x="478.2" y="514.5" width="1.4" height="1.4"/><rect x="471.6" y="513.8" width="1.4" height="1.4"/><rect x="477.9" y="513.6" width="1.4" height="1.4"/><rect x="479.2" y="513.7" width="1.4" height="1.4"/><rect x="478.4" y="519.6" width="1.4" height="1.4"/><rect x="475.6" y="520.5" width="1.4" height="1.4"/><rect x="472.9" y="519.7" width="1.4" height="1.4"/><rect x="475.6" y="519.8" width="1.4" height="1.4"/><rect x="471.3" y="519.6" width="1.4" height="1.4"/><rect x="472.5" y="525.5" width="1.4" height="1.4"/><rect x="477.2" y="525.5" width="1.4" height="1.4"/><rect x="472.5" y="525.3" width="1.4" height="1.4"/><rect x="472.0" y="525.0" width="1.4" height="1.4"/><rect x="476.8" y="524.8" width="1.4" height="1.4"/><rect x="478.9" y="530.1" width="1.4" height="1.4"/><rect x="476.3" y="530.5" width="1.4" height="1.4"/><rect x="472.0" y="530.6" width="1.4" height="1.4"/><rect x="476.7" y="529.9" width="1.4" height="1.4"/><rect x="478.3" y="529.7" width="1.4" height="1.4"/><rect x="480.0" y="536.1" width="1.4" height="1.4"/><rect x="474.3" y="536.3" width="1.4" height="1.4"/><rect x="475.0" y="535.6" width="1.4" height="1.4"/><rect x="477.8" y="535.5" width="1.4" height="1.4"/><rect x="478.5" y="535.7" width="1.4" height="1.4"/><rect x="476.8" y="541.6" width="1.4" height="1.4"/><rect x="476.3" y="541.2" width="1.4" height="1.4"/><rect x="473.8" y="540.4" width="1.4" height="1.4"/><rect x="471.3" y="540.6" width="1.4" height="1.4"/><rect x="476.6" y="540.9" width="1.4" height="1.4"/></g>
<g fill="#0000ff"><rect x="486.2" y="464.6" width="1.45" height="1.45"/><rect x="488.8" y="464.6" width="1.45" height="1.45"/><rect x="490.1" y="464.6" width="1.45" height="1.45"/><rect x="491.4" y="464.6" width="1.45" height="1.45"/><rect x="492.7" y="464.6" width="1.45" height="1.45"/><rect x="494.0" y="464.6" width="1.45" height="1.45"/><rect x="495.3" y="464.6" width="1.45" height="1.45"/><rect x="496.6" y="464.6" width="1.45" height="1.45"/><rect x="486.2" y="465.9" width="1.45" height="1.45"/><rect x="487.5" y="465.9" width="1.45" height="1.45"/><rect x="488.8" y="465.9" width="1.45" height="1.45"/><rect x="490.1" y="465.9" width="1.45" height="1.45"/><rect x="491.4" y="465.9" width="1.45" height="1.45"/><rect x="492.7" y="465.9" width="1.45" height="1.45"/><rect x="494.0" y="465.9" width="1.45" height="1.45"/><rect x="495.3" y="465.9" width="1.45" height="1.45"/><rect x="486.2" y="467.2" width="1.45" height="1.45"/><rect x="487.5" y="467.2" width="1.45" height="1.45"/><rect x="488.8" y="467.2" width="1.45" height="1.45"/><rect x="490.1" y="467.2" width="1.45" height="1.45"/><rect x="491.4" y="467.2" width="1.45" height="1.45"/><rect x="492.7" y="467.2" width="1.45" height="1.45"/><rect x="494.0" y="467.2" width="1.45" height="1.45"/><rect x="495.3" y="467.2" width="1.45" height="1.45"/><rect x="496.6" y="467.2" width="1.45" height="1.45"/><rect x="486.2" y="468.5" width="1.45" height="1.45"/><rect x="487.5" y="468.5" width="1.45" height="1.45"/><rect x="488.8" y="468.5" width="1.45" height="1.45"/><rect x="490.1" y="468.5" width="1.45" height="1.45"/><rect x="491.4" y="468.5" width="1.45" height="1.45"/><rect x="494.0" y="468.5" width="1.45" height="1.45"/><rect x="495.3" y="468.5" width="1.45" height="1.45"/><rect x="486.2" y="469.8" width="1.45" height="1.45"/><rect x="487.5" y="469.8" width="1.45" height="1.45"/><rect x="488.8" y="469.8" width="1.45" height="1.45"/><rect x="490.1" y="469.8" width="1.45" height="1.45"/><rect x="491.4" y="469.8" width="1.45" height="1.45"/><rect x="492.7" y="469.8" width="1.45" height="1.45"/><rect x="494.0" y="469.8" width="1.45" height="1.45"/><rect x="495.3" y="469.8" width="1.45" height="1.45"/><rect x="486.2" y="471.1" width="1.45" height="1.45"/><rect x="487.5" y="471.1" width="1.45" height="1.45"/><rect x="488.8" y="471.1" width="1.45" height="1.45"/><rect x="490.1" y="471.1" width="1.45" height="1.45"/><rect x="491.4" y="471.1" width="1.45" height="1.45"/><rect x="492.7" y="471.1" width="1.45" height="1.45"/><rect x="494.0" y="471.1" width="1.45" height="1.45"/><rect x="495.3" y="471.1" width="1.45" height="1.45"/><rect x="496.6" y="471.1" width="1.45" height="1.45"/><rect x="486.2" y="472.4" width="1.45" height="1.45"/><rect x="488.8" y="472.4" width="1.45" height="1.45"/><rect x="490.1" y="472.4" width="1.45" height="1.45"/><rect x="491.4" y="472.4" width="1.45" height="1.45"/><rect x="492.7" y="472.4" width="1.45" height="1.45"/><rect x="494.0" y="472.4" width="1.45" height="1.45"/><rect x="495.3" y="472.4" width="1.45" height="1.45"/><rect x="496.6" y="472.4" width="1.45" height="1.45"/><rect x="486.2" y="473.7" width="1.45" height="1.45"/><rect x="487.5" y="473.7" width="1.45" height="1.45"/><rect x="488.8" y="473.7" width="1.45" height="1.45"/><rect x="490.1" y="473.7" width="1.45" height="1.45"/><rect x="491.4" y="473.7" width="1.45" height="1.45"/><rect x="492.7" y="473.7" width="1.45" height="1.45"/><rect x="494.0" y="473.7" width="1.45" height="1.45"/><rect x="495.3" y="473.7" width="1.45" height="1.45"/><rect x="496.6" y="473.7" width="1.45" height="1.45"/><rect x="486.2" y="475.0" width="1.45" height="1.45"/><rect x="487.5" y="475.0" width="1.45" height="1.45"/><rect x="488.8" y="475.0" width="1.45" height="1.45"/><rect x="490.1" y="475.0" width="1.45" height="1.45"/><rect x="491.4" y="475.0" width="1.45" height="1.45"/><rect x="492.7" y="475.0" width="1.45" height="1.45"/><rect x="494.0" y="475.0" width="1.45" height="1.45"/><rect x="495.3" y="475.0" width="1.45" height="1.45"/><rect x="486.2" y="476.3" width="1.45" height="1.45"/><rect x="488.8" y="476.3" width="1.45" height="1.45"/><rect x="490.1" y="476.3" width="1.45" height="1.45"/><rect x="491.4" y="476.3" width="1.45" height="1.45"/><rect x="492.7" y="476.3" width="1.45" height="1.45"/><rect x="495.3" y="476.3" width="1.45" height="1.45"/><rect x="496.6" y="476.3" width="1.45" height="1.45"/><rect x="487.5" y="477.6" width="1.45" height="1.45"/><rect x="488.8" y="477.6" width="1.45" height="1.45"/><rect x="491.4" y="477.6" width="1.45" height="1.45"/><rect x="492.7" y="477.6" width="1.45" height="1.45"/><rect x="494.0" y="477.6" width="1.45" height="1.45"/><rect x="496.6" y="477.6" width="1.45" height="1.45"/><rect x="486.2" y="478.9" width="1.45" height="1.45"/><rect x="487.5" y="478.9" width="1.45" height="1.45"/><rect x="488.8" y="478.9" width="1.45" height="1.45"/><rect x="490.1" y="478.9" width="1.45" height="1.45"/><rect x="491.4" y="478.9" width="1.45" height="1.45"/><rect x="492.7" y="478.9" width="1.45" height="1.45"/><rect x="494.0" y="478.9" width="1.45" height="1.45"/><rect x="495.3" y="478.9" width="1.45" height="1.45"/><rect x="496.6" y="478.9" width="1.45" height="1.45"/><rect x="486.2" y="480.2" width="1.45" height="1.45"/><rect x="488.8" y="480.2" width="1.45" height="1.45"/><rect x="490.1" y="480.2" width="1.45" height="1.45"/><rect x="491.4" y="480.2" width="1.45" height="1.45"/><rect x="494.0" y="480.2" width="1.45" height="1.45"/><rect x="495.3" y="480.2" width="1.45" height="1.45"/><rect x="496.6" y="480.2" width="1.45" height="1.45"/><rect x="486.2" y="481.5" width="1.45" height="1.45"/><rect x="487.5" y="481.5" width="1.45" height="1.45"/><rect x="488.8" y="481.5" width="1.45" height="1.45"/><rect x="490.1" y="481.5" width="1.45" height="1.45"/><rect x="491.4" y="481.5" width="1.45" height="1.45"/><rect x="492.7" y="481.5" width="1.45" height="1.45"/><rect x="494.0" y="481.5" width="1.45" height="1.45"/><rect x="495.3" y="481.5" width="1.45" height="1.45"/><rect x="496.6" y="481.5" width="1.45" height="1.45"/><rect x="486.2" y="482.8" width="1.45" height="1.45"/><rect x="488.8" y="482.8" width="1.45" height="1.45"/><rect x="490.1" y="482.8" width="1.45" height="1.45"/><rect x="494.0" y="482.8" width="1.45" height="1.45"/><rect x="495.3" y="482.8" width="1.45" height="1.45"/><rect x="496.6" y="482.8" width="1.45" height="1.45"/><rect x="486.2" y="484.1" width="1.45" height="1.45"/><rect x="487.5" y="484.1" width="1.45" height="1.45"/><rect x="488.8" y="484.1" width="1.45" height="1.45"/><rect x="490.1" y="484.1" width="1.45" height="1.45"/><rect x="491.4" y="484.1" width="1.45" height="1.45"/><rect x="492.7" y="484.1" width="1.45" height="1.45"/><rect x="494.0" y="484.1" width="1.45" height="1.45"/><rect x="495.3" y="484.1" width="1.45" height="1.45"/><rect x="496.6" y="484.1" width="1.45" height="1.45"/><rect x="486.2" y="485.4" width="1.45" height="1.45"/><rect x="487.5" y="485.4" width="1.45" height="1.45"/><rect x="488.8" y="485.4" width="1.45" height="1.45"/><rect x="490.1" y="485.4" width="1.45" height="1.45"/><rect x="491.4" y="485.4" width="1.45" height="1.45"/><rect x="492.7" y="485.4" width="1.45" height="1.45"/><rect x="494.0" y="485.4" width="1.45" height="1.45"/><rect x="495.3" y="485.4" width="1.45" height="1.45"/><rect x="496.6" y="485.4" width="1.45" height="1.45"/><rect x="486.2" y="486.7" width="1.45" height="1.45"/><rect x="488.8" y="486.7" width="1.45" height="1.45"/><rect x="490.1" y="486.7" width="1.45" height="1.45"/><rect x="491.4" y="486.7" width="1.45" height="1.45"/><rect x="492.7" y="486.7" width="1.45" height="1.45"/><rect x="494.0" y="486.7" width="1.45" height="1.45"/><rect x="495.3" y="486.7" width="1.45" height="1.45"/><rect x="496.6" y="486.7" width="1.45" height="1.45"/><rect x="486.2" y="488.0" width="1.45" height="1.45"/><rect x="487.5" y="488.0" width="1.45" height="1.45"/><rect x="488.8" y="488.0" width="1.45" height="1.45"/><rect x="490.1" y="488.0" width="1.45" height="1.45"/><rect x="491.4" y="488.0" width="1.45" height="1.45"/><rect x="492.7" y="488.0" width="1.45" height="1.45"/><rect x="494.0" y="488.0" width="1.45" height="1.45"/><rect x="495.3" y="488.0" width="1.45" height="1.45"/><rect x="496.6" y="488.0" width="1.45" height="1.45"/><rect x="486.2" y="489.3" width="1.45" height="1.45"/><rect x="487.5" y="489.3" width="1.45" height="1.45"/><rect x="490.1" y="489.3" width="1.45" height="1.45"/><rect x="491.4" y="489.3" width="1.45" height="1.45"/><rect x="492.7" y="489.3" width="1.45" height="1.45"/><rect x="494.0" y="489.3" width="1.45" height="1.45"/><rect x="495.3" y="489.3" width="1.45" height="1.45"/><rect x="496.6" y="489.3" width="1.45" height="1.45"/></g>
<g fill="#0000ff"><rect x="486.2" y="491.0" width="1.45" height="1.45"/><rect x="488.8" y="491.0" width="1.45" height="1.45"/><rect x="491.4" y="491.0" width="1.45" height="1.45"/><rect x="492.7" y="491.0" width="1.45" height="1.45"/><rect x="495.3" y="491.0" width="1.45" height="1.45"/><rect x="496.6" y="491.0" width="1.45" height="1.45"/><rect x="487.5" y="492.3" width="1.45" height="1.45"/><rect x="494.0" y="492.3" width="1.45" height="1.45"/><rect x="495.3" y="492.3" width="1.45" height="1.45"/><rect x="496.6" y="492.3" width="1.45" height="1.45"/><rect x="487.5" y="493.6" width="1.45" height="1.45"/><rect x="490.1" y="493.6" width="1.45" height="1.45"/><rect x="491.4" y="493.6" width="1.45" height="1.45"/><rect x="492.7" y="493.6" width="1.45" height="1.45"/><rect x="495.3" y="493.6" width="1.45" height="1.45"/><rect x="496.6" y="493.6" width="1.45" height="1.45"/><rect x="487.5" y="494.9" width="1.45" height="1.45"/><rect x="488.8" y="494.9" width="1.45" height="1.45"/><rect x="490.1" y="494.9" width="1.45" height="1.45"/><rect x="495.3" y="494.9" width="1.45" height="1.45"/><rect x="496.6" y="494.9" width="1.45" height="1.45"/><rect x="486.2" y="496.2" width="1.45" height="1.45"/><rect x="491.4" y="496.2" width="1.45" height="1.45"/><rect x="492.7" y="496.2" width="1.45" height="1.45"/><rect x="495.3" y="496.2" width="1.45" height="1.45"/><rect x="496.6" y="496.2" width="1.45" height="1.45"/><rect x="486.2" y="497.5" width="1.45" height="1.45"/><rect x="488.8" y="497.5" width="1.45" height="1.45"/><rect x="490.1" y="497.5" width="1.45" height="1.45"/><rect x="491.4" y="497.5" width="1.45" height="1.45"/><rect x="495.3" y="497.5" width="1.45" height="1.45"/><rect x="496.6" y="497.5" width="1.45" height="1.45"/><rect x="486.2" y="498.8" width="1.45" height="1.45"/><rect x="487.5" y="498.8" width="1.45" height="1.45"/><rect x="488.8" y="498.8" width="1.45" height="1.45"/><rect x="490.1" y="498.8" width="1.45" height="1.45"/><rect x="491.4" y="498.8" width="1.45" height="1.45"/><rect x="492.7" y="498.8" width="1.45" height="1.45"/><rect x="496.6" y="498.8" width="1.45" height="1.45"/><rect x="487.5" y="500.1" width="1.45" height="1.45"/><rect x="488.8" y="500.1" width="1.45" height="1.45"/><rect x="494.0" y="500.1" width="1.45" height="1.45"/><rect x="495.3" y="500.1" width="1.45" height="1.45"/><rect x="486.2" y="501.4" width="1.45" height="1.45"/><rect x="487.5" y="501.4" width="1.45" height="1.45"/><rect x="488.8" y="501.4" width="1.45" height="1.45"/><rect x="490.1" y="501.4" width="1.45" height="1.45"/><rect x="491.4" y="501.4" width="1.45" height="1.45"/><rect x="495.3" y="501.4" width="1.45" height="1.45"/><rect x="486.2" y="502.7" width="1.45" height="1.45"/><rect x="487.5" y="502.7" width="1.45" height="1.45"/><rect x="490.1" y="502.7" width="1.45" height="1.45"/><rect x="494.0" y="502.7" width="1.45" height="1.45"/><rect x="495.3" y="502.7" width="1.45" height="1.45"/><rect x="486.2" y="504.0" width="1.45" height="1.45"/><rect x="487.5" y="504.0" width="1.45" height="1.45"/><rect x="486.2" y="505.3" width="1.45" height="1.45"/><rect x="487.5" y="505.3" width="1.45" height="1.45"/><rect x="490.1" y="505.3" width="1.45" height="1.45"/><rect x="491.4" y="505.3" width="1.45" height="1.45"/><rect x="496.6" y="505.3" width="1.45" height="1.45"/><rect x="486.2" y="506.6" width="1.45" height="1.45"/><rect x="487.5" y="506.6" width="1.45" height="1.45"/><rect x="490.1" y="506.6" width="1.45" height="1.45"/><rect x="494.0" y="506.6" width="1.45" height="1.45"/><rect x="486.2" y="507.9" width="1.45" height="1.45"/><rect x="487.5" y="507.9" width="1.45" height="1.45"/><rect x="490.1" y="507.9" width="1.45" height="1.45"/><rect x="491.4" y="507.9" width="1.45" height="1.45"/><rect x="492.7" y="507.9" width="1.45" height="1.45"/><rect x="496.6" y="507.9" width="1.45" height="1.45"/><rect x="486.2" y="509.2" width="1.45" height="1.45"/><rect x="487.5" y="509.2" width="1.45" height="1.45"/><rect x="488.8" y="509.2" width="1.45" height="1.45"/><rect x="491.4" y="509.2" width="1.45" height="1.45"/><rect x="495.3" y="509.2" width="1.45" height="1.45"/><rect x="496.6" y="509.2" width="1.45" height="1.45"/><rect x="487.5" y="510.5" width="1.45" height="1.45"/><rect x="490.1" y="510.5" width="1.45" height="1.45"/><rect x="492.7" y="510.5" width="1.45" height="1.45"/><rect x="495.3" y="510.5" width="1.45" height="1.45"/><rect x="496.6" y="510.5" width="1.45" height="1.45"/><rect x="486.2" y="511.8" width="1.45" height="1.45"/><rect x="487.5" y="511.8" width="1.45" height="1.45"/><rect x="488.8" y="511.8" width="1.45" height="1.45"/><rect x="490.1" y="511.8" width="1.45" height="1.45"/><rect x="491.4" y="511.8" width="1.45" height="1.45"/><rect x="494.0" y="511.8" width="1.45" height="1.45"/><rect x="495.3" y="511.8" width="1.45" height="1.45"/><rect x="496.6" y="511.8" width="1.45" height="1.45"/><rect x="488.8" y="513.1" width="1.45" height="1.45"/><rect x="490.1" y="513.1" width="1.45" height="1.45"/><rect x="492.7" y="513.1" width="1.45" height="1.45"/><rect x="494.0" y="513.1" width="1.45" height="1.45"/><rect x="495.3" y="513.1" width="1.45" height="1.45"/><rect x="488.8" y="514.4" width="1.45" height="1.45"/><rect x="490.1" y="514.4" width="1.45" height="1.45"/><rect x="491.4" y="514.4" width="1.45" height="1.45"/><rect x="494.0" y="514.4" width="1.45" height="1.45"/><rect x="487.5" y="515.7" width="1.45" height="1.45"/><rect x="488.8" y="515.7" width="1.45" height="1.45"/><rect x="490.1" y="515.7" width="1.45" height="1.45"/><rect x="491.4" y="515.7" width="1.45" height="1.45"/><rect x="494.0" y="515.7" width="1.45" height="1.45"/><rect x="496.6" y="515.7" width="1.45" height="1.45"/><rect x="486.2" y="517.0" width="1.45" height="1.45"/><rect x="487.5" y="517.0" width="1.45" height="1.45"/><rect x="488.8" y="517.0" width="1.45" height="1.45"/><rect x="490.1" y="517.0" width="1.45" height="1.45"/><rect x="491.4" y="517.0" width="1.45" height="1.45"/><rect x="494.0" y="517.0" width="1.45" height="1.45"/><rect x="495.3" y="517.0" width="1.45" height="1.45"/><rect x="496.6" y="517.0" width="1.45" height="1.45"/><rect x="486.2" y="518.3" width="1.45" height="1.45"/><rect x="487.5" y="518.3" width="1.45" height="1.45"/><rect x="491.4" y="518.3" width="1.45" height="1.45"/><rect x="495.3" y="518.3" width="1.45" height="1.45"/><rect x="488.8" y="519.6" width="1.45" height="1.45"/><rect x="492.7" y="519.6" width="1.45" height="1.45"/><rect x="494.0" y="519.6" width="1.45" height="1.45"/><rect x="486.2" y="520.9" width="1.45" height="1.45"/><rect x="487.5" y="520.9" width="1.45" height="1.45"/><rect x="488.8" y="520.9" width="1.45" height="1.45"/><rect x="490.1" y="520.9" width="1.45" height="1.45"/><rect x="492.7" y="520.9" width="1.45" height="1.45"/><rect x="494.0" y="520.9" width="1.45" height="1.45"/><rect x="486.2" y="522.2" width="1.45" height="1.45"/><rect x="496.6" y="522.2" width="1.45" height="1.45"/><rect x="487.5" y="523.5" width="1.45" height="1.45"/><rect x="490.1" y="523.5" width="1.45" height="1.45"/><rect x="492.7" y="523.5" width="1.45" height="1.45"/><rect x="494.0" y="523.5" width="1.45" height="1.45"/><rect x="495.3" y="523.5" width="1.45" height="1.45"/><rect x="496.6" y="523.5" width="1.45" height="1.45"/><rect x="486.2" y="524.8" width="1.45" height="1.45"/><rect x="487.5" y="524.8" width="1.45" height="1.45"/><rect x="488.8" y="524.8" width="1.45" height="1.45"/><rect x="490.1" y="524.8" width="1.45" height="1.45"/><rect x="491.4" y="524.8" width="1.45" height="1.45"/><rect x="492.7" y="524.8" width="1.45" height="1.45"/><rect x="494.0" y="524.8" width="1.45" height="1.45"/><rect x="496.6" y="524.8" width="1.45" height="1.45"/><rect x="487.5" y="526.1" width="1.45" height="1.45"/><rect x="488.8" y="526.1" width="1.45" height="1.45"/><rect x="492.7" y="526.1" width="1.45" height="1.45"/><rect x="494.0" y="526.1" width="1.45" height="1.45"/><rect x="496.6" y="526.1" width="1.45" height="1.45"/><rect x="488.8" y="527.4" width="1.45" height="1.45"/><rect x="494.0" y="527.4" width="1.45" height="1.45"/><rect x="496.6" y="527.4" width="1.45" height="1.45"/><rect x="486.2" y="528.7" width="1.45" height="1.45"/><rect x="488.8" y="528.7" width="1.45" height="1.45"/><rect x="492.7" y="528.7" width="1.45" height="1.45"/><rect x="495.3" y="528.7" width="1.45" height="1.45"/><rect x="496.6" y="528.7" width="1.45" height="1.45"/><rect x="486.2" y="530.0" width="1.45" height="1.45"/><rect x="488.8" y="530.0" width="1.45" height="1.45"/><rect x="490.1" y="530.0" width="1.45" height="1.45"/><rect x="491.4" y="530.0" width="1.45" height="1.45"/><rect x="492.7" y="530.0" width="1.45" height="1.45"/><rect x="495.3" y="530.0" width="1.45" height="1.45"/><rect x="486.2" y="531.3" width="1.45" height="1.45"/><rect x="487.5" y="531.3" width="1.45" height="1.45"/><rect x="488.8" y="531.3" width="1.45" height="1.45"/><rect x="490.1" y="531.3" width="1.45" height="1.45"/><rect x="495.3" y="531.3" width="1.45" height="1.45"/><rect x="496.6" y="531.3" width="1.45" height="1.45"/><rect x="486.2" y="532.6" width="1.45" height="1.45"/><rect x="487.5" y="532.6" width="1.45" height="1.45"/><rect x="491.4" y="532.6" width="1.45" height="1.45"/><rect x="495.3" y="532.6" width="1.45" height="1.45"/><rect x="496.6" y="532.6" width="1.45" height="1.45"/><rect x="486.2" y="533.9" width="1.45" height="1.45"/><rect x="487.5" y="533.9" width="1.45" height="1.45"/><rect x="488.8" y="533.9" width="1.45" height="1.45"/><rect x="490.1" y="535.2" width="1.45" height="1.45"/><rect x="492.7" y="535.2" width="1.45" height="1.45"/><rect x="495.3" y="535.2" width="1.45" height="1.45"/><rect x="486.2" y="536.5" width="1.45" height="1.45"/><rect x="487.5" y="536.5" width="1.45" height="1.45"/><rect x="488.8" y="536.5" width="1.45" height="1.45"/><rect x="494.0" y="536.5" width="1.45" height="1.45"/><rect x="486.2" y="537.8" width="1.45" height="1.45"/><rect x="487.5" y="537.8" width="1.45" height="1.45"/><rect x="488.8" y="537.8" width="1.45" height="1.45"/><rect x="490.1" y="537.8" width="1.45" height="1.45"/><rect x="491.4" y="537.8" width="1.45" height="1.45"/><rect x="492.7" y="537.8" width="1.45" height="1.45"/><rect x="496.6" y="537.8" width="1.45" height="1.45"/><rect x="486.2" y="539.1" width="1.45" height="1.45"/><rect x="487.5" y="539.1" width="1.45" height="1.45"/><rect x="488.8" y="539.1" width="1.45" height="1.45"/><rect x="491.4" y="539.1" width="1.45" height="1.45"/><rect x="494.0" y="539.1" width="1.45" height="1.45"/><rect x="495.3" y="539.1" width="1.45" height="1.45"/><rect x="496.6" y="539.1" width="1.45" height="1.45"/><rect x="486.2" y="540.4" width="1.45" height="1.45"/><rect x="490.1" y="540.4" width="1.45" height="1.45"/><rect x="491.4" y="540.4" width="1.45" height="1.45"/><rect x="492.7" y="540.4" width="1.45" height="1.45"/><rect x="495.3" y="540.4" width="1.45" height="1.45"/><rect x="496.6" y="540.4" width="1.45" height="1.45"/><rect x="486.2" y="541.7" width="1.45" height="1.45"/><rect x="487.5" y="541.7" width="1.45" height="1.45"/><rect x="490.1" y="541.7" width="1.45" height="1.45"/><rect x="492.7" y="541.7" width="1.45" height="1.45"/><rect x="495.3" y="541.7" width="1.45" height="1.45"/><rect x="496.6" y="541.7" width="1.45" height="1.45"/><rect x="487.5" y="543.0" width="1.45" height="1.45"/><rect x="490.1" y="543.0" width="1.45" height="1.45"/><rect x="491.4" y="543.0" width="1.45" height="1.45"/></g>
<g fill="#000"><rect x="501.6" y="464.6" width="1.45" height="1.45"/><rect x="502.9" y="464.6" width="1.45" height="1.45"/><rect x="504.2" y="464.6" width="1.45" height="1.45"/><rect x="505.5" y="464.6" width="1.45" height="1.45"/><rect x="508.1" y="464.6" width="1.45" height="1.45"/><rect x="510.7" y="464.6" width="1.45" height="1.45"/><rect x="512.0" y="464.6" width="1.45" height="1.45"/><rect x="501.6" y="465.9" width="1.45" height="1.45"/><rect x="502.9" y="465.9" width="1.45" height="1.45"/><rect x="504.2" y="465.9" width="1.45" height="1.45"/><rect x="505.5" y="465.9" width="1.45" height="1.45"/><rect x="506.8" y="465.9" width="1.45" height="1.45"/><rect x="508.1" y="465.9" width="1.45" height="1.45"/><rect x="509.4" y="465.9" width="1.45" height="1.45"/><rect x="510.7" y="465.9" width="1.45" height="1.45"/><rect x="512.0" y="465.9" width="1.45" height="1.45"/><rect x="501.6" y="467.2" width="1.45" height="1.45"/><rect x="502.9" y="467.2" width="1.45" height="1.45"/><rect x="504.2" y="467.2" width="1.45" height="1.45"/><rect x="505.5" y="467.2" width="1.45" height="1.45"/><rect x="506.8" y="467.2" width="1.45" height="1.45"/><rect x="508.1" y="467.2" width="1.45" height="1.45"/><rect x="509.4" y="467.2" width="1.45" height="1.45"/><rect x="510.7" y="467.2" width="1.45" height="1.45"/><rect x="512.0" y="467.2" width="1.45" height="1.45"/><rect x="501.6" y="468.5" width="1.45" height="1.45"/><rect x="502.9" y="468.5" width="1.45" height="1.45"/><rect x="504.2" y="468.5" width="1.45" height="1.45"/><rect x="505.5" y="468.5" width="1.45" height="1.45"/><rect x="508.1" y="468.5" width="1.45" height="1.45"/><rect x="509.4" y="468.5" width="1.45" height="1.45"/><rect x="510.7" y="468.5" width="1.45" height="1.45"/><rect x="512.0" y="468.5" width="1.45" height="1.45"/><rect x="502.9" y="469.8" width="1.45" height="1.45"/><rect x="504.2" y="469.8" width="1.45" height="1.45"/><rect x="505.5" y="469.8" width="1.45" height="1.45"/><rect x="506.8" y="469.8" width="1.45" height="1.45"/><rect x="509.4" y="469.8" width="1.45" height="1.45"/><rect x="510.7" y="469.8" width="1.45" height="1.45"/><rect x="512.0" y="469.8" width="1.45" height="1.45"/><rect x="501.6" y="471.1" width="1.45" height="1.45"/><rect x="504.2" y="471.1" width="1.45" height="1.45"/><rect x="505.5" y="471.1" width="1.45" height="1.45"/><rect x="506.8" y="471.1" width="1.45" height="1.45"/><rect x="509.4" y="471.1" width="1.45" height="1.45"/><rect x="510.7" y="471.1" width="1.45" height="1.45"/><rect x="512.0" y="471.1" width="1.45" height="1.45"/><rect x="501.6" y="472.4" width="1.45" height="1.45"/><rect x="502.9" y="472.4" width="1.45" height="1.45"/><rect x="504.2" y="472.4" width="1.45" height="1.45"/><rect x="505.5" y="472.4" width="1.45" height="1.45"/><rect x="508.1" y="472.4" width="1.45" height="1.45"/><rect x="509.4" y="472.4" width="1.45" height="1.45"/><rect x="510.7" y="472.4" width="1.45" height="1.45"/><rect x="512.0" y="472.4" width="1.45" height="1.45"/><rect x="501.6" y="473.7" width="1.45" height="1.45"/><rect x="502.9" y="473.7" width="1.45" height="1.45"/><rect x="504.2" y="473.7" width="1.45" height="1.45"/><rect x="505.5" y="473.7" width="1.45" height="1.45"/><rect x="506.8" y="473.7" width="1.45" height="1.45"/><rect x="509.4" y="473.7" width="1.45" height="1.45"/><rect x="510.7" y="473.7" width="1.45" height="1.45"/><rect x="512.0" y="473.7" width="1.45" height="1.45"/><rect x="501.6" y="475.0" width="1.45" height="1.45"/><rect x="502.9" y="475.0" width="1.45" height="1.45"/><rect x="504.2" y="475.0" width="1.45" height="1.45"/><rect x="506.8" y="475.0" width="1.45" height="1.45"/><rect x="508.1" y="475.0" width="1.45" height="1.45"/><rect x="509.4" y="475.0" width="1.45" height="1.45"/><rect x="510.7" y="475.0" width="1.45" height="1.45"/><rect x="512.0" y="475.0" width="1.45" height="1.45"/><rect x="501.6" y="476.3" width="1.45" height="1.45"/><rect x="502.9" y="476.3" width="1.45" height="1.45"/><rect x="504.2" y="476.3" width="1.45" height="1.45"/><rect x="505.5" y="476.3" width="1.45" height="1.45"/><rect x="506.8" y="476.3" width="1.45" height="1.45"/><rect x="508.1" y="476.3" width="1.45" height="1.45"/><rect x="509.4" y="476.3" width="1.45" height="1.45"/><rect x="510.7" y="476.3" width="1.45" height="1.45"/><rect x="512.0" y="476.3" width="1.45" height="1.45"/><rect x="504.2" y="477.6" width="1.45" height="1.45"/><rect x="505.5" y="477.6" width="1.45" height="1.45"/><rect x="506.8" y="477.6" width="1.45" height="1.45"/><rect x="508.1" y="477.6" width="1.45" height="1.45"/><rect x="509.4" y="477.6" width="1.45" height="1.45"/><rect x="510.7" y="477.6" width="1.45" height="1.45"/><rect x="512.0" y="477.6" width="1.45" height="1.45"/><rect x="501.6" y="478.9" width="1.45" height="1.45"/><rect x="502.9" y="478.9" width="1.45" height="1.45"/><rect x="504.2" y="478.9" width="1.45" height="1.45"/><rect x="505.5" y="478.9" width="1.45" height="1.45"/><rect x="506.8" y="478.9" width="1.45" height="1.45"/><rect x="508.1" y="478.9" width="1.45" height="1.45"/><rect x="510.7" y="478.9" width="1.45" height="1.45"/><rect x="512.0" y="478.9" width="1.45" height="1.45"/><rect x="501.6" y="480.2" width="1.45" height="1.45"/><rect x="502.9" y="480.2" width="1.45" height="1.45"/><rect x="504.2" y="480.2" width="1.45" height="1.45"/><rect x="505.5" y="480.2" width="1.45" height="1.45"/><rect x="506.8" y="480.2" width="1.45" height="1.45"/><rect x="508.1" y="480.2" width="1.45" height="1.45"/><rect x="509.4" y="480.2" width="1.45" height="1.45"/><rect x="510.7" y="480.2" width="1.45" height="1.45"/><rect x="501.6" y="481.5" width="1.45" height="1.45"/><rect x="502.9" y="481.5" width="1.45" height="1.45"/><rect x="504.2" y="481.5" width="1.45" height="1.45"/><rect x="505.5" y="481.5" width="1.45" height="1.45"/><rect x="506.8" y="481.5" width="1.45" height="1.45"/><rect x="508.1" y="481.5" width="1.45" height="1.45"/><rect x="510.7" y="481.5" width="1.45" height="1.45"/><rect x="512.0" y="481.5" width="1.45" height="1.45"/><rect x="502.9" y="482.8" width="1.45" height="1.45"/><rect x="504.2" y="482.8" width="1.45" height="1.45"/><rect x="505.5" y="482.8" width="1.45" height="1.45"/><rect x="506.8" y="482.8" width="1.45" height="1.45"/><rect x="508.1" y="482.8" width="1.45" height="1.45"/><rect x="509.4" y="482.8" width="1.45" height="1.45"/><rect x="510.7" y="482.8" width="1.45" height="1.45"/><rect x="512.0" y="482.8" width="1.45" height="1.45"/><rect x="501.6" y="484.1" width="1.45" height="1.45"/><rect x="505.5" y="484.1" width="1.45" height="1.45"/><rect x="506.8" y="484.1" width="1.45" height="1.45"/><rect x="508.1" y="484.1" width="1.45" height="1.45"/><rect x="509.4" y="484.1" width="1.45" height="1.45"/><rect x="512.0" y="484.1" width="1.45" height="1.45"/><rect x="501.6" y="485.4" width="1.45" height="1.45"/><rect x="502.9" y="485.4" width="1.45" height="1.45"/><rect x="505.5" y="485.4" width="1.45" height="1.45"/><rect x="506.8" y="485.4" width="1.45" height="1.45"/><rect x="508.1" y="485.4" width="1.45" height="1.45"/><rect x="509.4" y="485.4" width="1.45" height="1.45"/><rect x="501.6" y="486.7" width="1.45" height="1.45"/><rect x="502.9" y="486.7" width="1.45" height="1.45"/><rect x="504.2" y="486.7" width="1.45" height="1.45"/><rect x="505.5" y="486.7" width="1.45" height="1.45"/><rect x="509.4" y="486.7" width="1.45" height="1.45"/><rect x="510.7" y="486.7" width="1.45" height="1.45"/><rect x="512.0" y="486.7" width="1.45" height="1.45"/></g>
<g fill="#000"><rect x="505.5" y="488.0" width="1.45" height="1.45"/><rect x="506.8" y="488.0" width="1.45" height="1.45"/><rect x="512.0" y="488.0" width="1.45" height="1.45"/><rect x="501.6" y="489.3" width="1.45" height="1.45"/><rect x="504.2" y="489.3" width="1.45" height="1.45"/><rect x="505.5" y="489.3" width="1.45" height="1.45"/><rect x="506.8" y="489.3" width="1.45" height="1.45"/><rect x="508.1" y="489.3" width="1.45" height="1.45"/><rect x="509.4" y="489.3" width="1.45" height="1.45"/><rect x="510.7" y="489.3" width="1.45" height="1.45"/><rect x="512.0" y="489.3" width="1.45" height="1.45"/><rect x="501.6" y="490.6" width="1.45" height="1.45"/><rect x="504.2" y="490.6" width="1.45" height="1.45"/><rect x="506.8" y="490.6" width="1.45" height="1.45"/><rect x="508.1" y="490.6" width="1.45" height="1.45"/><rect x="510.7" y="490.6" width="1.45" height="1.45"/><rect x="504.2" y="491.9" width="1.45" height="1.45"/><rect x="505.5" y="491.9" width="1.45" height="1.45"/><rect x="506.8" y="491.9" width="1.45" height="1.45"/><rect x="512.0" y="491.9" width="1.45" height="1.45"/><rect x="501.6" y="493.2" width="1.45" height="1.45"/><rect x="504.2" y="493.2" width="1.45" height="1.45"/><rect x="506.8" y="493.2" width="1.45" height="1.45"/><rect x="508.1" y="493.2" width="1.45" height="1.45"/><rect x="509.4" y="493.2" width="1.45" height="1.45"/><rect x="512.0" y="493.2" width="1.45" height="1.45"/><rect x="501.6" y="494.5" width="1.45" height="1.45"/><rect x="504.2" y="494.5" width="1.45" height="1.45"/><rect x="505.5" y="494.5" width="1.45" height="1.45"/><rect x="506.8" y="494.5" width="1.45" height="1.45"/><rect x="508.1" y="494.5" width="1.45" height="1.45"/><rect x="510.7" y="494.5" width="1.45" height="1.45"/><rect x="512.0" y="494.5" width="1.45" height="1.45"/><rect x="501.6" y="495.8" width="1.45" height="1.45"/><rect x="502.9" y="495.8" width="1.45" height="1.45"/><rect x="505.5" y="495.8" width="1.45" height="1.45"/><rect x="508.1" y="495.8" width="1.45" height="1.45"/><rect x="512.0" y="495.8" width="1.45" height="1.45"/><rect x="501.6" y="497.1" width="1.45" height="1.45"/><rect x="502.9" y="497.1" width="1.45" height="1.45"/><rect x="504.2" y="497.1" width="1.45" height="1.45"/><rect x="505.5" y="497.1" width="1.45" height="1.45"/><rect x="506.8" y="497.1" width="1.45" height="1.45"/><rect x="512.0" y="497.1" width="1.45" height="1.45"/><rect x="501.6" y="498.4" width="1.45" height="1.45"/><rect x="504.2" y="498.4" width="1.45" height="1.45"/><rect x="506.8" y="498.4" width="1.45" height="1.45"/><rect x="509.4" y="498.4" width="1.45" height="1.45"/><rect x="512.0" y="498.4" width="1.45" height="1.45"/><rect x="501.6" y="499.7" width="1.45" height="1.45"/><rect x="502.9" y="499.7" width="1.45" height="1.45"/><rect x="505.5" y="499.7" width="1.45" height="1.45"/><rect x="506.8" y="499.7" width="1.45" height="1.45"/><rect x="508.1" y="499.7" width="1.45" height="1.45"/><rect x="510.7" y="499.7" width="1.45" height="1.45"/><rect x="512.0" y="499.7" width="1.45" height="1.45"/><rect x="501.6" y="501.0" width="1.45" height="1.45"/><rect x="502.9" y="501.0" width="1.45" height="1.45"/><rect x="506.8" y="501.0" width="1.45" height="1.45"/><rect x="508.1" y="501.0" width="1.45" height="1.45"/><rect x="509.4" y="501.0" width="1.45" height="1.45"/><rect x="510.7" y="501.0" width="1.45" height="1.45"/><rect x="512.0" y="501.0" width="1.45" height="1.45"/><rect x="501.6" y="502.3" width="1.45" height="1.45"/><rect x="502.9" y="502.3" width="1.45" height="1.45"/><rect x="504.2" y="502.3" width="1.45" height="1.45"/><rect x="508.1" y="502.3" width="1.45" height="1.45"/><rect x="509.4" y="502.3" width="1.45" height="1.45"/><rect x="510.7" y="502.3" width="1.45" height="1.45"/><rect x="501.6" y="503.6" width="1.45" height="1.45"/><rect x="504.2" y="503.6" width="1.45" height="1.45"/><rect x="506.8" y="503.6" width="1.45" height="1.45"/><rect x="510.7" y="503.6" width="1.45" height="1.45"/><rect x="512.0" y="503.6" width="1.45" height="1.45"/><rect x="502.9" y="504.9" width="1.45" height="1.45"/><rect x="505.5" y="504.9" width="1.45" height="1.45"/><rect x="506.8" y="504.9" width="1.45" height="1.45"/><rect x="509.4" y="504.9" width="1.45" height="1.45"/><rect x="510.7" y="504.9" width="1.45" height="1.45"/><rect x="512.0" y="504.9" width="1.45" height="1.45"/><rect x="501.6" y="506.2" width="1.45" height="1.45"/><rect x="502.9" y="506.2" width="1.45" height="1.45"/><rect x="504.2" y="506.2" width="1.45" height="1.45"/><rect x="505.5" y="506.2" width="1.45" height="1.45"/><rect x="506.8" y="506.2" width="1.45" height="1.45"/><rect x="508.1" y="506.2" width="1.45" height="1.45"/><rect x="501.6" y="507.5" width="1.45" height="1.45"/><rect x="504.2" y="507.5" width="1.45" height="1.45"/><rect x="506.8" y="507.5" width="1.45" height="1.45"/><rect x="510.7" y="507.5" width="1.45" height="1.45"/><rect x="512.0" y="507.5" width="1.45" height="1.45"/><rect x="501.6" y="508.8" width="1.45" height="1.45"/><rect x="502.9" y="508.8" width="1.45" height="1.45"/><rect x="504.2" y="508.8" width="1.45" height="1.45"/><rect x="506.8" y="508.8" width="1.45" height="1.45"/><rect x="508.1" y="508.8" width="1.45" height="1.45"/><rect x="509.4" y="508.8" width="1.45" height="1.45"/><rect x="510.7" y="508.8" width="1.45" height="1.45"/><rect x="501.6" y="510.1" width="1.45" height="1.45"/><rect x="502.9" y="510.1" width="1.45" height="1.45"/><rect x="505.5" y="510.1" width="1.45" height="1.45"/><rect x="506.8" y="510.1" width="1.45" height="1.45"/><rect x="508.1" y="510.1" width="1.45" height="1.45"/><rect x="509.4" y="510.1" width="1.45" height="1.45"/><rect x="510.7" y="510.1" width="1.45" height="1.45"/><rect x="501.6" y="511.4" width="1.45" height="1.45"/><rect x="505.5" y="511.4" width="1.45" height="1.45"/><rect x="506.8" y="511.4" width="1.45" height="1.45"/><rect x="508.1" y="511.4" width="1.45" height="1.45"/><rect x="509.4" y="511.4" width="1.45" height="1.45"/><rect x="510.7" y="511.4" width="1.45" height="1.45"/><rect x="512.0" y="511.4" width="1.45" height="1.45"/><rect x="501.6" y="512.7" width="1.45" height="1.45"/><rect x="502.9" y="512.7" width="1.45" height="1.45"/><rect x="504.2" y="512.7" width="1.45" height="1.45"/><rect x="506.8" y="512.7" width="1.45" height="1.45"/><rect x="508.1" y="512.7" width="1.45" height="1.45"/><rect x="510.7" y="512.7" width="1.45" height="1.45"/><rect x="502.9" y="514.0" width="1.45" height="1.45"/><rect x="504.2" y="514.0" width="1.45" height="1.45"/><rect x="506.8" y="514.0" width="1.45" height="1.45"/><rect x="508.1" y="514.0" width="1.45" height="1.45"/><rect x="512.0" y="514.0" width="1.45" height="1.45"/><rect x="501.6" y="515.3" width="1.45" height="1.45"/><rect x="502.9" y="515.3" width="1.45" height="1.45"/><rect x="504.2" y="515.3" width="1.45" height="1.45"/><rect x="512.0" y="515.3" width="1.45" height="1.45"/><rect x="501.6" y="516.6" width="1.45" height="1.45"/><rect x="505.5" y="516.6" width="1.45" height="1.45"/><rect x="506.8" y="516.6" width="1.45" height="1.45"/><rect x="509.4" y="516.6" width="1.45" height="1.45"/><rect x="510.7" y="516.6" width="1.45" height="1.45"/><rect x="512.0" y="516.6" width="1.45" height="1.45"/><rect x="501.6" y="517.9" width="1.45" height="1.45"/><rect x="502.9" y="517.9" width="1.45" height="1.45"/><rect x="504.2" y="517.9" width="1.45" height="1.45"/><rect x="505.5" y="517.9" width="1.45" height="1.45"/><rect x="504.2" y="519.2" width="1.45" height="1.45"/><rect x="506.8" y="519.2" width="1.45" height="1.45"/><rect x="509.4" y="519.2" width="1.45" height="1.45"/><rect x="510.7" y="519.2" width="1.45" height="1.45"/><rect x="502.9" y="520.5" width="1.45" height="1.45"/><rect x="504.2" y="520.5" width="1.45" height="1.45"/><rect x="505.5" y="520.5" width="1.45" height="1.45"/><rect x="508.1" y="520.5" width="1.45" height="1.45"/><rect x="509.4" y="520.5" width="1.45" height="1.45"/><rect x="512.0" y="520.5" width="1.45" height="1.45"/><rect x="501.6" y="521.8" width="1.45" height="1.45"/><rect x="504.2" y="521.8" width="1.45" height="1.45"/><rect x="505.5" y="521.8" width="1.45" height="1.45"/><rect x="506.8" y="521.8" width="1.45" height="1.45"/><rect x="508.1" y="521.8" width="1.45" height="1.45"/><rect x="509.4" y="521.8" width="1.45" height="1.45"/><rect x="510.7" y="521.8" width="1.45" height="1.45"/><rect x="512.0" y="521.8" width="1.45" height="1.45"/><rect x="501.6" y="523.1" width="1.45" height="1.45"/><rect x="502.9" y="523.1" width="1.45" height="1.45"/><rect x="504.2" y="523.1" width="1.45" height="1.45"/><rect x="505.5" y="523.1" width="1.45" height="1.45"/><rect x="506.8" y="523.1" width="1.45" height="1.45"/><rect x="508.1" y="523.1" width="1.45" height="1.45"/><rect x="510.7" y="523.1" width="1.45" height="1.45"/><rect x="512.0" y="523.1" width="1.45" height="1.45"/><rect x="502.9" y="524.4" width="1.45" height="1.45"/><rect x="505.5" y="524.4" width="1.45" height="1.45"/><rect x="506.8" y="524.4" width="1.45" height="1.45"/><rect x="508.1" y="524.4" width="1.45" height="1.45"/><rect x="509.4" y="524.4" width="1.45" height="1.45"/><rect x="510.7" y="524.4" width="1.45" height="1.45"/><rect x="512.0" y="524.4" width="1.45" height="1.45"/><rect x="501.6" y="525.7" width="1.45" height="1.45"/><rect x="502.9" y="525.7" width="1.45" height="1.45"/><rect x="504.2" y="525.7" width="1.45" height="1.45"/><rect x="505.5" y="525.7" width="1.45" height="1.45"/><rect x="506.8" y="525.7" width="1.45" height="1.45"/><rect x="508.1" y="525.7" width="1.45" height="1.45"/><rect x="510.7" y="525.7" width="1.45" height="1.45"/><rect x="512.0" y="525.7" width="1.45" height="1.45"/><rect x="501.6" y="527.0" width="1.45" height="1.45"/><rect x="502.9" y="527.0" width="1.45" height="1.45"/><rect x="505.5" y="527.0" width="1.45" height="1.45"/><rect x="508.1" y="527.0" width="1.45" height="1.45"/><rect x="509.4" y="527.0" width="1.45" height="1.45"/><rect x="512.0" y="527.0" width="1.45" height="1.45"/><rect x="501.6" y="528.3" width="1.45" height="1.45"/><rect x="502.9" y="528.3" width="1.45" height="1.45"/><rect x="504.2" y="528.3" width="1.45" height="1.45"/><rect x="506.8" y="528.3" width="1.45" height="1.45"/><rect x="508.1" y="528.3" width="1.45" height="1.45"/><rect x="512.0" y="528.3" width="1.45" height="1.45"/><rect x="501.6" y="529.6" width="1.45" height="1.45"/><rect x="502.9" y="529.6" width="1.45" height="1.45"/><rect x="505.5" y="529.6" width="1.45" height="1.45"/><rect x="509.4" y="529.6" width="1.45" height="1.45"/><rect x="502.9" y="530.9" width="1.45" height="1.45"/><rect x="508.1" y="530.9" width="1.45" height="1.45"/><rect x="510.7" y="530.9" width="1.45" height="1.45"/><rect x="501.6" y="532.2" width="1.45" height="1.45"/><rect x="502.9" y="532.2" width="1.45" height="1.45"/><rect x="505.5" y="532.2" width="1.45" height="1.45"/><rect x="506.8" y="532.2" width="1.45" height="1.45"/><rect x="510.7" y="532.2" width="1.45" height="1.45"/><rect x="512.0" y="532.2" width="1.45" height="1.45"/><rect x="501.6" y="533.5" width="1.45" height="1.45"/><rect x="502.9" y="533.5" width="1.45" height="1.45"/><rect x="505.5" y="533.5" width="1.45" height="1.45"/><rect x="506.8" y="533.5" width="1.45" height="1.45"/><rect x="508.1" y="533.5" width="1.45" height="1.45"/><rect x="509.4" y="533.5" width="1.45" height="1.45"/><rect x="510.7" y="533.5" width="1.45" height="1.45"/><rect x="502.9" y="534.8" width="1.45" height="1.45"/><rect x="504.2" y="534.8" width="1.45" height="1.45"/><rect x="505.5" y="534.8" width="1.45" height="1.45"/><rect x="506.8" y="534.8" width="1.45" height="1.45"/><rect x="508.1" y="534.8" width="1.45" height="1.45"/><rect x="509.4" y="534.8" width="1.45" height="1.45"/><rect x="510.7" y="534.8" width="1.45" height="1.45"/><rect x="512.0" y="534.8" width="1.45" height="1.45"/><rect x="502.9" y="536.1" width="1.45" height="1.45"/><rect x="508.1" y="536.1" width="1.45" height="1.45"/><rect x="509.4" y="536.1" width="1.45" height="1.45"/><rect x="512.0" y="536.1" width="1.45" height="1.45"/><rect x="501.6" y="537.4" width="1.45" height="1.45"/><rect x="502.9" y="537.4" width="1.45" height="1.45"/><rect x="504.2" y="537.4" width="1.45" height="1.45"/><rect x="508.1" y="537.4" width="1.45" height="1.45"/><rect x="510.7" y="537.4" width="1.45" height="1.45"/><rect x="512.0" y="537.4" width="1.45" height="1.45"/><rect x="502.9" y="538.7" width="1.45" height="1.45"/><rect x="504.2" y="538.7" width="1.45" height="1.45"/><rect x="505.5" y="538.7" width="1.45" height="1.45"/><rect x="506.8" y="538.7" width="1.45" height="1.45"/><rect x="510.7" y="538.7" width="1.45" height="1.45"/><rect x="512.0" y="538.7" width="1.45" height="1.45"/><rect x="501.6" y="540.0" width="1.45" height="1.45"/><rect x="502.9" y="540.0" width="1.45" height="1.45"/><rect x="504.2" y="540.0" width="1.45" height="1.45"/><rect x="505.5" y="540.0" width="1.45" height="1.45"/><rect x="509.4" y="540.0" width="1.45" height="1.45"/><rect x="510.7" y="540.0" width="1.45" height="1.45"/><rect x="502.9" y="541.3" width="1.45" height="1.45"/><rect x="504.2" y="541.3" width="1.45" height="1.45"/><rect x="506.8" y="541.3" width="1.45" height="1.45"/><rect x="508.1" y="541.3" width="1.45" height="1.45"/><rect x="512.0" y="541.3" width="1.45" height="1.45"/><rect x="501.6" y="542.6" width="1.45" height="1.45"/><rect x="509.4" y="542.6" width="1.45" height="1.45"/><rect x="510.7" y="542.6" width="1.45" height="1.45"/><rect x="512.0" y="542.6" width="1.45" height="1.45"/></g>
<text x="0" y="0" font-size="9.3" fill="#231f20" stroke="#231f20" stroke-width="0.2" font-family="'Liberation Sans', Arial, sans-serif" text-anchor="end" transform="translate(465.10,555.40) rotate(-45)">Strong+M</text>
<text x="0" y="0" font-size="9.3" fill="#231f20" stroke="#231f20" stroke-width="0.2" font-family="'Liberation Sans', Arial, sans-serif" text-anchor="end" transform="translate(480.90,555.40) rotate(-45)">Weak+M</text>
<text x="0" y="0" font-size="9.3" fill="#231f20" stroke="#231f20" stroke-width="0.2" font-family="'Liberation Sans', Arial, sans-serif" text-anchor="end" transform="translate(496.20,555.40) rotate(-45)">Strong+MM</text>
<text x="0" y="0" font-size="9.3" fill="#231f20" stroke="#231f20" stroke-width="0.2" font-family="'Liberation Sans', Arial, sans-serif" text-anchor="end" transform="translate(511.90,555.40) rotate(-45)">Weak+MM</text>
<line x1="587.7" y1="460.1" x2="587.7" y2="544.4" stroke="#000" stroke-width="0.8"/>
<line x1="587.7" y1="544.4" x2="666.0" y2="544.4" stroke="#000" stroke-width="0.8"/>
<line x1="587.7" y1="460.1" x2="589.3000000000001" y2="460.1" stroke="#000" stroke-width="0.8"/>
<text x="583.10" y="463.30" font-size="9.0" fill="#231f20" font-family="'Liberation Sans', Arial, sans-serif" stroke="#231f20" stroke-width="0.25" text-anchor="end">2</text>
<line x1="587.7" y1="502.3" x2="589.3000000000001" y2="502.3" stroke="#000" stroke-width="0.8"/>
<text x="583.10" y="505.50" font-size="9.0" fill="#231f20" font-family="'Liberation Sans', Arial, sans-serif" stroke="#231f20" stroke-width="0.25" text-anchor="end">1</text>
<line x1="587.7" y1="544.4" x2="589.3000000000001" y2="544.4" stroke="#000" stroke-width="0.8"/>
<text x="583.10" y="547.60" font-size="9.0" fill="#231f20" font-family="'Liberation Sans', Arial, sans-serif" stroke="#231f20" stroke-width="0.25" text-anchor="end">0</text>
<rect x="595.7" y="525.6" width="14.4" height="18.8" fill="#0000ff"/>
<g fill="#0000ff"><rect x="597.8" y="499.0" width="1.45" height="1.45"/><rect x="599.1" y="499.0" width="1.45" height="1.45"/><rect x="600.4" y="499.0" width="1.45" height="1.45"/><rect x="601.7" y="499.0" width="1.45" height="1.45"/><rect x="603.0" y="499.0" width="1.45" height="1.45"/><rect x="604.3" y="499.0" width="1.45" height="1.45"/><rect x="605.6" y="499.0" width="1.45" height="1.45"/><rect x="597.8" y="500.3" width="1.45" height="1.45"/><rect x="599.1" y="500.3" width="1.45" height="1.45"/><rect x="600.4" y="500.3" width="1.45" height="1.45"/><rect x="601.7" y="500.3" width="1.45" height="1.45"/><rect x="603.0" y="500.3" width="1.45" height="1.45"/><rect x="604.3" y="500.3" width="1.45" height="1.45"/><rect x="605.6" y="500.3" width="1.45" height="1.45"/><rect x="606.9" y="500.3" width="1.45" height="1.45"/><rect x="599.1" y="501.6" width="1.45" height="1.45"/><rect x="600.4" y="501.6" width="1.45" height="1.45"/><rect x="601.7" y="501.6" width="1.45" height="1.45"/><rect x="603.0" y="501.6" width="1.45" height="1.45"/><rect x="604.3" y="501.6" width="1.45" height="1.45"/><rect x="605.6" y="501.6" width="1.45" height="1.45"/><rect x="606.9" y="501.6" width="1.45" height="1.45"/><rect x="597.8" y="502.9" width="1.45" height="1.45"/><rect x="600.4" y="502.9" width="1.45" height="1.45"/><rect x="601.7" y="502.9" width="1.45" height="1.45"/><rect x="603.0" y="502.9" width="1.45" height="1.45"/><rect x="604.3" y="502.9" width="1.45" height="1.45"/><rect x="605.6" y="502.9" width="1.45" height="1.45"/><rect x="606.9" y="502.9" width="1.45" height="1.45"/><rect x="597.8" y="504.2" width="1.45" height="1.45"/><rect x="599.1" y="504.2" width="1.45" height="1.45"/><rect x="600.4" y="504.2" width="1.45" height="1.45"/><rect x="603.0" y="504.2" width="1.45" height="1.45"/><rect x="605.6" y="504.2" width="1.45" height="1.45"/><rect x="606.9" y="504.2" width="1.45" height="1.45"/><rect x="597.8" y="505.5" width="1.45" height="1.45"/><rect x="599.1" y="505.5" width="1.45" height="1.45"/><rect x="600.4" y="505.5" width="1.45" height="1.45"/><rect x="601.7" y="505.5" width="1.45" height="1.45"/><rect x="603.0" y="505.5" width="1.45" height="1.45"/><rect x="604.3" y="505.5" width="1.45" height="1.45"/><rect x="605.6" y="505.5" width="1.45" height="1.45"/><rect x="597.8" y="506.8" width="1.45" height="1.45"/><rect x="599.1" y="506.8" width="1.45" height="1.45"/><rect x="600.4" y="506.8" width="1.45" height="1.45"/><rect x="601.7" y="506.8" width="1.45" height="1.45"/><rect x="603.0" y="506.8" width="1.45" height="1.45"/><rect x="605.6" y="506.8" width="1.45" height="1.45"/><rect x="597.8" y="508.1" width="1.45" height="1.45"/><rect x="599.1" y="508.1" width="1.45" height="1.45"/><rect x="600.4" y="508.1" width="1.45" height="1.45"/><rect x="601.7" y="508.1" width="1.45" height="1.45"/><rect x="605.6" y="508.1" width="1.45" height="1.45"/><rect x="599.1" y="509.4" width="1.45" height="1.45"/><rect x="600.4" y="509.4" width="1.45" height="1.45"/><rect x="603.0" y="509.4" width="1.45" height="1.45"/><rect x="605.6" y="509.4" width="1.45" height="1.45"/><rect x="606.9" y="509.4" width="1.45" height="1.45"/><rect x="597.8" y="510.7" width="1.45" height="1.45"/><rect x="599.1" y="510.7" width="1.45" height="1.45"/><rect x="600.4" y="510.7" width="1.45" height="1.45"/><rect x="603.0" y="510.7" width="1.45" height="1.45"/><rect x="604.3" y="510.7" width="1.45" height="1.45"/><rect x="605.6" y="510.7" width="1.45" height="1.45"/><rect x="606.9" y="510.7" width="1.45" height="1.45"/><rect x="597.8" y="512.0" width="1.45" height="1.45"/><rect x="599.1" y="512.0" width="1.45" height="1.45"/><rect x="601.7" y="512.0" width="1.45" height="1.45"/><rect x="603.0" y="512.0" width="1.45" height="1.45"/><rect x="604.3" y="512.0" width="1.45" height="1.45"/><rect x="605.6" y="512.0" width="1.45" height="1.45"/><rect x="606.9" y="512.0" width="1.45" height="1.45"/><rect x="597.8" y="513.3" width="1.45" height="1.45"/><rect x="599.1" y="513.3" width="1.45" height="1.45"/><rect x="600.4" y="513.3" width="1.45" height="1.45"/><rect x="603.0" y="513.3" width="1.45" height="1.45"/><rect x="604.3" y="513.3" width="1.45" height="1.45"/><rect x="605.6" y="513.3" width="1.45" height="1.45"/><rect x="606.9" y="513.3" width="1.45" height="1.45"/><rect x="597.8" y="514.6" width="1.45" height="1.45"/><rect x="599.1" y="514.6" width="1.45" height="1.45"/><rect x="600.4" y="514.6" width="1.45" height="1.45"/><rect x="601.7" y="514.6" width="1.45" height="1.45"/><rect x="603.0" y="514.6" width="1.45" height="1.45"/><rect x="604.3" y="514.6" width="1.45" height="1.45"/><rect x="605.6" y="514.6" width="1.45" height="1.45"/><rect x="606.9" y="514.6" width="1.45" height="1.45"/><rect x="599.1" y="515.9" width="1.45" height="1.45"/><rect x="600.4" y="515.9" width="1.45" height="1.45"/><rect x="604.3" y="515.9" width="1.45" height="1.45"/><rect x="605.6" y="515.9" width="1.45" height="1.45"/><rect x="606.9" y="515.9" width="1.45" height="1.45"/><rect x="597.8" y="517.2" width="1.45" height="1.45"/><rect x="600.4" y="517.2" width="1.45" height="1.45"/><rect x="603.0" y="517.2" width="1.45" height="1.45"/><rect x="604.3" y="517.2" width="1.45" height="1.45"/><rect x="605.6" y="517.2" width="1.45" height="1.45"/><rect x="606.9" y="517.2" width="1.45" height="1.45"/><rect x="597.8" y="518.5" width="1.45" height="1.45"/><rect x="599.1" y="518.5" width="1.45" height="1.45"/><rect x="601.7" y="518.5" width="1.45" height="1.45"/><rect x="603.0" y="518.5" width="1.45" height="1.45"/><rect x="604.3" y="518.5" width="1.45" height="1.45"/><rect x="605.6" y="518.5" width="1.45" height="1.45"/><rect x="606.9" y="518.5" width="1.45" height="1.45"/><rect x="599.1" y="519.8" width="1.45" height="1.45"/><rect x="600.4" y="519.8" width="1.45" height="1.45"/><rect x="601.7" y="519.8" width="1.45" height="1.45"/><rect x="603.0" y="519.8" width="1.45" height="1.45"/><rect x="604.3" y="519.8" width="1.45" height="1.45"/><rect x="605.6" y="519.8" width="1.45" height="1.45"/><rect x="606.9" y="519.8" width="1.45" height="1.45"/><rect x="597.8" y="521.1" width="1.45" height="1.45"/><rect x="599.1" y="521.1" width="1.45" height="1.45"/><rect x="600.4" y="521.1" width="1.45" height="1.45"/><rect x="601.7" y="521.1" width="1.45" height="1.45"/><rect x="603.0" y="521.1" width="1.45" height="1.45"/><rect x="605.6" y="521.1" width="1.45" height="1.45"/><rect x="606.9" y="521.1" width="1.45" height="1.45"/><rect x="597.8" y="522.4" width="1.45" height="1.45"/><rect x="599.1" y="522.4" width="1.45" height="1.45"/><rect x="600.4" y="522.4" width="1.45" height="1.45"/><rect x="601.7" y="522.4" width="1.45" height="1.45"/><rect x="603.0" y="522.4" width="1.45" height="1.45"/><rect x="604.3" y="522.4" width="1.45" height="1.45"/><rect x="605.6" y="522.4" width="1.45" height="1.45"/><rect x="606.9" y="522.4" width="1.45" height="1.45"/><rect x="597.8" y="523.7" width="1.45" height="1.45"/><rect x="599.1" y="523.7" width="1.45" height="1.45"/><rect x="600.4" y="523.7" width="1.45" height="1.45"/><rect x="601.7" y="523.7" width="1.45" height="1.45"/><rect x="604.3" y="523.7" width="1.45" height="1.45"/><rect x="597.8" y="525.0" width="1.45" height="1.45"/><rect x="599.1" y="525.0" width="1.45" height="1.45"/><rect x="600.4" y="525.0" width="1.45" height="1.45"/><rect x="601.7" y="525.0" width="1.45" height="1.45"/><rect x="603.0" y="525.0" width="1.45" height="1.45"/><rect x="604.3" y="525.0" width="1.45" height="1.45"/><rect x="605.6" y="525.0" width="1.45" height="1.45"/><rect x="606.9" y="525.0" width="1.45" height="1.45"/></g>
<rect x="612.40" y="509.30" width="12.50" height="35.10" fill="#000" stroke="#000" stroke-width="2.1"/>
<g fill="#000"><rect x="613.0" y="476.0" width="1.45" height="1.45"/><rect x="614.3" y="476.0" width="1.45" height="1.45"/><rect x="615.6" y="476.0" width="1.45" height="1.45"/><rect x="616.9" y="476.0" width="1.45" height="1.45"/><rect x="618.2" y="476.0" width="1.45" height="1.45"/><rect x="619.5" y="476.0" width="1.45" height="1.45"/><rect x="620.8" y="476.0" width="1.45" height="1.45"/><rect x="623.4" y="476.0" width="1.45" height="1.45"/><rect x="613.0" y="477.3" width="1.45" height="1.45"/><rect x="614.3" y="477.3" width="1.45" height="1.45"/><rect x="615.6" y="477.3" width="1.45" height="1.45"/><rect x="616.9" y="477.3" width="1.45" height="1.45"/><rect x="618.2" y="477.3" width="1.45" height="1.45"/><rect x="619.5" y="477.3" width="1.45" height="1.45"/><rect x="620.8" y="477.3" width="1.45" height="1.45"/><rect x="622.1" y="477.3" width="1.45" height="1.45"/><rect x="623.4" y="477.3" width="1.45" height="1.45"/><rect x="613.0" y="478.6" width="1.45" height="1.45"/><rect x="614.3" y="478.6" width="1.45" height="1.45"/><rect x="615.6" y="478.6" width="1.45" height="1.45"/><rect x="616.9" y="478.6" width="1.45" height="1.45"/><rect x="618.2" y="478.6" width="1.45" height="1.45"/><rect x="619.5" y="478.6" width="1.45" height="1.45"/><rect x="620.8" y="478.6" width="1.45" height="1.45"/><rect x="622.1" y="478.6" width="1.45" height="1.45"/><rect x="623.4" y="478.6" width="1.45" height="1.45"/><rect x="613.0" y="479.9" width="1.45" height="1.45"/><rect x="614.3" y="479.9" width="1.45" height="1.45"/><rect x="615.6" y="479.9" width="1.45" height="1.45"/><rect x="616.9" y="479.9" width="1.45" height="1.45"/><rect x="618.2" y="479.9" width="1.45" height="1.45"/><rect x="620.8" y="479.9" width="1.45" height="1.45"/><rect x="622.1" y="479.9" width="1.45" height="1.45"/><rect x="623.4" y="479.9" width="1.45" height="1.45"/><rect x="613.0" y="481.2" width="1.45" height="1.45"/><rect x="614.3" y="481.2" width="1.45" height="1.45"/><rect x="615.6" y="481.2" width="1.45" height="1.45"/><rect x="618.2" y="481.2" width="1.45" height="1.45"/><rect x="619.5" y="481.2" width="1.45" height="1.45"/><rect x="620.8" y="481.2" width="1.45" height="1.45"/><rect x="622.1" y="481.2" width="1.45" height="1.45"/><rect x="623.4" y="481.2" width="1.45" height="1.45"/><rect x="613.0" y="482.5" width="1.45" height="1.45"/><rect x="614.3" y="482.5" width="1.45" height="1.45"/><rect x="615.6" y="482.5" width="1.45" height="1.45"/><rect x="618.2" y="482.5" width="1.45" height="1.45"/><rect x="620.8" y="482.5" width="1.45" height="1.45"/><rect x="622.1" y="482.5" width="1.45" height="1.45"/><rect x="623.4" y="482.5" width="1.45" height="1.45"/><rect x="613.0" y="483.8" width="1.45" height="1.45"/><rect x="614.3" y="483.8" width="1.45" height="1.45"/><rect x="615.6" y="483.8" width="1.45" height="1.45"/><rect x="616.9" y="483.8" width="1.45" height="1.45"/><rect x="618.2" y="483.8" width="1.45" height="1.45"/><rect x="619.5" y="483.8" width="1.45" height="1.45"/><rect x="622.1" y="483.8" width="1.45" height="1.45"/><rect x="623.4" y="483.8" width="1.45" height="1.45"/><rect x="613.0" y="485.1" width="1.45" height="1.45"/><rect x="614.3" y="485.1" width="1.45" height="1.45"/><rect x="615.6" y="485.1" width="1.45" height="1.45"/><rect x="616.9" y="485.1" width="1.45" height="1.45"/><rect x="618.2" y="485.1" width="1.45" height="1.45"/><rect x="620.8" y="485.1" width="1.45" height="1.45"/><rect x="622.1" y="485.1" width="1.45" height="1.45"/><rect x="623.4" y="485.1" width="1.45" height="1.45"/><rect x="613.0" y="486.4" width="1.45" height="1.45"/><rect x="614.3" y="486.4" width="1.45" height="1.45"/><rect x="615.6" y="486.4" width="1.45" height="1.45"/><rect x="616.9" y="486.4" width="1.45" height="1.45"/><rect x="618.2" y="486.4" width="1.45" height="1.45"/><rect x="619.5" y="486.4" width="1.45" height="1.45"/><rect x="620.8" y="486.4" width="1.45" height="1.45"/><rect x="622.1" y="486.4" width="1.45" height="1.45"/><rect x="623.4" y="486.4" width="1.45" height="1.45"/><rect x="613.0" y="487.7" width="1.45" height="1.45"/><rect x="614.3" y="487.7" width="1.45" height="1.45"/><rect x="615.6" y="487.7" width="1.45" height="1.45"/><rect x="618.2" y="487.7" width="1.45" height="1.45"/><rect x="619.5" y="487.7" width="1.45" height="1.45"/><rect x="622.1" y="487.7" width="1.45" height="1.45"/><rect x="623.4" y="487.7" width="1.45" height="1.45"/><rect x="613.0" y="489.0" width="1.45" height="1.45"/><rect x="614.3" y="489.0" width="1.45" height="1.45"/><rect x="615.6" y="489.0" width="1.45" height="1.45"/><rect x="616.9" y="489.0" width="1.45" height="1.45"/><rect x="618.2" y="489.0" width="1.45" height="1.45"/><rect x="619.5" y="489.0" width="1.45" height="1.45"/><rect x="620.8" y="489.0" width="1.45" height="1.45"/><rect x="622.1" y="489.0" width="1.45" height="1.45"/><rect x="623.4" y="489.0" width="1.45" height="1.45"/><rect x="613.0" y="490.3" width="1.45" height="1.45"/><rect x="614.3" y="490.3" width="1.45" height="1.45"/><rect x="615.6" y="490.3" width="1.45" height="1.45"/><rect x="616.9" y="490.3" width="1.45" height="1.45"/><rect x="618.2" y="490.3" width="1.45" height="1.45"/><rect x="619.5" y="490.3" width="1.45" height="1.45"/><rect x="620.8" y="490.3" width="1.45" height="1.45"/><rect x="622.1" y="490.3" width="1.45" height="1.45"/><rect x="623.4" y="490.3" width="1.45" height="1.45"/><rect x="613.0" y="491.6" width="1.45" height="1.45"/><rect x="614.3" y="491.6" width="1.45" height="1.45"/><rect x="615.6" y="491.6" width="1.45" height="1.45"/><rect x="616.9" y="491.6" width="1.45" height="1.45"/><rect x="618.2" y="491.6" width="1.45" height="1.45"/><rect x="619.5" y="491.6" width="1.45" height="1.45"/><rect x="620.8" y="491.6" width="1.45" height="1.45"/><rect x="622.1" y="491.6" width="1.45" height="1.45"/><rect x="613.0" y="492.9" width="1.45" height="1.45"/><rect x="614.3" y="492.9" width="1.45" height="1.45"/><rect x="615.6" y="492.9" width="1.45" height="1.45"/><rect x="618.2" y="492.9" width="1.45" height="1.45"/><rect x="619.5" y="492.9" width="1.45" height="1.45"/><rect x="620.8" y="492.9" width="1.45" height="1.45"/><rect x="622.1" y="492.9" width="1.45" height="1.45"/><rect x="623.4" y="492.9" width="1.45" height="1.45"/><rect x="613.0" y="494.2" width="1.45" height="1.45"/><rect x="614.3" y="494.2" width="1.45" height="1.45"/><rect x="616.9" y="494.2" width="1.45" height="1.45"/><rect x="618.2" y="494.2" width="1.45" height="1.45"/><rect x="620.8" y="494.2" width="1.45" height="1.45"/><rect x="622.1" y="494.2" width="1.45" height="1.45"/><rect x="623.4" y="494.2" width="1.45" height="1.45"/><rect x="613.0" y="495.5" width="1.45" height="1.45"/><rect x="614.3" y="495.5" width="1.45" height="1.45"/><rect x="615.6" y="495.5" width="1.45" height="1.45"/><rect x="616.9" y="495.5" width="1.45" height="1.45"/><rect x="618.2" y="495.5" width="1.45" height="1.45"/><rect x="619.5" y="495.5" width="1.45" height="1.45"/><rect x="620.8" y="495.5" width="1.45" height="1.45"/><rect x="622.1" y="495.5" width="1.45" height="1.45"/><rect x="613.0" y="496.8" width="1.45" height="1.45"/><rect x="614.3" y="496.8" width="1.45" height="1.45"/><rect x="615.6" y="496.8" width="1.45" height="1.45"/><rect x="616.9" y="496.8" width="1.45" height="1.45"/><rect x="618.2" y="496.8" width="1.45" height="1.45"/><rect x="619.5" y="496.8" width="1.45" height="1.45"/><rect x="620.8" y="496.8" width="1.45" height="1.45"/><rect x="622.1" y="496.8" width="1.45" height="1.45"/><rect x="623.4" y="496.8" width="1.45" height="1.45"/><rect x="613.0" y="498.1" width="1.45" height="1.45"/><rect x="614.3" y="498.1" width="1.45" height="1.45"/><rect x="615.6" y="498.1" width="1.45" height="1.45"/><rect x="616.9" y="498.1" width="1.45" height="1.45"/><rect x="618.2" y="498.1" width="1.45" height="1.45"/><rect x="619.5" y="498.1" width="1.45" height="1.45"/><rect x="620.8" y="498.1" width="1.45" height="1.45"/><rect x="622.1" y="498.1" width="1.45" height="1.45"/><rect x="623.4" y="498.1" width="1.45" height="1.45"/><rect x="615.6" y="499.4" width="1.45" height="1.45"/><rect x="616.9" y="499.4" width="1.45" height="1.45"/><rect x="618.2" y="499.4" width="1.45" height="1.45"/><rect x="619.5" y="499.4" width="1.45" height="1.45"/><rect x="620.8" y="499.4" width="1.45" height="1.45"/><rect x="622.1" y="499.4" width="1.45" height="1.45"/><rect x="623.4" y="499.4" width="1.45" height="1.45"/><rect x="613.0" y="500.7" width="1.45" height="1.45"/><rect x="614.3" y="500.7" width="1.45" height="1.45"/><rect x="616.9" y="500.7" width="1.45" height="1.45"/><rect x="618.2" y="500.7" width="1.45" height="1.45"/><rect x="619.5" y="500.7" width="1.45" height="1.45"/><rect x="620.8" y="500.7" width="1.45" height="1.45"/><rect x="622.1" y="500.7" width="1.45" height="1.45"/><rect x="623.4" y="500.7" width="1.45" height="1.45"/><rect x="613.0" y="502.0" width="1.45" height="1.45"/><rect x="615.6" y="502.0" width="1.45" height="1.45"/><rect x="616.9" y="502.0" width="1.45" height="1.45"/><rect x="618.2" y="502.0" width="1.45" height="1.45"/><rect x="619.5" y="502.0" width="1.45" height="1.45"/><rect x="620.8" y="502.0" width="1.45" height="1.45"/><rect x="622.1" y="502.0" width="1.45" height="1.45"/><rect x="623.4" y="502.0" width="1.45" height="1.45"/><rect x="613.0" y="503.3" width="1.45" height="1.45"/><rect x="614.3" y="503.3" width="1.45" height="1.45"/><rect x="615.6" y="503.3" width="1.45" height="1.45"/><rect x="618.2" y="503.3" width="1.45" height="1.45"/><rect x="619.5" y="503.3" width="1.45" height="1.45"/><rect x="620.8" y="503.3" width="1.45" height="1.45"/><rect x="622.1" y="503.3" width="1.45" height="1.45"/><rect x="623.4" y="503.3" width="1.45" height="1.45"/><rect x="613.0" y="504.6" width="1.45" height="1.45"/><rect x="614.3" y="504.6" width="1.45" height="1.45"/><rect x="615.6" y="504.6" width="1.45" height="1.45"/><rect x="616.9" y="504.6" width="1.45" height="1.45"/><rect x="613.0" y="505.9" width="1.45" height="1.45"/><rect x="614.3" y="505.9" width="1.45" height="1.45"/><rect x="615.6" y="505.9" width="1.45" height="1.45"/><rect x="616.9" y="505.9" width="1.45" height="1.45"/><rect x="618.2" y="505.9" width="1.45" height="1.45"/><rect x="619.5" y="505.9" width="1.45" height="1.45"/><rect x="620.8" y="505.9" width="1.45" height="1.45"/><rect x="623.4" y="505.9" width="1.45" height="1.45"/><rect x="613.0" y="507.2" width="1.45" height="1.45"/><rect x="614.3" y="507.2" width="1.45" height="1.45"/><rect x="615.6" y="507.2" width="1.45" height="1.45"/><rect x="618.2" y="507.2" width="1.45" height="1.45"/><rect x="619.5" y="507.2" width="1.45" height="1.45"/><rect x="620.8" y="507.2" width="1.45" height="1.45"/><rect x="622.1" y="507.2" width="1.45" height="1.45"/><rect x="623.4" y="507.2" width="1.45" height="1.45"/><rect x="613.0" y="508.5" width="1.45" height="1.45"/><rect x="614.3" y="508.5" width="1.45" height="1.45"/><rect x="615.6" y="508.5" width="1.45" height="1.45"/><rect x="616.9" y="508.5" width="1.45" height="1.45"/><rect x="618.2" y="508.5" width="1.45" height="1.45"/><rect x="619.5" y="508.5" width="1.45" height="1.45"/><rect x="620.8" y="508.5" width="1.45" height="1.45"/><rect x="622.1" y="508.5" width="1.45" height="1.45"/><rect x="623.4" y="508.5" width="1.45" height="1.45"/></g>
<g fill="#fff"><rect x="616.1" y="528.0" width="1.45" height="1.45"/><rect x="618.7" y="528.0" width="1.45" height="1.45"/><rect x="620.0" y="528.0" width="1.45" height="1.45"/><rect x="622.6" y="528.0" width="1.45" height="1.45"/><rect x="616.1" y="529.3" width="1.45" height="1.45"/><rect x="618.7" y="529.3" width="1.45" height="1.45"/><rect x="622.6" y="529.3" width="1.45" height="1.45"/><rect x="614.8" y="530.6" width="1.45" height="1.45"/><rect x="622.6" y="530.6" width="1.45" height="1.45"/><rect x="616.1" y="531.9" width="1.45" height="1.45"/><rect x="620.0" y="531.9" width="1.45" height="1.45"/><rect x="614.8" y="533.2" width="1.45" height="1.45"/><rect x="617.4" y="533.2" width="1.45" height="1.45"/><rect x="618.7" y="533.2" width="1.45" height="1.45"/><rect x="621.3" y="533.2" width="1.45" height="1.45"/><rect x="613.5" y="534.5" width="1.45" height="1.45"/><rect x="614.8" y="534.5" width="1.45" height="1.45"/><rect x="616.1" y="535.8" width="1.45" height="1.45"/><rect x="618.7" y="535.8" width="1.45" height="1.45"/><rect x="613.5" y="537.1" width="1.45" height="1.45"/><rect x="620.0" y="537.1" width="1.45" height="1.45"/><rect x="622.6" y="537.1" width="1.45" height="1.45"/><rect x="616.1" y="538.4" width="1.45" height="1.45"/><rect x="620.0" y="538.4" width="1.45" height="1.45"/><rect x="621.3" y="538.4" width="1.45" height="1.45"/><rect x="616.1" y="539.7" width="1.45" height="1.45"/><rect x="617.4" y="539.7" width="1.45" height="1.45"/><rect x="618.7" y="539.7" width="1.45" height="1.45"/><rect x="621.3" y="539.7" width="1.45" height="1.45"/><rect x="613.5" y="541.0" width="1.45" height="1.45"/><rect x="617.4" y="541.0" width="1.45" height="1.45"/><rect x="614.8" y="542.3" width="1.45" height="1.45"/><rect x="616.1" y="542.3" width="1.45" height="1.45"/><rect x="617.4" y="542.3" width="1.45" height="1.45"/><rect x="622.6" y="542.3" width="1.45" height="1.45"/></g>
<rect x="628.00" y="492.10" width="12.40" height="52.30" fill="#0000ff" stroke="#0000ff" stroke-width="2.1"/>
<g fill="#0000ff"><rect x="628.8" y="462.2" width="1.45" height="1.45"/><rect x="630.1" y="462.2" width="1.45" height="1.45"/><rect x="631.4" y="462.2" width="1.45" height="1.45"/><rect x="632.7" y="462.2" width="1.45" height="1.45"/><rect x="634.0" y="462.2" width="1.45" height="1.45"/><rect x="635.3" y="462.2" width="1.45" height="1.45"/><rect x="636.6" y="462.2" width="1.45" height="1.45"/><rect x="637.9" y="462.2" width="1.45" height="1.45"/><rect x="628.8" y="463.5" width="1.45" height="1.45"/><rect x="630.1" y="463.5" width="1.45" height="1.45"/><rect x="631.4" y="463.5" width="1.45" height="1.45"/><rect x="632.7" y="463.5" width="1.45" height="1.45"/><rect x="635.3" y="463.5" width="1.45" height="1.45"/><rect x="636.6" y="463.5" width="1.45" height="1.45"/><rect x="637.9" y="463.5" width="1.45" height="1.45"/><rect x="639.2" y="463.5" width="1.45" height="1.45"/><rect x="628.8" y="464.8" width="1.45" height="1.45"/><rect x="630.1" y="464.8" width="1.45" height="1.45"/><rect x="631.4" y="464.8" width="1.45" height="1.45"/><rect x="632.7" y="464.8" width="1.45" height="1.45"/><rect x="634.0" y="464.8" width="1.45" height="1.45"/><rect x="635.3" y="464.8" width="1.45" height="1.45"/><rect x="636.6" y="464.8" width="1.45" height="1.45"/><rect x="637.9" y="464.8" width="1.45" height="1.45"/><rect x="639.2" y="464.8" width="1.45" height="1.45"/><rect x="630.1" y="466.1" width="1.45" height="1.45"/><rect x="631.4" y="466.1" width="1.45" height="1.45"/><rect x="632.7" y="466.1" width="1.45" height="1.45"/><rect x="634.0" y="466.1" width="1.45" height="1.45"/><rect x="635.3" y="466.1" width="1.45" height="1.45"/><rect x="636.6" y="466.1" width="1.45" height="1.45"/><rect x="637.9" y="466.1" width="1.45" height="1.45"/><rect x="639.2" y="466.1" width="1.45" height="1.45"/><rect x="628.8" y="467.4" width="1.45" height="1.45"/><rect x="632.7" y="467.4" width="1.45" height="1.45"/><rect x="634.0" y="467.4" width="1.45" height="1.45"/><rect x="635.3" y="467.4" width="1.45" height="1.45"/><rect x="637.9" y="467.4" width="1.45" height="1.45"/><rect x="639.2" y="467.4" width="1.45" height="1.45"/><rect x="628.8" y="468.7" width="1.45" height="1.45"/><rect x="630.1" y="468.7" width="1.45" height="1.45"/><rect x="631.4" y="468.7" width="1.45" height="1.45"/><rect x="632.7" y="468.7" width="1.45" height="1.45"/><rect x="636.6" y="468.7" width="1.45" height="1.45"/><rect x="637.9" y="468.7" width="1.45" height="1.45"/><rect x="639.2" y="468.7" width="1.45" height="1.45"/><rect x="628.8" y="470.0" width="1.45" height="1.45"/><rect x="630.1" y="470.0" width="1.45" height="1.45"/><rect x="631.4" y="470.0" width="1.45" height="1.45"/><rect x="632.7" y="470.0" width="1.45" height="1.45"/><rect x="634.0" y="470.0" width="1.45" height="1.45"/><rect x="635.3" y="470.0" width="1.45" height="1.45"/><rect x="636.6" y="470.0" width="1.45" height="1.45"/><rect x="637.9" y="470.0" width="1.45" height="1.45"/><rect x="639.2" y="470.0" width="1.45" height="1.45"/><rect x="630.1" y="471.3" width="1.45" height="1.45"/><rect x="631.4" y="471.3" width="1.45" height="1.45"/><rect x="632.7" y="471.3" width="1.45" height="1.45"/><rect x="634.0" y="471.3" width="1.45" height="1.45"/><rect x="635.3" y="471.3" width="1.45" height="1.45"/><rect x="636.6" y="471.3" width="1.45" height="1.45"/><rect x="637.9" y="471.3" width="1.45" height="1.45"/><rect x="628.8" y="472.6" width="1.45" height="1.45"/><rect x="630.1" y="472.6" width="1.45" height="1.45"/><rect x="631.4" y="472.6" width="1.45" height="1.45"/><rect x="632.7" y="472.6" width="1.45" height="1.45"/><rect x="634.0" y="472.6" width="1.45" height="1.45"/><rect x="635.3" y="472.6" width="1.45" height="1.45"/><rect x="636.6" y="472.6" width="1.45" height="1.45"/><rect x="637.9" y="472.6" width="1.45" height="1.45"/><rect x="639.2" y="472.6" width="1.45" height="1.45"/><rect x="628.8" y="473.9" width="1.45" height="1.45"/><rect x="631.4" y="473.9" width="1.45" height="1.45"/><rect x="634.0" y="473.9" width="1.45" height="1.45"/><rect x="635.3" y="473.9" width="1.45" height="1.45"/><rect x="636.6" y="473.9" width="1.45" height="1.45"/><rect x="637.9" y="473.9" width="1.45" height="1.45"/><rect x="628.8" y="475.2" width="1.45" height="1.45"/><rect x="630.1" y="475.2" width="1.45" height="1.45"/><rect x="631.4" y="475.2" width="1.45" height="1.45"/><rect x="634.0" y="475.2" width="1.45" height="1.45"/><rect x="635.3" y="475.2" width="1.45" height="1.45"/><rect x="637.9" y="475.2" width="1.45" height="1.45"/><rect x="639.2" y="475.2" width="1.45" height="1.45"/><rect x="628.8" y="476.5" width="1.45" height="1.45"/><rect x="630.1" y="476.5" width="1.45" height="1.45"/><rect x="631.4" y="476.5" width="1.45" height="1.45"/><rect x="632.7" y="476.5" width="1.45" height="1.45"/><rect x="634.0" y="476.5" width="1.45" height="1.45"/><rect x="635.3" y="476.5" width="1.45" height="1.45"/><rect x="636.6" y="476.5" width="1.45" height="1.45"/><rect x="637.9" y="476.5" width="1.45" height="1.45"/><rect x="628.8" y="477.8" width="1.45" height="1.45"/><rect x="630.1" y="477.8" width="1.45" height="1.45"/><rect x="631.4" y="477.8" width="1.45" height="1.45"/><rect x="634.0" y="477.8" width="1.45" height="1.45"/><rect x="635.3" y="477.8" width="1.45" height="1.45"/><rect x="636.6" y="477.8" width="1.45" height="1.45"/><rect x="639.2" y="477.8" width="1.45" height="1.45"/><rect x="628.8" y="479.1" width="1.45" height="1.45"/><rect x="630.1" y="479.1" width="1.45" height="1.45"/><rect x="631.4" y="479.1" width="1.45" height="1.45"/><rect x="634.0" y="479.1" width="1.45" height="1.45"/><rect x="636.6" y="479.1" width="1.45" height="1.45"/><rect x="637.9" y="479.1" width="1.45" height="1.45"/><rect x="639.2" y="479.1" width="1.45" height="1.45"/><rect x="628.8" y="480.4" width="1.45" height="1.45"/><rect x="630.1" y="480.4" width="1.45" height="1.45"/><rect x="631.4" y="480.4" width="1.45" height="1.45"/><rect x="632.7" y="480.4" width="1.45" height="1.45"/><rect x="634.0" y="480.4" width="1.45" height="1.45"/><rect x="635.3" y="480.4" width="1.45" height="1.45"/><rect x="636.6" y="480.4" width="1.45" height="1.45"/><rect x="637.9" y="480.4" width="1.45" height="1.45"/><rect x="639.2" y="480.4" width="1.45" height="1.45"/><rect x="628.8" y="481.7" width="1.45" height="1.45"/><rect x="630.1" y="481.7" width="1.45" height="1.45"/><rect x="631.4" y="481.7" width="1.45" height="1.45"/><rect x="632.7" y="481.7" width="1.45" height="1.45"/><rect x="634.0" y="481.7" width="1.45" height="1.45"/><rect x="636.6" y="481.7" width="1.45" height="1.45"/><rect x="639.2" y="481.7" width="1.45" height="1.45"/><rect x="628.8" y="483.0" width="1.45" height="1.45"/><rect x="630.1" y="483.0" width="1.45" height="1.45"/><rect x="631.4" y="483.0" width="1.45" height="1.45"/><rect x="632.7" y="483.0" width="1.45" height="1.45"/><rect x="634.0" y="483.0" width="1.45" height="1.45"/><rect x="635.3" y="483.0" width="1.45" height="1.45"/><rect x="636.6" y="483.0" width="1.45" height="1.45"/><rect x="637.9" y="483.0" width="1.45" height="1.45"/><rect x="639.2" y="483.0" width="1.45" height="1.45"/><rect x="628.8" y="484.3" width="1.45" height="1.45"/><rect x="630.1" y="484.3" width="1.45" height="1.45"/><rect x="631.4" y="484.3" width="1.45" height="1.45"/><rect x="632.7" y="484.3" width="1.45" height="1.45"/><rect x="634.0" y="484.3" width="1.45" height="1.45"/><rect x="635.3" y="484.3" width="1.45" height="1.45"/><rect x="636.6" y="484.3" width="1.45" height="1.45"/><rect x="637.9" y="484.3" width="1.45" height="1.45"/><rect x="639.2" y="484.3" width="1.45" height="1.45"/><rect x="628.8" y="485.6" width="1.45" height="1.45"/><rect x="630.1" y="485.6" width="1.45" height="1.45"/><rect x="631.4" y="485.6" width="1.45" height="1.45"/><rect x="632.7" y="485.6" width="1.45" height="1.45"/><rect x="634.0" y="485.6" width="1.45" height="1.45"/><rect x="636.6" y="485.6" width="1.45" height="1.45"/><rect x="637.9" y="485.6" width="1.45" height="1.45"/><rect x="639.2" y="485.6" width="1.45" height="1.45"/><rect x="630.1" y="486.9" width="1.45" height="1.45"/><rect x="631.4" y="486.9" width="1.45" height="1.45"/><rect x="632.7" y="486.9" width="1.45" height="1.45"/><rect x="634.0" y="486.9" width="1.45" height="1.45"/><rect x="635.3" y="486.9" width="1.45" height="1.45"/><rect x="636.6" y="486.9" width="1.45" height="1.45"/><rect x="639.2" y="486.9" width="1.45" height="1.45"/><rect x="628.8" y="488.2" width="1.45" height="1.45"/><rect x="630.1" y="488.2" width="1.45" height="1.45"/><rect x="631.4" y="488.2" width="1.45" height="1.45"/><rect x="632.7" y="488.2" width="1.45" height="1.45"/><rect x="634.0" y="488.2" width="1.45" height="1.45"/><rect x="635.3" y="488.2" width="1.45" height="1.45"/><rect x="636.6" y="488.2" width="1.45" height="1.45"/><rect x="637.9" y="488.2" width="1.45" height="1.45"/><rect x="628.8" y="489.5" width="1.45" height="1.45"/><rect x="630.1" y="489.5" width="1.45" height="1.45"/><rect x="631.4" y="489.5" width="1.45" height="1.45"/><rect x="632.7" y="489.5" width="1.45" height="1.45"/><rect x="635.3" y="489.5" width="1.45" height="1.45"/><rect x="636.6" y="489.5" width="1.45" height="1.45"/><rect x="637.9" y="489.5" width="1.45" height="1.45"/><rect x="639.2" y="489.5" width="1.45" height="1.45"/><rect x="630.1" y="490.8" width="1.45" height="1.45"/><rect x="631.4" y="490.8" width="1.45" height="1.45"/><rect x="632.7" y="490.8" width="1.45" height="1.45"/><rect x="634.0" y="490.8" width="1.45" height="1.45"/><rect x="635.3" y="490.8" width="1.45" height="1.45"/><rect x="636.6" y="490.8" width="1.45" height="1.45"/><rect x="639.2" y="490.8" width="1.45" height="1.45"/></g>
<g fill="#fff"><rect x="630.3" y="505.0" width="1.45" height="1.45"/><rect x="635.5" y="505.0" width="1.45" height="1.45"/><rect x="631.6" y="506.3" width="1.45" height="1.45"/><rect x="632.9" y="506.3" width="1.45" height="1.45"/><rect x="634.2" y="506.3" width="1.45" height="1.45"/><rect x="636.8" y="506.3" width="1.45" height="1.45"/><rect x="638.1" y="506.3" width="1.45" height="1.45"/><rect x="630.3" y="507.6" width="1.45" height="1.45"/><rect x="632.9" y="507.6" width="1.45" height="1.45"/><rect x="635.5" y="507.6" width="1.45" height="1.45"/><rect x="639.4" y="507.6" width="1.45" height="1.45"/><rect x="631.6" y="508.9" width="1.45" height="1.45"/><rect x="636.8" y="508.9" width="1.45" height="1.45"/><rect x="632.9" y="510.2" width="1.45" height="1.45"/><rect x="639.4" y="510.2" width="1.45" height="1.45"/><rect x="631.6" y="511.5" width="1.45" height="1.45"/><rect x="632.9" y="511.5" width="1.45" height="1.45"/><rect x="634.2" y="511.5" width="1.45" height="1.45"/><rect x="636.8" y="511.5" width="1.45" height="1.45"/><rect x="639.4" y="511.5" width="1.45" height="1.45"/><rect x="630.3" y="512.8" width="1.45" height="1.45"/><rect x="631.6" y="512.8" width="1.45" height="1.45"/><rect x="634.2" y="512.8" width="1.45" height="1.45"/><rect x="630.3" y="514.1" width="1.45" height="1.45"/><rect x="631.6" y="514.1" width="1.45" height="1.45"/><rect x="635.5" y="514.1" width="1.45" height="1.45"/><rect x="638.1" y="514.1" width="1.45" height="1.45"/><rect x="629.0" y="515.4" width="1.45" height="1.45"/><rect x="630.3" y="515.4" width="1.45" height="1.45"/><rect x="635.5" y="515.4" width="1.45" height="1.45"/><rect x="638.1" y="515.4" width="1.45" height="1.45"/><rect x="629.0" y="516.7" width="1.45" height="1.45"/><rect x="631.6" y="516.7" width="1.45" height="1.45"/><rect x="635.5" y="516.7" width="1.45" height="1.45"/><rect x="630.3" y="518.0" width="1.45" height="1.45"/><rect x="635.5" y="518.0" width="1.45" height="1.45"/><rect x="636.8" y="518.0" width="1.45" height="1.45"/><rect x="638.1" y="518.0" width="1.45" height="1.45"/><rect x="639.4" y="518.0" width="1.45" height="1.45"/><rect x="629.0" y="519.3" width="1.45" height="1.45"/><rect x="635.5" y="519.3" width="1.45" height="1.45"/><rect x="632.9" y="521.9" width="1.45" height="1.45"/><rect x="635.5" y="521.9" width="1.45" height="1.45"/><rect x="639.4" y="521.9" width="1.45" height="1.45"/><rect x="631.6" y="523.2" width="1.45" height="1.45"/><rect x="632.9" y="523.2" width="1.45" height="1.45"/><rect x="634.2" y="523.2" width="1.45" height="1.45"/><rect x="639.4" y="523.2" width="1.45" height="1.45"/><rect x="636.8" y="524.5" width="1.45" height="1.45"/><rect x="632.9" y="525.8" width="1.45" height="1.45"/><rect x="636.8" y="527.1" width="1.45" height="1.45"/><rect x="639.4" y="527.1" width="1.45" height="1.45"/><rect x="635.5" y="528.4" width="1.45" height="1.45"/><rect x="636.8" y="528.4" width="1.45" height="1.45"/><rect x="632.9" y="529.7" width="1.45" height="1.45"/><rect x="634.2" y="529.7" width="1.45" height="1.45"/><rect x="631.6" y="531.0" width="1.45" height="1.45"/><rect x="636.8" y="531.0" width="1.45" height="1.45"/><rect x="638.1" y="531.0" width="1.45" height="1.45"/><rect x="639.4" y="531.0" width="1.45" height="1.45"/><rect x="629.0" y="532.3" width="1.45" height="1.45"/><rect x="635.5" y="532.3" width="1.45" height="1.45"/><rect x="634.2" y="533.6" width="1.45" height="1.45"/><rect x="639.4" y="533.6" width="1.45" height="1.45"/><rect x="632.9" y="534.9" width="1.45" height="1.45"/><rect x="634.2" y="534.9" width="1.45" height="1.45"/><rect x="636.8" y="534.9" width="1.45" height="1.45"/><rect x="638.1" y="534.9" width="1.45" height="1.45"/><rect x="629.0" y="536.2" width="1.45" height="1.45"/><rect x="631.6" y="536.2" width="1.45" height="1.45"/><rect x="634.2" y="536.2" width="1.45" height="1.45"/><rect x="638.1" y="536.2" width="1.45" height="1.45"/><rect x="632.9" y="537.5" width="1.45" height="1.45"/><rect x="638.1" y="537.5" width="1.45" height="1.45"/><rect x="636.8" y="538.8" width="1.45" height="1.45"/><rect x="632.9" y="540.1" width="1.45" height="1.45"/><rect x="630.3" y="541.4" width="1.45" height="1.45"/><rect x="638.1" y="542.7" width="1.45" height="1.45"/></g>
<rect x="643.60" y="505.00" width="12.40" height="39.40" fill="#000" stroke="#000" stroke-width="2.1"/>
<g fill="#000"><rect x="644.3" y="476.7" width="1.45" height="1.45"/><rect x="645.6" y="476.7" width="1.45" height="1.45"/><rect x="646.9" y="476.7" width="1.45" height="1.45"/><rect x="648.2" y="476.7" width="1.45" height="1.45"/><rect x="649.5" y="476.7" width="1.45" height="1.45"/><rect x="650.8" y="476.7" width="1.45" height="1.45"/><rect x="652.1" y="476.7" width="1.45" height="1.45"/><rect x="653.4" y="476.7" width="1.45" height="1.45"/><rect x="654.7" y="476.7" width="1.45" height="1.45"/><rect x="644.3" y="478.0" width="1.45" height="1.45"/><rect x="645.6" y="478.0" width="1.45" height="1.45"/><rect x="646.9" y="478.0" width="1.45" height="1.45"/><rect x="648.2" y="478.0" width="1.45" height="1.45"/><rect x="649.5" y="478.0" width="1.45" height="1.45"/><rect x="650.8" y="478.0" width="1.45" height="1.45"/><rect x="652.1" y="478.0" width="1.45" height="1.45"/><rect x="653.4" y="478.0" width="1.45" height="1.45"/><rect x="654.7" y="478.0" width="1.45" height="1.45"/><rect x="644.3" y="479.3" width="1.45" height="1.45"/><rect x="646.9" y="479.3" width="1.45" height="1.45"/><rect x="649.5" y="479.3" width="1.45" height="1.45"/><rect x="650.8" y="479.3" width="1.45" height="1.45"/><rect x="652.1" y="479.3" width="1.45" height="1.45"/><rect x="653.4" y="479.3" width="1.45" height="1.45"/><rect x="644.3" y="480.6" width="1.45" height="1.45"/><rect x="645.6" y="480.6" width="1.45" height="1.45"/><rect x="646.9" y="480.6" width="1.45" height="1.45"/><rect x="648.2" y="480.6" width="1.45" height="1.45"/><rect x="650.8" y="480.6" width="1.45" height="1.45"/><rect x="652.1" y="480.6" width="1.45" height="1.45"/><rect x="653.4" y="480.6" width="1.45" height="1.45"/><rect x="654.7" y="480.6" width="1.45" height="1.45"/><rect x="644.3" y="481.9" width="1.45" height="1.45"/><rect x="646.9" y="481.9" width="1.45" height="1.45"/><rect x="649.5" y="481.9" width="1.45" height="1.45"/><rect x="650.8" y="481.9" width="1.45" height="1.45"/><rect x="652.1" y="481.9" width="1.45" height="1.45"/><rect x="653.4" y="481.9" width="1.45" height="1.45"/><rect x="654.7" y="481.9" width="1.45" height="1.45"/><rect x="644.3" y="483.2" width="1.45" height="1.45"/><rect x="645.6" y="483.2" width="1.45" height="1.45"/><rect x="646.9" y="483.2" width="1.45" height="1.45"/><rect x="648.2" y="483.2" width="1.45" height="1.45"/><rect x="649.5" y="483.2" width="1.45" height="1.45"/><rect x="650.8" y="483.2" width="1.45" height="1.45"/><rect x="653.4" y="483.2" width="1.45" height="1.45"/><rect x="654.7" y="483.2" width="1.45" height="1.45"/><rect x="644.3" y="484.5" width="1.45" height="1.45"/><rect x="645.6" y="484.5" width="1.45" height="1.45"/><rect x="646.9" y="484.5" width="1.45" height="1.45"/><rect x="648.2" y="484.5" width="1.45" height="1.45"/><rect x="649.5" y="484.5" width="1.45" height="1.45"/><rect x="650.8" y="484.5" width="1.45" height="1.45"/><rect x="652.1" y="484.5" width="1.45" height="1.45"/><rect x="653.4" y="484.5" width="1.45" height="1.45"/><rect x="654.7" y="484.5" width="1.45" height="1.45"/><rect x="644.3" y="485.8" width="1.45" height="1.45"/><rect x="645.6" y="485.8" width="1.45" height="1.45"/><rect x="646.9" y="485.8" width="1.45" height="1.45"/><rect x="649.5" y="485.8" width="1.45" height="1.45"/><rect x="652.1" y="485.8" width="1.45" height="1.45"/><rect x="653.4" y="485.8" width="1.45" height="1.45"/><rect x="654.7" y="485.8" width="1.45" height="1.45"/><rect x="644.3" y="487.1" width="1.45" height="1.45"/><rect x="646.9" y="487.1" width="1.45" height="1.45"/><rect x="648.2" y="487.1" width="1.45" height="1.45"/><rect x="649.5" y="487.1" width="1.45" height="1.45"/><rect x="652.1" y="487.1" width="1.45" height="1.45"/><rect x="653.4" y="487.1" width="1.45" height="1.45"/><rect x="654.7" y="487.1" width="1.45" height="1.45"/><rect x="644.3" y="488.4" width="1.45" height="1.45"/><rect x="645.6" y="488.4" width="1.45" height="1.45"/><rect x="646.9" y="488.4" width="1.45" height="1.45"/><rect x="648.2" y="488.4" width="1.45" height="1.45"/><rect x="649.5" y="488.4" width="1.45" height="1.45"/><rect x="650.8" y="488.4" width="1.45" height="1.45"/><rect x="653.4" y="488.4" width="1.45" height="1.45"/><rect x="654.7" y="488.4" width="1.45" height="1.45"/><rect x="644.3" y="489.7" width="1.45" height="1.45"/><rect x="645.6" y="489.7" width="1.45" height="1.45"/><rect x="648.2" y="489.7" width="1.45" height="1.45"/><rect x="649.5" y="489.7" width="1.45" height="1.45"/><rect x="650.8" y="489.7" width="1.45" height="1.45"/><rect x="653.4" y="489.7" width="1.45" height="1.45"/><rect x="654.7" y="489.7" width="1.45" height="1.45"/><rect x="644.3" y="491.0" width="1.45" height="1.45"/><rect x="645.6" y="491.0" width="1.45" height="1.45"/><rect x="646.9" y="491.0" width="1.45" height="1.45"/><rect x="648.2" y="491.0" width="1.45" height="1.45"/><rect x="649.5" y="491.0" width="1.45" height="1.45"/><rect x="650.8" y="491.0" width="1.45" height="1.45"/><rect x="652.1" y="491.0" width="1.45" height="1.45"/><rect x="653.4" y="491.0" width="1.45" height="1.45"/><rect x="654.7" y="491.0" width="1.45" height="1.45"/><rect x="644.3" y="492.3" width="1.45" height="1.45"/><rect x="646.9" y="492.3" width="1.45" height="1.45"/><rect x="648.2" y="492.3" width="1.45" height="1.45"/><rect x="649.5" y="492.3" width="1.45" height="1.45"/><rect x="650.8" y="492.3" width="1.45" height="1.45"/><rect x="653.4" y="492.3" width="1.45" height="1.45"/><rect x="654.7" y="492.3" width="1.45" height="1.45"/><rect x="644.3" y="493.6" width="1.45" height="1.45"/><rect x="645.6" y="493.6" width="1.45" height="1.45"/><rect x="646.9" y="493.6" width="1.45" height="1.45"/><rect x="648.2" y="493.6" width="1.45" height="1.45"/><rect x="649.5" y="493.6" width="1.45" height="1.45"/><rect x="650.8" y="493.6" width="1.45" height="1.45"/><rect x="652.1" y="493.6" width="1.45" height="1.45"/><rect x="653.4" y="493.6" width="1.45" height="1.45"/><rect x="654.7" y="493.6" width="1.45" height="1.45"/><rect x="644.3" y="494.9" width="1.45" height="1.45"/><rect x="645.6" y="494.9" width="1.45" height="1.45"/><rect x="646.9" y="494.9" width="1.45" height="1.45"/><rect x="652.1" y="494.9" width="1.45" height="1.45"/><rect x="653.4" y="494.9" width="1.45" height="1.45"/><rect x="654.7" y="494.9" width="1.45" height="1.45"/><rect x="644.3" y="496.2" width="1.45" height="1.45"/><rect x="645.6" y="496.2" width="1.45" height="1.45"/><rect x="648.2" y="496.2" width="1.45" height="1.45"/><rect x="649.5" y="496.2" width="1.45" height="1.45"/><rect x="652.1" y="496.2" width="1.45" height="1.45"/><rect x="653.4" y="496.2" width="1.45" height="1.45"/><rect x="654.7" y="496.2" width="1.45" height="1.45"/><rect x="644.3" y="497.5" width="1.45" height="1.45"/><rect x="645.6" y="497.5" width="1.45" height="1.45"/><rect x="648.2" y="497.5" width="1.45" height="1.45"/><rect x="649.5" y="497.5" width="1.45" height="1.45"/><rect x="652.1" y="497.5" width="1.45" height="1.45"/><rect x="653.4" y="497.5" width="1.45" height="1.45"/><rect x="644.3" y="498.8" width="1.45" height="1.45"/><rect x="646.9" y="498.8" width="1.45" height="1.45"/><rect x="648.2" y="498.8" width="1.45" height="1.45"/><rect x="649.5" y="498.8" width="1.45" height="1.45"/><rect x="650.8" y="498.8" width="1.45" height="1.45"/><rect x="652.1" y="498.8" width="1.45" height="1.45"/><rect x="653.4" y="498.8" width="1.45" height="1.45"/><rect x="654.7" y="498.8" width="1.45" height="1.45"/><rect x="644.3" y="500.1" width="1.45" height="1.45"/><rect x="645.6" y="500.1" width="1.45" height="1.45"/><rect x="646.9" y="500.1" width="1.45" height="1.45"/><rect x="648.2" y="500.1" width="1.45" height="1.45"/><rect x="649.5" y="500.1" width="1.45" height="1.45"/><rect x="650.8" y="500.1" width="1.45" height="1.45"/><rect x="652.1" y="500.1" width="1.45" height="1.45"/><rect x="653.4" y="500.1" width="1.45" height="1.45"/><rect x="654.7" y="500.1" width="1.45" height="1.45"/><rect x="644.3" y="501.4" width="1.45" height="1.45"/><rect x="645.6" y="501.4" width="1.45" height="1.45"/><rect x="646.9" y="501.4" width="1.45" height="1.45"/><rect x="648.2" y="501.4" width="1.45" height="1.45"/><rect x="649.5" y="501.4" width="1.45" height="1.45"/><rect x="650.8" y="501.4" width="1.45" height="1.45"/><rect x="652.1" y="501.4" width="1.45" height="1.45"/><rect x="653.4" y="501.4" width="1.45" height="1.45"/><rect x="654.7" y="501.4" width="1.45" height="1.45"/><rect x="644.3" y="502.7" width="1.45" height="1.45"/><rect x="645.6" y="502.7" width="1.45" height="1.45"/><rect x="648.2" y="502.7" width="1.45" height="1.45"/><rect x="649.5" y="502.7" width="1.45" height="1.45"/><rect x="652.1" y="502.7" width="1.45" height="1.45"/><rect x="653.4" y="502.7" width="1.45" height="1.45"/><rect x="654.7" y="502.7" width="1.45" height="1.45"/><rect x="645.6" y="504.0" width="1.45" height="1.45"/><rect x="646.9" y="504.0" width="1.45" height="1.45"/><rect x="648.2" y="504.0" width="1.45" height="1.45"/><rect x="649.5" y="504.0" width="1.45" height="1.45"/><rect x="650.8" y="504.0" width="1.45" height="1.45"/><rect x="652.1" y="504.0" width="1.45" height="1.45"/><rect x="653.4" y="504.0" width="1.45" height="1.45"/><rect x="654.7" y="504.0" width="1.45" height="1.45"/></g>
<g fill="#fff"><rect x="645.8" y="510.0" width="1.45" height="1.45"/><rect x="648.4" y="510.0" width="1.45" height="1.45"/><rect x="649.7" y="510.0" width="1.45" height="1.45"/><rect x="651.0" y="510.0" width="1.45" height="1.45"/><rect x="644.5" y="511.3" width="1.45" height="1.45"/><rect x="652.3" y="511.3" width="1.45" height="1.45"/><rect x="654.9" y="511.3" width="1.45" height="1.45"/><rect x="644.5" y="512.6" width="1.45" height="1.45"/><rect x="645.8" y="512.6" width="1.45" height="1.45"/><rect x="652.3" y="512.6" width="1.45" height="1.45"/><rect x="654.9" y="512.6" width="1.45" height="1.45"/><rect x="648.4" y="513.9" width="1.45" height="1.45"/><rect x="649.7" y="513.9" width="1.45" height="1.45"/><rect x="653.6" y="513.9" width="1.45" height="1.45"/><rect x="652.3" y="515.2" width="1.45" height="1.45"/><rect x="645.8" y="516.5" width="1.45" height="1.45"/><rect x="647.1" y="516.5" width="1.45" height="1.45"/><rect x="651.0" y="516.5" width="1.45" height="1.45"/><rect x="653.6" y="516.5" width="1.45" height="1.45"/><rect x="654.9" y="516.5" width="1.45" height="1.45"/><rect x="644.5" y="517.8" width="1.45" height="1.45"/><rect x="647.1" y="519.1" width="1.45" height="1.45"/><rect x="652.3" y="519.1" width="1.45" height="1.45"/><rect x="644.5" y="520.4" width="1.45" height="1.45"/><rect x="649.7" y="520.4" width="1.45" height="1.45"/><rect x="647.1" y="523.0" width="1.45" height="1.45"/><rect x="651.0" y="523.0" width="1.45" height="1.45"/><rect x="653.6" y="523.0" width="1.45" height="1.45"/><rect x="654.9" y="523.0" width="1.45" height="1.45"/><rect x="645.8" y="524.3" width="1.45" height="1.45"/><rect x="649.7" y="525.6" width="1.45" height="1.45"/><rect x="647.1" y="526.9" width="1.45" height="1.45"/><rect x="649.7" y="526.9" width="1.45" height="1.45"/><rect x="651.0" y="526.9" width="1.45" height="1.45"/><rect x="647.1" y="528.2" width="1.45" height="1.45"/><rect x="653.6" y="528.2" width="1.45" height="1.45"/><rect x="654.9" y="528.2" width="1.45" height="1.45"/><rect x="649.7" y="529.5" width="1.45" height="1.45"/><rect x="652.3" y="529.5" width="1.45" height="1.45"/><rect x="654.9" y="529.5" width="1.45" height="1.45"/><rect x="644.5" y="530.8" width="1.45" height="1.45"/><rect x="648.4" y="530.8" width="1.45" height="1.45"/><rect x="648.4" y="532.1" width="1.45" height="1.45"/><rect x="651.0" y="532.1" width="1.45" height="1.45"/><rect x="653.6" y="532.1" width="1.45" height="1.45"/><rect x="654.9" y="532.1" width="1.45" height="1.45"/><rect x="648.4" y="533.4" width="1.45" height="1.45"/><rect x="651.0" y="533.4" width="1.45" height="1.45"/><rect x="649.7" y="534.7" width="1.45" height="1.45"/><rect x="644.5" y="537.3" width="1.45" height="1.45"/><rect x="644.5" y="538.6" width="1.45" height="1.45"/><rect x="647.1" y="538.6" width="1.45" height="1.45"/><rect x="651.0" y="538.6" width="1.45" height="1.45"/><rect x="654.9" y="538.6" width="1.45" height="1.45"/><rect x="653.6" y="541.2" width="1.45" height="1.45"/><rect x="654.9" y="541.2" width="1.45" height="1.45"/><rect x="649.7" y="542.5" width="1.45" height="1.45"/><rect x="653.6" y="542.5" width="1.45" height="1.45"/></g>
<text x="0" y="0" font-size="9.3" fill="#231f20" stroke="#231f20" stroke-width="0.2" font-family="'Liberation Sans', Arial, sans-serif" text-anchor="end" transform="translate(607.80,555.40) rotate(-45)">Strong+M</text>
<text x="0" y="0" font-size="9.3" fill="#231f20" stroke="#231f20" stroke-width="0.2" font-family="'Liberation Sans', Arial, sans-serif" text-anchor="end" transform="translate(623.50,555.40) rotate(-45)">Weak+M</text>
<text x="0" y="0" font-size="9.3" fill="#231f20" stroke="#231f20" stroke-width="0.2" font-family="'Liberation Sans', Arial, sans-serif" text-anchor="end" transform="translate(639.00,555.40) rotate(-45)">Strong+MM</text>
<text x="0" y="0" font-size="9.3" fill="#231f20" stroke="#231f20" stroke-width="0.2" font-family="'Liberation Sans', Arial, sans-serif" text-anchor="end" transform="translate(654.60,555.40) rotate(-45)">Weak+MM</text>
</svg>
</body></html>
